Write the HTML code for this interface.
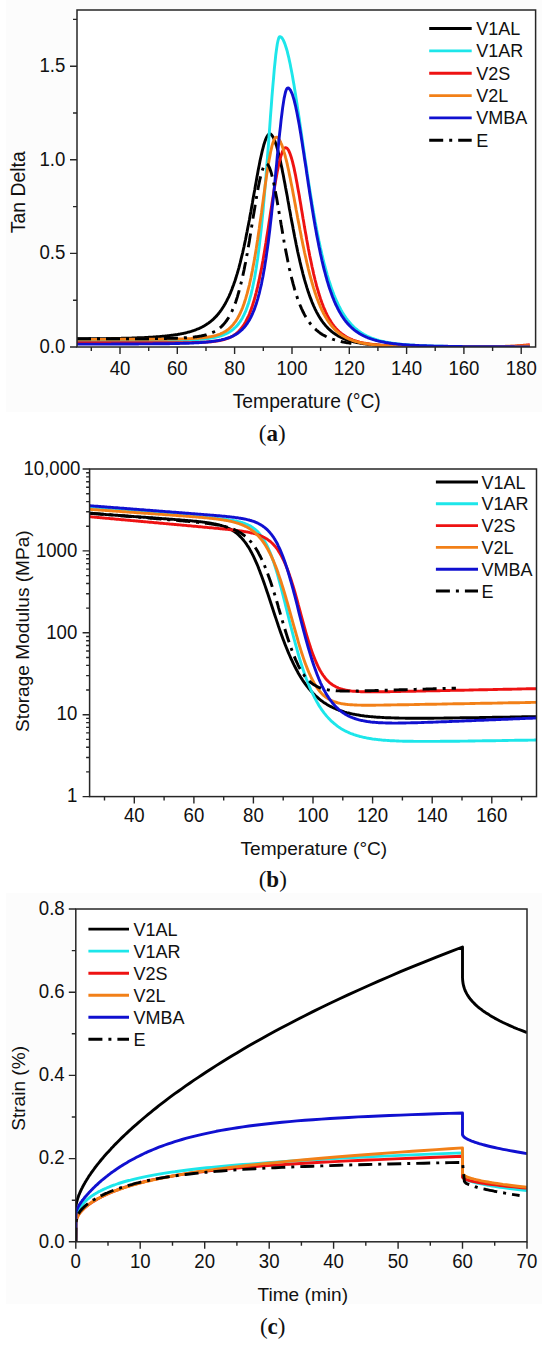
<!DOCTYPE html>
<html><head><meta charset="utf-8"><title>Figure</title>
<style>html,body{margin:0;padding:0;background:#fff;width:550px;height:1346px;overflow:hidden;position:relative}</style>
</head><body>
<svg width="550" height="1346" viewBox="0 0 550 1346" style="position:absolute;left:0;top:0;font-family:'Liberation Sans', sans-serif;fill:#111111">
<rect x="0" y="0" width="550" height="1346" fill="#ffffff"/>
<rect x="6" y="0" width="536" height="412" fill="#fcfcfc"/>
<rect x="6" y="893" width="536" height="411" fill="#fcfcfc"/>
<rect x="77" y="10" width="458.6" height="337" fill="#ffffff"/>
<rect x="89.6" y="469" width="446.8" height="327.6" fill="#ffffff"/>
<rect x="75.8" y="909" width="451.1" height="332.8" fill="#ffffff"/>
<g clip-path="url(#ca)">
<path d="M77.0,339.0 L77.8,338.9 L78.5,338.9 L79.3,338.9 L80.0,338.9 L80.8,338.9 L81.5,338.9 L82.3,338.9 L83.0,338.9 L83.8,338.9 L84.6,338.9 L85.3,338.9 L86.1,338.9 L86.8,338.9 L87.6,338.9 L88.3,338.9 L89.1,338.8 L89.9,338.8 L90.6,338.8 L91.4,338.8 L92.1,338.8 L92.9,338.8 L93.6,338.8 L94.4,338.8 L95.1,338.8 L95.9,338.8 L96.7,338.8 L97.4,338.8 L98.2,338.7 L98.9,338.7 L99.7,338.7 L100.4,338.7 L101.2,338.7 L101.9,338.7 L102.7,338.7 L103.5,338.7 L104.2,338.7 L105.0,338.7 L105.7,338.6 L106.5,338.6 L107.2,338.6 L108.0,338.6 L108.8,338.6 L109.5,338.6 L110.3,338.6 L111.0,338.6 L111.8,338.5 L112.5,338.5 L113.3,338.5 L114.0,338.5 L114.8,338.5 L115.6,338.5 L116.3,338.4 L117.1,338.4 L117.8,338.4 L118.6,338.4 L119.3,338.4 L120.1,338.4 L120.8,338.4 L121.6,338.3 L122.4,338.3 L123.1,338.3 L123.9,338.3 L124.6,338.3 L125.4,338.2 L126.1,338.2 L126.9,338.2 L127.7,338.2 L128.4,338.2 L129.2,338.1 L129.9,338.1 L130.7,338.1 L131.4,338.1 L132.2,338.0 L132.9,338.0 L133.7,338.0 L134.5,338.0 L135.2,337.9 L136.0,337.9 L136.7,337.9 L137.5,337.8 L138.2,337.8 L139.0,337.8 L139.7,337.8 L140.5,337.7 L141.3,337.7 L142.0,337.7 L142.8,337.6 L143.5,337.6 L144.3,337.6 L145.0,337.5 L145.8,337.5 L146.5,337.4 L147.3,337.4 L148.1,337.4 L148.8,337.3 L149.6,337.3 L150.3,337.2 L151.1,337.2 L151.8,337.1 L152.6,337.1 L153.4,337.0 L154.1,337.0 L154.9,336.9 L155.6,336.9 L156.4,336.8 L157.1,336.8 L157.9,336.7 L158.6,336.7 L159.4,336.6 L160.2,336.5 L160.9,336.5 L161.7,336.4 L162.4,336.3 L163.2,336.3 L163.9,336.2 L164.7,336.1 L165.4,336.0 L166.2,336.0 L167.0,335.9 L167.7,335.8 L168.5,335.7 L169.2,335.6 L170.0,335.5 L170.7,335.4 L171.5,335.3 L172.3,335.2 L173.0,335.1 L173.8,335.0 L174.5,334.9 L175.3,334.8 L176.0,334.7 L176.8,334.6 L177.5,334.5 L178.3,334.3 L179.1,334.2 L179.8,334.1 L180.6,333.9 L181.3,333.8 L182.1,333.6 L182.8,333.5 L183.6,333.3 L184.3,333.1 L185.1,333.0 L185.9,332.8 L186.6,332.6 L187.4,332.4 L188.1,332.2 L188.9,332.0 L189.6,331.8 L190.4,331.6 L191.2,331.4 L191.9,331.1 L192.7,330.9 L193.4,330.6 L194.2,330.4 L194.9,330.1 L195.7,329.8 L196.4,329.5 L197.2,329.2 L198.0,328.9 L198.7,328.6 L199.5,328.3 L200.2,327.9 L201.0,327.6 L201.7,327.2 L202.5,326.8 L203.2,326.4 L204.0,326.0 L204.8,325.5 L205.5,325.1 L206.3,324.6 L207.0,324.1 L207.8,323.6 L208.5,323.1 L209.3,322.5 L210.1,321.9 L210.8,321.3 L211.6,320.7 L212.3,320.1 L213.1,319.4 L213.8,318.7 L214.6,317.9 L215.3,317.2 L216.1,316.4 L216.9,315.6 L217.6,314.7 L218.4,313.8 L219.1,312.8 L219.9,311.9 L220.6,310.8 L221.4,309.8 L222.1,308.7 L222.9,307.5 L223.7,306.3 L224.4,305.0 L225.2,303.7 L225.9,302.4 L226.7,300.9 L227.4,299.4 L228.2,297.9 L229.0,296.3 L229.7,294.6 L230.5,292.8 L231.2,291.0 L232.0,289.1 L232.7,287.1 L233.5,285.0 L234.2,282.9 L235.0,280.7 L235.8,278.3 L236.5,275.9 L237.3,273.4 L238.0,270.8 L238.8,268.1 L239.5,265.3 L240.3,262.4 L241.0,259.4 L241.8,256.2 L242.6,253.0 L243.3,249.7 L244.1,246.3 L244.8,242.8 L245.6,239.2 L246.3,235.4 L247.1,231.6 L247.8,227.7 L248.6,223.8 L249.4,219.7 L250.1,215.6 L250.9,211.4 L251.6,207.2 L252.4,202.9 L253.1,198.6 L253.9,194.3 L254.7,190.0 L255.4,185.7 L256.2,181.4 L256.9,177.2 L257.7,173.1 L258.4,169.1 L259.2,165.2 L259.9,161.4 L260.7,157.8 L261.5,154.3 L262.2,151.1 L263.0,148.1 L263.7,145.3 L264.5,142.8 L265.2,140.6 L266.0,138.6 L266.7,137.0 L267.5,135.7 L268.3,134.7 L269.0,134.1 L269.8,133.8 L270.5,134.0 L271.3,134.6 L272.0,135.5 L272.8,136.6 L273.6,138.0 L274.3,139.7 L275.1,141.6 L275.8,143.7 L276.6,146.1 L277.3,148.7 L278.1,151.5 L278.8,154.5 L279.6,157.7 L280.4,161.0 L281.1,164.5 L281.9,168.1 L282.6,171.9 L283.4,175.8 L284.1,179.7 L284.9,183.7 L285.6,187.8 L286.4,191.9 L287.2,196.1 L287.9,200.3 L288.7,204.5 L289.4,208.7 L290.2,212.8 L290.9,217.0 L291.7,221.1 L292.5,225.1 L293.2,229.1 L294.0,233.1 L294.7,237.0 L295.5,240.8 L296.2,244.5 L297.0,248.1 L297.7,251.7 L298.5,255.2 L299.3,258.6 L300.0,261.9 L300.8,265.1 L301.5,268.2 L302.3,271.2 L303.0,274.1 L303.8,277.0 L304.5,279.7 L305.3,282.4 L306.1,284.9 L306.8,287.4 L307.6,289.8 L308.3,292.1 L309.1,294.3 L309.8,296.4 L310.6,298.4 L311.4,300.4 L312.1,302.3 L312.9,304.1 L313.6,305.8 L314.4,307.5 L315.1,309.1 L315.9,310.7 L316.6,312.1 L317.4,313.6 L318.2,314.9 L318.9,316.2 L319.7,317.5 L320.4,318.7 L321.2,319.8 L321.9,320.9 L322.7,322.0 L323.4,323.0 L324.2,323.9 L325.0,324.9 L325.7,325.7 L326.5,326.6 L327.2,327.4 L328.0,328.2 L328.7,328.9 L329.5,329.6 L330.3,330.3 L331.0,331.0 L331.8,331.6 L332.5,332.2 L333.3,332.8 L334.0,333.3 L334.8,333.8 L335.5,334.3 L336.3,334.8 L337.1,335.3 L337.8,335.7 L338.6,336.2 L339.3,336.6 L340.1,336.9 L340.8,337.3 L341.6,337.7 L342.3,338.0 L343.1,338.4 L343.9,338.7 L344.6,339.0 L345.4,339.3 L346.1,339.5 L346.9,339.8 L347.6,340.1 L348.4,340.3 L349.2,340.6 L349.9,340.8 L350.7,341.0 L351.4,341.2 L352.2,341.4 L352.9,341.6 L353.7,341.8 L354.4,342.0 L355.2,342.1 L356.0,342.3 L356.7,342.5 L357.5,342.6 L358.2,342.8 L359.0,342.9 L359.7,343.0 L360.5,343.2 L361.2,343.3 L362.0,343.4 L362.8,343.5 L363.5,343.7 L364.3,343.8 L365.0,343.9 L365.8,344.0 L366.5,344.1 L367.3,344.2 L368.0,344.2 L368.8,344.3 L369.6,344.4 L370.3,344.5 L371.1,344.6 L371.8,344.6 L372.6,344.7 L373.3,344.8 L374.1,344.9 L374.9,344.9 L375.6,345.0 L376.4,345.0 L377.1,345.1 L377.9,345.2 L378.6,345.2 L379.4,345.3 L380.1,345.3 L380.9,345.4 L381.7,345.4 L382.4,345.5 L383.2,345.5 L383.9,345.5 L384.7,345.6 L385.4,345.6 L386.2,345.7 L386.9,345.7 L387.7,345.7 L388.5,345.8 L389.2,345.8 L390.0,345.8 L390.7,345.9 L391.5,345.9 L392.2,345.9 L393.0,346.0 L393.8,346.0 L394.5,346.0 L395.3,346.0 L396.0,346.1 L396.8,346.1 L397.5,346.1 L398.3,346.1 L399.0,346.2 L399.8,346.2 L400.6,346.2 L401.3,346.2 L402.1,346.2 L402.8,346.3 L403.6,346.3 L404.3,346.3 L405.1,346.3 L405.8,346.3 L406.6,346.4 L407.4,346.4 L408.1,346.4 L408.9,346.4 L409.6,346.4 L410.4,346.4 L411.1,346.4 L411.9,346.5 L412.7,346.5 L413.4,346.5 L414.2,346.5 L414.9,346.5 L415.7,346.5 L416.4,346.5 L417.2,346.5 L417.9,346.6 L418.7,346.6 L419.5,346.6 L420.2,346.6 L421.0,346.6 L421.7,346.6 L422.5,346.6 L423.2,346.6 L424.0,346.6 L424.7,346.6 L425.5,346.6 L426.3,346.7 L427.0,346.7 L427.8,346.7 L428.5,346.7 L429.3,346.7 L430.0,346.7 L430.8,346.7 L431.6,346.7 L432.3,346.7 L433.1,346.7 L433.8,346.7 L434.6,346.7 L435.3,346.7 L436.1,346.7 L436.8,346.7 L437.6,346.8 L438.4,346.8 L439.1,346.8 L439.9,346.8 L440.6,346.8 L441.4,346.8 L442.1,346.8 L442.9,346.8 L443.6,346.8 L444.4,346.8 L445.2,346.8 L445.9,346.8 L446.7,346.8 L447.4,346.8 L448.2,346.8 L448.9,346.8 L449.7,346.8 L450.5,346.8 L451.2,346.8 L452.0,346.8 L452.7,346.8 L453.5,346.8 L454.2,346.8 L455.0,346.8 L455.7,346.8 L456.5,346.9 L457.3,346.9 L458.0,346.9 L458.8,346.9 L459.5,346.9 L460.3,346.9 L461.0,346.9 L461.8,346.9 L462.5,346.9 L463.3,346.9 L464.1,346.9 L464.8,346.9 L465.6,346.9 L466.3,346.9 L467.1,346.9 L467.8,346.9 L468.6,346.9 L469.4,346.9 L470.1,346.9 L470.9,346.9 L471.6,346.9 L472.4,346.9 L473.1,346.9 L473.9,346.9 L474.6,346.9 L475.4,346.9 L476.2,346.9 L476.9,346.9 L477.7,346.9 L478.4,346.9 L479.2,346.9 L479.9,346.9 L480.7,346.9 L481.4,346.9 L482.2,346.9 L483.0,346.9 L483.7,346.9 L484.5,346.9 L485.2,346.9 L486.0,346.9 L486.7,346.9 L487.5,346.9 L488.2,346.9 L489.0,346.9 L489.8,346.9 L490.5,346.9 L491.3,346.9 L492.0,346.9 L492.8,346.9 L493.5,346.9 L494.3,346.9 L495.1,346.9 L495.8,346.9 L496.6,346.9 L497.3,346.9 L498.1,346.9 L498.8,346.9 L499.6,346.9 L500.3,346.9 L501.1,346.9 L501.9,346.9 L502.6,346.9 L503.4,346.9 L504.1,347.0 L504.9,347.0 L505.6,347.0 L506.4,347.0 L507.1,347.0 L507.9,347.0 L508.7,347.0 L509.4,347.0 L510.2,347.0 L510.9,347.0 L511.7,347.0 L512.4,347.0 L513.2,347.0 L514.0,347.0 L514.7,347.0 L515.5,347.0 L516.2,347.0 L517.0,347.0 L517.7,347.0 L518.5,347.0 L519.2,347.0 L520.0,347.0 L520.8,347.0 L521.5,347.0 L522.3,347.0 L523.0,347.0 L523.8,347.0 L524.5,347.0 L525.3,347.0 L526.0,347.0 L526.8,347.0 L527.6,347.0 L528.3,347.0 L529.1,347.0 L529.8,347.0" fill="none" stroke="#000000" stroke-width="2.9" stroke-linejoin="round"/>
<path d="M77.0,341.1 L77.8,341.1 L78.5,341.1 L79.3,341.1 L80.0,341.1 L80.8,341.1 L81.5,341.1 L82.3,341.1 L83.0,341.1 L83.8,341.1 L84.6,341.1 L85.3,341.1 L86.1,341.1 L86.8,341.1 L87.6,341.1 L88.3,341.1 L89.1,341.1 L89.9,341.1 L90.6,341.1 L91.4,341.1 L92.1,341.1 L92.9,341.1 L93.6,341.1 L94.4,341.1 L95.1,341.1 L95.9,341.1 L96.7,341.1 L97.4,341.1 L98.2,341.1 L98.9,341.1 L99.7,341.1 L100.4,341.1 L101.2,341.1 L101.9,341.1 L102.7,341.1 L103.5,341.1 L104.2,341.1 L105.0,341.1 L105.7,341.1 L106.5,341.1 L107.2,341.1 L108.0,341.1 L108.8,341.1 L109.5,341.1 L110.3,341.1 L111.0,341.1 L111.8,341.1 L112.5,341.1 L113.3,341.1 L114.0,341.1 L114.8,341.1 L115.6,341.1 L116.3,341.1 L117.1,341.1 L117.8,341.1 L118.6,341.1 L119.3,341.1 L120.1,341.1 L120.8,341.1 L121.6,341.1 L122.4,341.1 L123.1,341.1 L123.9,341.1 L124.6,341.0 L125.4,341.0 L126.1,341.0 L126.9,341.0 L127.7,341.0 L128.4,341.0 L129.2,341.0 L129.9,341.0 L130.7,341.0 L131.4,341.0 L132.2,341.0 L132.9,341.0 L133.7,341.0 L134.5,341.0 L135.2,341.0 L136.0,341.0 L136.7,341.0 L137.5,341.0 L138.2,341.0 L139.0,341.0 L139.7,341.0 L140.5,341.0 L141.3,341.0 L142.0,341.0 L142.8,341.0 L143.5,341.0 L144.3,341.0 L145.0,340.9 L145.8,340.9 L146.5,340.9 L147.3,340.9 L148.1,340.9 L148.8,340.9 L149.6,340.9 L150.3,340.9 L151.1,340.9 L151.8,340.9 L152.6,340.9 L153.4,340.9 L154.1,340.9 L154.9,340.9 L155.6,340.9 L156.4,340.8 L157.1,340.8 L157.9,340.8 L158.6,340.8 L159.4,340.8 L160.2,340.8 L160.9,340.8 L161.7,340.8 L162.4,340.8 L163.2,340.8 L163.9,340.8 L164.7,340.7 L165.4,340.7 L166.2,340.7 L167.0,340.7 L167.7,340.7 L168.5,340.7 L169.2,340.7 L170.0,340.7 L170.7,340.6 L171.5,340.6 L172.3,340.6 L173.0,340.6 L173.8,340.6 L174.5,340.6 L175.3,340.5 L176.0,340.5 L176.8,340.5 L177.5,340.5 L178.3,340.5 L179.1,340.4 L179.8,340.4 L180.6,340.4 L181.3,340.4 L182.1,340.3 L182.8,340.3 L183.6,340.3 L184.3,340.3 L185.1,340.2 L185.9,340.2 L186.6,340.2 L187.4,340.2 L188.1,340.1 L188.9,340.1 L189.6,340.0 L190.4,340.0 L191.2,340.0 L191.9,339.9 L192.7,339.9 L193.4,339.8 L194.2,339.8 L194.9,339.8 L195.7,339.7 L196.4,339.7 L197.2,339.6 L198.0,339.5 L198.7,339.5 L199.5,339.4 L200.2,339.4 L201.0,339.3 L201.7,339.2 L202.5,339.2 L203.2,339.1 L204.0,339.0 L204.8,338.9 L205.5,338.8 L206.3,338.8 L207.0,338.7 L207.8,338.6 L208.5,338.5 L209.3,338.3 L210.1,338.2 L210.8,338.1 L211.6,338.0 L212.3,337.9 L213.1,337.7 L213.8,337.6 L214.6,337.4 L215.3,337.3 L216.1,337.1 L216.9,336.9 L217.6,336.7 L218.4,336.5 L219.1,336.3 L219.9,336.1 L220.6,335.9 L221.4,335.6 L222.1,335.4 L222.9,335.1 L223.7,334.8 L224.4,334.5 L225.2,334.2 L225.9,333.9 L226.7,333.5 L227.4,333.1 L228.2,332.7 L229.0,332.3 L229.7,331.8 L230.5,331.3 L231.2,330.8 L232.0,330.3 L232.7,329.7 L233.5,329.1 L234.2,328.4 L235.0,327.7 L235.8,327.0 L236.5,326.2 L237.3,325.4 L238.0,324.5 L238.8,323.5 L239.5,322.5 L240.3,321.4 L241.0,320.2 L241.8,319.0 L242.6,317.6 L243.3,316.2 L244.1,314.6 L244.8,313.0 L245.6,311.3 L246.3,309.4 L247.1,307.3 L247.8,305.2 L248.6,302.9 L249.4,300.4 L250.1,297.7 L250.9,294.9 L251.6,291.8 L252.4,288.5 L253.1,285.0 L253.9,281.3 L254.7,277.2 L255.4,272.9 L256.2,268.3 L256.9,263.4 L257.7,258.2 L258.4,252.6 L259.2,246.7 L259.9,240.4 L260.7,233.7 L261.5,226.6 L262.2,219.1 L263.0,211.3 L263.7,203.0 L264.5,194.4 L265.2,185.4 L266.0,176.1 L266.7,166.5 L267.5,156.7 L268.3,146.6 L269.0,136.4 L269.8,126.2 L270.5,116.0 L271.3,105.9 L272.0,96.1 L272.8,86.6 L273.6,77.6 L274.3,69.2 L275.1,61.5 L275.8,54.7 L276.6,48.8 L277.3,44.0 L278.1,40.3 L278.8,37.8 L279.6,36.6 L280.4,36.6 L281.1,37.1 L281.9,37.9 L282.6,38.9 L283.4,40.3 L284.1,41.9 L284.9,43.9 L285.6,46.0 L286.4,48.5 L287.2,51.2 L287.9,54.1 L288.7,57.3 L289.4,60.6 L290.2,64.2 L290.9,68.0 L291.7,72.0 L292.5,76.2 L293.2,80.5 L294.0,84.9 L294.7,89.5 L295.5,94.2 L296.2,99.0 L297.0,103.9 L297.7,108.9 L298.5,113.9 L299.3,119.0 L300.0,124.2 L300.8,129.4 L301.5,134.5 L302.3,139.7 L303.0,144.9 L303.8,150.1 L304.5,155.3 L305.3,160.4 L306.1,165.5 L306.8,170.5 L307.6,175.5 L308.3,180.4 L309.1,185.3 L309.8,190.1 L310.6,194.8 L311.4,199.4 L312.1,204.0 L312.9,208.4 L313.6,212.8 L314.4,217.1 L315.1,221.2 L315.9,225.3 L316.6,229.3 L317.4,233.2 L318.2,237.0 L318.9,240.7 L319.7,244.3 L320.4,247.8 L321.2,251.2 L321.9,254.4 L322.7,257.6 L323.4,260.7 L324.2,263.8 L325.0,266.7 L325.7,269.5 L326.5,272.2 L327.2,274.9 L328.0,277.4 L328.7,279.9 L329.5,282.3 L330.3,284.6 L331.0,286.8 L331.8,289.0 L332.5,291.1 L333.3,293.1 L334.0,295.0 L334.8,296.9 L335.5,298.7 L336.3,300.4 L337.1,302.1 L337.8,303.7 L338.6,305.3 L339.3,306.8 L340.1,308.2 L340.8,309.6 L341.6,311.0 L342.3,312.3 L343.1,313.5 L343.9,314.7 L344.6,315.9 L345.4,317.0 L346.1,318.1 L346.9,319.1 L347.6,320.1 L348.4,321.0 L349.2,321.9 L349.9,322.8 L350.7,323.7 L351.4,324.5 L352.2,325.3 L352.9,326.1 L353.7,326.8 L354.4,327.5 L355.2,328.2 L356.0,328.8 L356.7,329.4 L357.5,330.1 L358.2,330.6 L359.0,331.2 L359.7,331.7 L360.5,332.3 L361.2,332.8 L362.0,333.2 L362.8,333.7 L363.5,334.2 L364.3,334.6 L365.0,335.0 L365.8,335.4 L366.5,335.8 L367.3,336.2 L368.0,336.5 L368.8,336.9 L369.6,337.2 L370.3,337.5 L371.1,337.8 L371.8,338.1 L372.6,338.4 L373.3,338.7 L374.1,338.9 L374.9,339.2 L375.6,339.4 L376.4,339.7 L377.1,339.9 L377.9,340.1 L378.6,340.4 L379.4,340.6 L380.1,340.8 L380.9,341.0 L381.7,341.1 L382.4,341.3 L383.2,341.5 L383.9,341.7 L384.7,341.8 L385.4,342.0 L386.2,342.1 L386.9,342.3 L387.7,342.4 L388.5,342.6 L389.2,342.7 L390.0,342.8 L390.7,342.9 L391.5,343.1 L392.2,343.2 L393.0,343.3 L393.8,343.4 L394.5,343.5 L395.3,343.6 L396.0,343.7 L396.8,343.8 L397.5,343.9 L398.3,344.0 L399.0,344.1 L399.8,344.1 L400.6,344.2 L401.3,344.3 L402.1,344.4 L402.8,344.4 L403.6,344.5 L404.3,344.6 L405.1,344.7 L405.8,344.7 L406.6,344.8 L407.4,344.8 L408.1,344.9 L408.9,345.0 L409.6,345.0 L410.4,345.1 L411.1,345.1 L411.9,345.2 L412.7,345.2 L413.4,345.3 L414.2,345.3 L414.9,345.3 L415.7,345.4 L416.4,345.4 L417.2,345.5 L417.9,345.5 L418.7,345.6 L419.5,345.6 L420.2,345.6 L421.0,345.7 L421.7,345.7 L422.5,345.7 L423.2,345.8 L424.0,345.8 L424.7,345.8 L425.5,345.8 L426.3,345.9 L427.0,345.9 L427.8,345.9 L428.5,346.0 L429.3,346.0 L430.0,346.0 L430.8,346.0 L431.6,346.1 L432.3,346.1 L433.1,346.1 L433.8,346.1 L434.6,346.1 L435.3,346.2 L436.1,346.2 L436.8,346.2 L437.6,346.2 L438.4,346.2 L439.1,346.3 L439.9,346.3 L440.6,346.3 L441.4,346.3 L442.1,346.3 L442.9,346.3 L443.6,346.4 L444.4,346.4 L445.2,346.4 L445.9,346.4 L446.7,346.4 L447.4,346.4 L448.2,346.4 L448.9,346.4 L449.7,346.5 L450.5,346.5 L451.2,346.5 L452.0,346.5 L452.7,346.5 L453.5,346.5 L454.2,346.5 L455.0,346.5 L455.7,346.5 L456.5,346.6 L457.3,346.6 L458.0,346.6 L458.8,346.6 L459.5,346.6 L460.3,346.6 L461.0,346.6 L461.8,346.6 L462.5,346.6 L463.3,346.6 L464.1,346.6 L464.8,346.6 L465.6,346.7 L466.3,346.7 L467.1,346.7 L467.8,346.7 L468.6,346.7 L469.4,346.7 L470.1,346.7 L470.9,346.7 L471.6,346.7 L472.4,346.7 L473.1,346.7 L473.9,346.7 L474.6,346.7 L475.4,346.7 L476.2,346.7 L476.9,346.7 L477.7,346.7 L478.4,346.8 L479.2,346.8 L479.9,346.8 L480.7,346.8 L481.4,346.8 L482.2,346.8 L483.0,346.8 L483.7,346.8 L484.5,346.8 L485.2,346.8 L486.0,346.8 L486.7,346.8 L487.5,346.8 L488.2,346.8 L489.0,346.8 L489.8,346.8 L490.5,346.8 L491.3,346.8 L492.0,346.8 L492.8,346.8 L493.5,346.8 L494.3,346.8 L495.1,346.8 L495.8,346.8 L496.6,346.8 L497.3,346.8 L498.1,346.8 L498.8,346.9 L499.6,346.9 L500.3,346.9 L501.1,346.9 L501.9,346.9 L502.6,346.9 L503.4,346.9 L504.1,346.9 L504.9,346.9 L505.6,346.9 L506.4,346.9 L507.1,346.9 L507.9,346.9 L508.7,346.9 L509.4,346.9 L510.2,346.9 L510.9,346.9 L511.7,346.9 L512.4,346.9 L513.2,346.9 L514.0,346.9 L514.7,346.9 L515.5,346.9 L516.2,346.9 L517.0,346.9 L517.7,346.9 L518.5,346.9 L519.2,346.9 L520.0,346.9 L520.8,346.9 L521.5,346.9 L522.3,346.9 L523.0,346.9 L523.8,346.9 L524.5,346.9 L525.3,346.9 L526.0,346.9 L526.8,346.9 L527.6,346.9 L528.3,346.9 L529.1,346.9 L529.8,346.9" fill="none" stroke="#1de6ea" stroke-width="2.9" stroke-linejoin="round"/>
<path d="M77.0,342.8 L77.8,342.8 L78.5,342.8 L79.3,342.8 L80.0,342.8 L80.8,342.8 L81.5,342.8 L82.3,342.8 L83.0,342.8 L83.8,342.8 L84.6,342.8 L85.3,342.8 L86.1,342.8 L86.8,342.8 L87.6,342.8 L88.3,342.8 L89.1,342.8 L89.9,342.8 L90.6,342.8 L91.4,342.8 L92.1,342.8 L92.9,342.8 L93.6,342.8 L94.4,342.8 L95.1,342.8 L95.9,342.8 L96.7,342.8 L97.4,342.8 L98.2,342.8 L98.9,342.8 L99.7,342.8 L100.4,342.8 L101.2,342.8 L101.9,342.8 L102.7,342.8 L103.5,342.8 L104.2,342.8 L105.0,342.8 L105.7,342.8 L106.5,342.8 L107.2,342.8 L108.0,342.8 L108.8,342.8 L109.5,342.8 L110.3,342.8 L111.0,342.8 L111.8,342.8 L112.5,342.8 L113.3,342.8 L114.0,342.8 L114.8,342.8 L115.6,342.8 L116.3,342.8 L117.1,342.8 L117.8,342.8 L118.6,342.8 L119.3,342.8 L120.1,342.8 L120.8,342.8 L121.6,342.8 L122.4,342.8 L123.1,342.8 L123.9,342.8 L124.6,342.8 L125.4,342.8 L126.1,342.8 L126.9,342.8 L127.7,342.8 L128.4,342.8 L129.2,342.8 L129.9,342.8 L130.7,342.8 L131.4,342.8 L132.2,342.8 L132.9,342.8 L133.7,342.8 L134.5,342.8 L135.2,342.8 L136.0,342.8 L136.7,342.8 L137.5,342.8 L138.2,342.8 L139.0,342.8 L139.7,342.8 L140.5,342.8 L141.3,342.8 L142.0,342.8 L142.8,342.8 L143.5,342.8 L144.3,342.8 L145.0,342.8 L145.8,342.8 L146.5,342.8 L147.3,342.8 L148.1,342.8 L148.8,342.8 L149.6,342.8 L150.3,342.8 L151.1,342.8 L151.8,342.8 L152.6,342.8 L153.4,342.8 L154.1,342.8 L154.9,342.8 L155.6,342.8 L156.4,342.8 L157.1,342.8 L157.9,342.8 L158.6,342.8 L159.4,342.8 L160.2,342.8 L160.9,342.8 L161.7,342.8 L162.4,342.8 L163.2,342.8 L163.9,342.8 L164.7,342.8 L165.4,342.8 L166.2,342.8 L167.0,342.8 L167.7,342.8 L168.5,342.8 L169.2,342.8 L170.0,342.8 L170.7,342.8 L171.5,342.8 L172.3,342.8 L173.0,342.8 L173.8,342.8 L174.5,342.7 L175.3,342.7 L176.0,342.7 L176.8,342.7 L177.5,342.7 L178.3,342.7 L179.1,342.7 L179.8,342.7 L180.6,342.7 L181.3,342.7 L182.1,342.7 L182.8,342.7 L183.6,342.7 L184.3,342.7 L185.1,342.7 L185.9,342.7 L186.6,342.6 L187.4,342.6 L188.1,342.6 L188.9,342.6 L189.6,342.6 L190.4,342.6 L191.2,342.6 L191.9,342.6 L192.7,342.5 L193.4,342.5 L194.2,342.5 L194.9,342.5 L195.7,342.5 L196.4,342.5 L197.2,342.4 L198.0,342.4 L198.7,342.4 L199.5,342.4 L200.2,342.3 L201.0,342.3 L201.7,342.3 L202.5,342.2 L203.2,342.2 L204.0,342.2 L204.8,342.1 L205.5,342.1 L206.3,342.1 L207.0,342.0 L207.8,342.0 L208.5,341.9 L209.3,341.8 L210.1,341.8 L210.8,341.7 L211.6,341.7 L212.3,341.6 L213.1,341.5 L213.8,341.4 L214.6,341.3 L215.3,341.2 L216.1,341.1 L216.9,341.0 L217.6,340.9 L218.4,340.8 L219.1,340.7 L219.9,340.5 L220.6,340.4 L221.4,340.2 L222.1,340.0 L222.9,339.9 L223.7,339.7 L224.4,339.5 L225.2,339.2 L225.9,339.0 L226.7,338.7 L227.4,338.5 L228.2,338.2 L229.0,337.9 L229.7,337.5 L230.5,337.2 L231.2,336.8 L232.0,336.4 L232.7,336.0 L233.5,335.5 L234.2,335.0 L235.0,334.5 L235.8,333.9 L236.5,333.3 L237.3,332.7 L238.0,332.0 L238.8,331.2 L239.5,330.4 L240.3,329.6 L241.0,328.7 L241.8,327.7 L242.6,326.7 L243.3,325.6 L244.1,324.5 L244.8,323.2 L245.6,321.9 L246.3,320.5 L247.1,319.0 L247.8,317.4 L248.6,315.8 L249.4,314.0 L250.1,312.1 L250.9,310.1 L251.6,308.0 L252.4,305.7 L253.1,303.4 L253.9,300.9 L254.7,298.3 L255.4,295.5 L256.2,292.6 L256.9,289.6 L257.7,286.4 L258.4,283.1 L259.2,279.7 L259.9,276.0 L260.7,272.3 L261.5,268.4 L262.2,264.4 L263.0,260.2 L263.7,255.9 L264.5,251.4 L265.2,246.9 L266.0,242.3 L266.7,237.5 L267.5,232.7 L268.3,227.8 L269.0,222.9 L269.8,217.9 L270.5,213.0 L271.3,208.0 L272.0,203.1 L272.8,198.2 L273.6,193.4 L274.3,188.7 L275.1,184.1 L275.8,179.7 L276.6,175.5 L277.3,171.5 L278.1,167.7 L278.8,164.2 L279.6,161.0 L280.4,158.0 L281.1,155.4 L281.9,153.2 L282.6,151.3 L283.4,149.8 L284.1,148.7 L284.9,148.0 L285.6,147.6 L286.4,147.8 L287.2,148.4 L287.9,149.3 L288.7,150.6 L289.4,152.2 L290.2,154.1 L290.9,156.3 L291.7,158.8 L292.5,161.6 L293.2,164.6 L294.0,167.9 L294.7,171.4 L295.5,175.1 L296.2,179.0 L297.0,183.1 L297.7,187.2 L298.5,191.5 L299.3,195.8 L300.0,200.2 L300.8,204.7 L301.5,209.2 L302.3,213.7 L303.0,218.2 L303.8,222.6 L304.5,227.1 L305.3,231.4 L306.1,235.8 L306.8,240.0 L307.6,244.2 L308.3,248.2 L309.1,252.2 L309.8,256.1 L310.6,259.8 L311.4,263.5 L312.1,267.0 L312.9,270.4 L313.6,273.8 L314.4,277.0 L315.1,280.0 L315.9,283.0 L316.6,285.9 L317.4,288.6 L318.2,291.2 L318.9,293.8 L319.7,296.2 L320.4,298.5 L321.2,300.7 L321.9,302.8 L322.7,304.8 L323.4,306.8 L324.2,308.6 L325.0,310.4 L325.7,312.1 L326.5,313.7 L327.2,315.2 L328.0,316.7 L328.7,318.1 L329.5,319.4 L330.3,320.6 L331.0,321.8 L331.8,323.0 L332.5,324.1 L333.3,325.1 L334.0,326.1 L334.8,327.0 L335.5,327.9 L336.3,328.8 L337.1,329.6 L337.8,330.4 L338.6,331.1 L339.3,331.8 L340.1,332.4 L340.8,333.1 L341.6,333.7 L342.3,334.3 L343.1,334.8 L343.9,335.3 L344.6,335.8 L345.4,336.3 L346.1,336.8 L346.9,337.2 L347.6,337.6 L348.4,338.0 L349.2,338.4 L349.9,338.7 L350.7,339.0 L351.4,339.4 L352.2,339.7 L352.9,340.0 L353.7,340.3 L354.4,340.5 L355.2,340.8 L356.0,341.0 L356.7,341.3 L357.5,341.5 L358.2,341.7 L359.0,341.9 L359.7,342.1 L360.5,342.3 L361.2,342.5 L362.0,342.6 L362.8,342.8 L363.5,343.0 L364.3,343.1 L365.0,343.2 L365.8,343.4 L366.5,343.5 L367.3,343.6 L368.0,343.8 L368.8,343.9 L369.6,344.0 L370.3,344.1 L371.1,344.2 L371.8,344.3 L372.6,344.4 L373.3,344.5 L374.1,344.6 L374.9,344.7 L375.6,344.7 L376.4,344.8 L377.1,344.9 L377.9,345.0 L378.6,345.0 L379.4,345.1 L380.1,345.2 L380.9,345.2 L381.7,345.3 L382.4,345.3 L383.2,345.4 L383.9,345.4 L384.7,345.5 L385.4,345.5 L386.2,345.6 L386.9,345.6 L387.7,345.7 L388.5,345.7 L389.2,345.7 L390.0,345.8 L390.7,345.8 L391.5,345.9 L392.2,345.9 L393.0,345.9 L393.8,346.0 L394.5,346.0 L395.3,346.0 L396.0,346.1 L396.8,346.1 L397.5,346.1 L398.3,346.1 L399.0,346.2 L399.8,346.2 L400.6,346.2 L401.3,346.2 L402.1,346.3 L402.8,346.3 L403.6,346.3 L404.3,346.3 L405.1,346.3 L405.8,346.3 L406.6,346.4 L407.4,346.4 L408.1,346.4 L408.9,346.4 L409.6,346.4 L410.4,346.4 L411.1,346.5 L411.9,346.5 L412.7,346.5 L413.4,346.5 L414.2,346.5 L414.9,346.5 L415.7,346.5 L416.4,346.6 L417.2,346.6 L417.9,346.6 L418.7,346.6 L419.5,346.6 L420.2,346.6 L421.0,346.6 L421.7,346.6 L422.5,346.6 L423.2,346.6 L424.0,346.7 L424.7,346.7 L425.5,346.7 L426.3,346.7 L427.0,346.7 L427.8,346.7 L428.5,346.7 L429.3,346.7 L430.0,346.7 L430.8,346.7 L431.6,346.7 L432.3,346.7 L433.1,346.7 L433.8,346.7 L434.6,346.8 L435.3,346.8 L436.1,346.8 L436.8,346.8 L437.6,346.8 L438.4,346.8 L439.1,346.8 L439.9,346.8 L440.6,346.8 L441.4,346.8 L442.1,346.8 L442.9,346.8 L443.6,346.8 L444.4,346.8 L445.2,346.8 L445.9,346.8 L446.7,346.8 L447.4,346.8 L448.2,346.8 L448.9,346.8 L449.7,346.8 L450.5,346.8 L451.2,346.9 L452.0,346.9 L452.7,346.9 L453.5,346.9 L454.2,346.9 L455.0,346.9 L455.7,346.9 L456.5,346.9 L457.3,346.9 L458.0,346.9 L458.8,346.9 L459.5,346.9 L460.3,346.9 L461.0,346.9 L461.8,346.9 L462.5,346.9 L463.3,346.9 L464.1,346.9 L464.8,346.9 L465.6,346.9 L466.3,346.9 L467.1,346.9 L467.8,346.9 L468.6,346.9 L469.4,346.9 L470.1,346.9 L470.9,346.9 L471.6,346.9 L472.4,346.9 L473.1,346.9 L473.9,346.9 L474.6,346.9 L475.4,346.9 L476.2,346.9 L476.9,346.9 L477.7,346.9 L478.4,346.9 L479.2,346.9 L479.9,346.9 L480.7,346.9 L481.4,346.9 L482.2,346.9 L483.0,346.9 L483.7,346.9 L484.5,346.9 L485.2,346.9 L486.0,346.9 L486.7,346.9 L487.5,346.9 L488.2,346.9 L489.0,346.9 L489.8,346.9 L490.5,346.9 L491.3,346.9 L492.0,346.9 L492.8,346.9 L493.5,346.9 L494.3,347.0 L495.1,347.0 L495.8,347.0 L496.6,347.0 L497.3,347.0 L498.1,347.0 L498.8,347.0 L499.6,347.0 L500.3,347.0 L501.1,347.0 L501.9,346.9 L502.6,346.9 L503.4,346.9 L504.1,346.8 L504.9,346.8 L505.6,346.7 L506.4,346.7 L507.1,346.6 L507.9,346.6 L508.7,346.5 L509.4,346.5 L510.2,346.4 L510.9,346.3 L511.7,346.3 L512.4,346.2 L513.2,346.2 L514.0,346.1 L514.7,346.1 L515.5,346.0 L516.2,345.9 L517.0,345.9 L517.7,345.8 L518.5,345.7 L519.2,345.7 L520.0,345.6 L520.8,345.5 L521.5,345.5 L522.3,345.4 L523.0,345.4 L523.8,345.3 L524.5,345.2 L525.3,345.1 L526.0,345.1 L526.8,345.0 L527.6,344.9 L528.3,344.9 L529.1,344.8 L529.8,344.7" fill="none" stroke="#ee1212" stroke-width="2.9" stroke-linejoin="round"/>
<path d="M77.0,339.4 L77.8,339.4 L78.5,339.4 L79.3,339.4 L80.0,339.4 L80.8,339.4 L81.5,339.4 L82.3,339.4 L83.0,339.4 L83.8,339.4 L84.6,339.4 L85.3,339.4 L86.1,339.4 L86.8,339.4 L87.6,339.4 L88.3,339.4 L89.1,339.4 L89.9,339.4 L90.6,339.4 L91.4,339.4 L92.1,339.4 L92.9,339.4 L93.6,339.4 L94.4,339.4 L95.1,339.4 L95.9,339.4 L96.7,339.4 L97.4,339.4 L98.2,339.4 L98.9,339.4 L99.7,339.4 L100.4,339.4 L101.2,339.4 L101.9,339.4 L102.7,339.4 L103.5,339.4 L104.2,339.4 L105.0,339.4 L105.7,339.4 L106.5,339.4 L107.2,339.4 L108.0,339.4 L108.8,339.4 L109.5,339.4 L110.3,339.4 L111.0,339.3 L111.8,339.3 L112.5,339.3 L113.3,339.3 L114.0,339.3 L114.8,339.3 L115.6,339.3 L116.3,339.3 L117.1,339.3 L117.8,339.3 L118.6,339.3 L119.3,339.3 L120.1,339.3 L120.8,339.3 L121.6,339.3 L122.4,339.3 L123.1,339.3 L123.9,339.3 L124.6,339.3 L125.4,339.3 L126.1,339.3 L126.9,339.3 L127.7,339.3 L128.4,339.3 L129.2,339.3 L129.9,339.3 L130.7,339.3 L131.4,339.3 L132.2,339.3 L132.9,339.3 L133.7,339.3 L134.5,339.3 L135.2,339.3 L136.0,339.3 L136.7,339.3 L137.5,339.3 L138.2,339.3 L139.0,339.3 L139.7,339.3 L140.5,339.3 L141.3,339.3 L142.0,339.3 L142.8,339.3 L143.5,339.3 L144.3,339.3 L145.0,339.3 L145.8,339.3 L146.5,339.3 L147.3,339.3 L148.1,339.3 L148.8,339.3 L149.6,339.3 L150.3,339.3 L151.1,339.3 L151.8,339.3 L152.6,339.3 L153.4,339.3 L154.1,339.3 L154.9,339.2 L155.6,339.2 L156.4,339.2 L157.1,339.2 L157.9,339.2 L158.6,339.2 L159.4,339.2 L160.2,339.2 L160.9,339.2 L161.7,339.2 L162.4,339.2 L163.2,339.2 L163.9,339.2 L164.7,339.2 L165.4,339.2 L166.2,339.2 L167.0,339.2 L167.7,339.1 L168.5,339.1 L169.2,339.1 L170.0,339.1 L170.7,339.1 L171.5,339.1 L172.3,339.1 L173.0,339.1 L173.8,339.1 L174.5,339.1 L175.3,339.0 L176.0,339.0 L176.8,339.0 L177.5,339.0 L178.3,339.0 L179.1,339.0 L179.8,339.0 L180.6,338.9 L181.3,338.9 L182.1,338.9 L182.8,338.9 L183.6,338.9 L184.3,338.8 L185.1,338.8 L185.9,338.8 L186.6,338.8 L187.4,338.7 L188.1,338.7 L188.9,338.7 L189.6,338.6 L190.4,338.6 L191.2,338.6 L191.9,338.5 L192.7,338.5 L193.4,338.5 L194.2,338.4 L194.9,338.4 L195.7,338.3 L196.4,338.3 L197.2,338.2 L198.0,338.2 L198.7,338.1 L199.5,338.1 L200.2,338.0 L201.0,337.9 L201.7,337.9 L202.5,337.8 L203.2,337.7 L204.0,337.6 L204.8,337.5 L205.5,337.4 L206.3,337.3 L207.0,337.2 L207.8,337.1 L208.5,337.0 L209.3,336.9 L210.1,336.7 L210.8,336.6 L211.6,336.5 L212.3,336.3 L213.1,336.1 L213.8,336.0 L214.6,335.8 L215.3,335.6 L216.1,335.4 L216.9,335.1 L217.6,334.9 L218.4,334.6 L219.1,334.4 L219.9,334.1 L220.6,333.8 L221.4,333.4 L222.1,333.1 L222.9,332.7 L223.7,332.3 L224.4,331.9 L225.2,331.5 L225.9,331.0 L226.7,330.5 L227.4,330.0 L228.2,329.4 L229.0,328.8 L229.7,328.1 L230.5,327.4 L231.2,326.7 L232.0,325.9 L232.7,325.1 L233.5,324.2 L234.2,323.2 L235.0,322.2 L235.8,321.1 L236.5,320.0 L237.3,318.8 L238.0,317.4 L238.8,316.1 L239.5,314.6 L240.3,313.0 L241.0,311.3 L241.8,309.6 L242.6,307.7 L243.3,305.7 L244.1,303.5 L244.8,301.3 L245.6,298.9 L246.3,296.4 L247.1,293.7 L247.8,290.9 L248.6,287.9 L249.4,284.8 L250.1,281.5 L250.9,278.0 L251.6,274.4 L252.4,270.6 L253.1,266.6 L253.9,262.4 L254.7,258.1 L255.4,253.6 L256.2,248.9 L256.9,244.1 L257.7,239.2 L258.4,234.1 L259.2,228.9 L259.9,223.5 L260.7,218.1 L261.5,212.7 L262.2,207.1 L263.0,201.6 L263.7,196.1 L264.5,190.6 L265.2,185.2 L266.0,179.9 L266.7,174.8 L267.5,169.8 L268.3,165.0 L269.0,160.6 L269.8,156.4 L270.5,152.5 L271.3,149.0 L272.0,145.9 L272.8,143.3 L273.6,141.0 L274.3,139.3 L275.1,138.1 L275.8,137.3 L276.6,137.1 L277.3,137.5 L278.1,138.2 L278.8,139.1 L279.6,140.2 L280.4,141.6 L281.1,143.3 L281.9,145.1 L282.6,147.2 L283.4,149.5 L284.1,152.1 L284.9,154.8 L285.6,157.7 L286.4,160.7 L287.2,163.9 L287.9,167.3 L288.7,170.8 L289.4,174.4 L290.2,178.1 L290.9,181.9 L291.7,185.8 L292.5,189.8 L293.2,193.7 L294.0,197.8 L294.7,201.8 L295.5,205.9 L296.2,210.0 L297.0,214.0 L297.7,218.1 L298.5,222.1 L299.3,226.0 L300.0,230.0 L300.8,233.9 L301.5,237.7 L302.3,241.5 L303.0,245.1 L303.8,248.8 L304.5,252.3 L305.3,255.8 L306.1,259.1 L306.8,262.4 L307.6,265.7 L308.3,268.8 L309.1,271.8 L309.8,274.7 L310.6,277.6 L311.4,280.3 L312.1,283.0 L312.9,285.6 L313.6,288.1 L314.4,290.5 L315.1,292.8 L315.9,295.0 L316.6,297.2 L317.4,299.3 L318.2,301.3 L318.9,303.2 L319.7,305.0 L320.4,306.8 L321.2,308.5 L321.9,310.1 L322.7,311.7 L323.4,313.2 L324.2,314.6 L325.0,316.0 L325.7,317.3 L326.5,318.6 L327.2,319.8 L328.0,320.9 L328.7,322.1 L329.5,323.1 L330.3,324.1 L331.0,325.1 L331.8,326.0 L332.5,326.9 L333.3,327.8 L334.0,328.6 L334.8,329.4 L335.5,330.1 L336.3,330.8 L337.1,331.5 L337.8,332.1 L338.6,332.8 L339.3,333.4 L340.1,333.9 L340.8,334.5 L341.6,335.0 L342.3,335.5 L343.1,336.0 L343.9,336.4 L344.6,336.8 L345.4,337.3 L346.1,337.6 L346.9,338.0 L347.6,338.4 L348.4,338.7 L349.2,339.1 L349.9,339.4 L350.7,339.7 L351.4,340.0 L352.2,340.3 L352.9,340.5 L353.7,340.8 L354.4,341.0 L355.2,341.3 L356.0,341.5 L356.7,341.7 L357.5,341.9 L358.2,342.1 L359.0,342.3 L359.7,342.5 L360.5,342.6 L361.2,342.8 L362.0,343.0 L362.8,343.1 L363.5,343.2 L364.3,343.4 L365.0,343.5 L365.8,343.6 L366.5,343.8 L367.3,343.9 L368.0,344.0 L368.8,344.1 L369.6,344.2 L370.3,344.3 L371.1,344.4 L371.8,344.5 L372.6,344.6 L373.3,344.7 L374.1,344.8 L374.9,344.8 L375.6,344.9 L376.4,345.0 L377.1,345.1 L377.9,345.1 L378.6,345.2 L379.4,345.2 L380.1,345.3 L380.9,345.4 L381.7,345.4 L382.4,345.5 L383.2,345.5 L383.9,345.6 L384.7,345.6 L385.4,345.7 L386.2,345.7 L386.9,345.8 L387.7,345.8 L388.5,345.8 L389.2,345.9 L390.0,345.9 L390.7,345.9 L391.5,346.0 L392.2,346.0 L393.0,346.0 L393.8,346.1 L394.5,346.1 L395.3,346.1 L396.0,346.2 L396.8,346.2 L397.5,346.2 L398.3,346.2 L399.0,346.3 L399.8,346.3 L400.6,346.3 L401.3,346.3 L402.1,346.3 L402.8,346.4 L403.6,346.4 L404.3,346.4 L405.1,346.4 L405.8,346.4 L406.6,346.5 L407.4,346.5 L408.1,346.5 L408.9,346.5 L409.6,346.5 L410.4,346.5 L411.1,346.5 L411.9,346.6 L412.7,346.6 L413.4,346.6 L414.2,346.6 L414.9,346.6 L415.7,346.6 L416.4,346.6 L417.2,346.6 L417.9,346.6 L418.7,346.7 L419.5,346.7 L420.2,346.7 L421.0,346.7 L421.7,346.7 L422.5,346.7 L423.2,346.7 L424.0,346.7 L424.7,346.7 L425.5,346.7 L426.3,346.7 L427.0,346.7 L427.8,346.8 L428.5,346.8 L429.3,346.8 L430.0,346.8 L430.8,346.8 L431.6,346.8 L432.3,346.8 L433.1,346.8 L433.8,346.8 L434.6,346.8 L435.3,346.8 L436.1,346.8 L436.8,346.8 L437.6,346.8 L438.4,346.8 L439.1,346.8 L439.9,346.8 L440.6,346.8 L441.4,346.8 L442.1,346.8 L442.9,346.9 L443.6,346.9 L444.4,346.9 L445.2,346.9 L445.9,346.9 L446.7,346.9 L447.4,346.9 L448.2,346.9 L448.9,346.9 L449.7,346.9 L450.5,346.9 L451.2,346.9 L452.0,346.9 L452.7,346.9 L453.5,346.9 L454.2,346.9 L455.0,346.9 L455.7,346.9 L456.5,346.9 L457.3,346.9 L458.0,346.9 L458.8,346.9 L459.5,346.9 L460.3,346.9 L461.0,346.9 L461.8,346.9 L462.5,346.9 L463.3,346.9 L464.1,346.9 L464.8,346.9 L465.6,346.9 L466.3,346.9 L467.1,346.9 L467.8,346.9 L468.6,346.9 L469.4,346.9 L470.1,346.9 L470.9,346.9 L471.6,346.9 L472.4,346.9 L473.1,346.9 L473.9,346.9 L474.6,346.9 L475.4,346.9 L476.2,346.9 L476.9,346.9 L477.7,346.9 L478.4,346.9 L479.2,346.9 L479.9,346.9 L480.7,346.8 L481.4,346.8 L482.2,346.8 L483.0,346.8 L483.7,346.8 L484.5,346.8 L485.2,346.8 L486.0,346.8 L486.7,346.7 L487.5,346.7 L488.2,346.7 L489.0,346.7 L489.8,346.7 L490.5,346.7 L491.3,346.7 L492.0,346.6 L492.8,346.6 L493.5,346.6 L494.3,346.6 L495.1,346.6 L495.8,346.6 L496.6,346.5 L497.3,346.5 L498.1,346.5 L498.8,346.5 L499.6,346.5 L500.3,346.5 L501.1,346.4 L501.9,346.4 L502.6,346.4 L503.4,346.4 L504.1,346.4 L504.9,346.4 L505.6,346.3 L506.4,346.3 L507.1,346.3 L507.9,346.3 L508.7,346.3 L509.4,346.2 L510.2,346.2 L510.9,346.2 L511.7,346.2 L512.4,346.2 L513.2,346.1 L514.0,346.1 L514.7,346.1 L515.5,346.1 L516.2,346.1 L517.0,346.0 L517.7,346.0 L518.5,346.0 L519.2,346.0 L520.0,346.0 L520.8,345.9 L521.5,345.9 L522.3,345.9 L523.0,345.9 L523.8,345.9 L524.5,345.8 L525.3,345.8 L526.0,345.8 L526.8,345.8 L527.6,345.7 L528.3,345.7 L529.1,345.7 L529.8,345.7" fill="none" stroke="#f28018" stroke-width="2.9" stroke-linejoin="round"/>
<path d="M77.0,344.1 L77.8,344.1 L78.5,344.1 L79.3,344.1 L80.0,344.1 L80.8,344.1 L81.5,344.1 L82.3,344.1 L83.0,344.1 L83.8,344.1 L84.6,344.1 L85.3,344.1 L86.1,344.1 L86.8,344.1 L87.6,344.1 L88.3,344.1 L89.1,344.1 L89.9,344.1 L90.6,344.1 L91.4,344.1 L92.1,344.1 L92.9,344.1 L93.6,344.1 L94.4,344.1 L95.1,344.1 L95.9,344.1 L96.7,344.1 L97.4,344.1 L98.2,344.1 L98.9,344.1 L99.7,344.1 L100.4,344.1 L101.2,344.1 L101.9,344.1 L102.7,344.1 L103.5,344.1 L104.2,344.1 L105.0,344.1 L105.7,344.1 L106.5,344.1 L107.2,344.1 L108.0,344.1 L108.8,344.1 L109.5,344.1 L110.3,344.1 L111.0,344.1 L111.8,344.0 L112.5,344.0 L113.3,344.0 L114.0,344.0 L114.8,344.0 L115.6,344.0 L116.3,344.0 L117.1,344.0 L117.8,344.0 L118.6,344.0 L119.3,344.0 L120.1,344.0 L120.8,344.0 L121.6,344.0 L122.4,344.0 L123.1,344.0 L123.9,344.0 L124.6,344.0 L125.4,344.0 L126.1,344.0 L126.9,344.0 L127.7,344.0 L128.4,344.0 L129.2,344.0 L129.9,344.0 L130.7,344.0 L131.4,344.0 L132.2,344.0 L132.9,344.0 L133.7,344.0 L134.5,344.0 L135.2,344.0 L136.0,344.0 L136.7,344.0 L137.5,344.0 L138.2,344.0 L139.0,343.9 L139.7,343.9 L140.5,343.9 L141.3,343.9 L142.0,343.9 L142.8,343.9 L143.5,343.9 L144.3,343.9 L145.0,343.9 L145.8,343.9 L146.5,343.9 L147.3,343.9 L148.1,343.9 L148.8,343.9 L149.6,343.9 L150.3,343.9 L151.1,343.9 L151.8,343.9 L152.6,343.9 L153.4,343.8 L154.1,343.8 L154.9,343.8 L155.6,343.8 L156.4,343.8 L157.1,343.8 L157.9,343.8 L158.6,343.8 L159.4,343.8 L160.2,343.8 L160.9,343.8 L161.7,343.8 L162.4,343.8 L163.2,343.7 L163.9,343.7 L164.7,343.7 L165.4,343.7 L166.2,343.7 L167.0,343.7 L167.7,343.7 L168.5,343.7 L169.2,343.7 L170.0,343.6 L170.7,343.6 L171.5,343.6 L172.3,343.6 L173.0,343.6 L173.8,343.6 L174.5,343.6 L175.3,343.5 L176.0,343.5 L176.8,343.5 L177.5,343.5 L178.3,343.5 L179.1,343.5 L179.8,343.4 L180.6,343.4 L181.3,343.4 L182.1,343.4 L182.8,343.4 L183.6,343.3 L184.3,343.3 L185.1,343.3 L185.9,343.3 L186.6,343.2 L187.4,343.2 L188.1,343.2 L188.9,343.2 L189.6,343.1 L190.4,343.1 L191.2,343.1 L191.9,343.0 L192.7,343.0 L193.4,343.0 L194.2,342.9 L194.9,342.9 L195.7,342.8 L196.4,342.8 L197.2,342.8 L198.0,342.7 L198.7,342.7 L199.5,342.6 L200.2,342.6 L201.0,342.5 L201.7,342.5 L202.5,342.4 L203.2,342.4 L204.0,342.3 L204.8,342.2 L205.5,342.2 L206.3,342.1 L207.0,342.0 L207.8,342.0 L208.5,341.9 L209.3,341.8 L210.1,341.7 L210.8,341.6 L211.6,341.5 L212.3,341.4 L213.1,341.3 L213.8,341.2 L214.6,341.1 L215.3,341.0 L216.1,340.9 L216.9,340.8 L217.6,340.6 L218.4,340.5 L219.1,340.4 L219.9,340.2 L220.6,340.1 L221.4,339.9 L222.1,339.7 L222.9,339.5 L223.7,339.3 L224.4,339.1 L225.2,338.9 L225.9,338.7 L226.7,338.5 L227.4,338.2 L228.2,338.0 L229.0,337.7 L229.7,337.4 L230.5,337.1 L231.2,336.8 L232.0,336.4 L232.7,336.1 L233.5,335.7 L234.2,335.3 L235.0,334.9 L235.8,334.5 L236.5,334.0 L237.3,333.5 L238.0,333.0 L238.8,332.4 L239.5,331.8 L240.3,331.2 L241.0,330.5 L241.8,329.8 L242.6,329.1 L243.3,328.3 L244.1,327.5 L244.8,326.6 L245.6,325.7 L246.3,324.7 L247.1,323.6 L247.8,322.5 L248.6,321.3 L249.4,320.0 L250.1,318.6 L250.9,317.2 L251.6,315.6 L252.4,314.0 L253.1,312.3 L253.9,310.4 L254.7,308.4 L255.4,306.3 L256.2,304.1 L256.9,301.7 L257.7,299.1 L258.4,296.4 L259.2,293.6 L259.9,290.5 L260.7,287.2 L261.5,283.8 L262.2,280.1 L263.0,276.2 L263.7,272.1 L264.5,267.7 L265.2,263.1 L266.0,258.3 L266.7,253.1 L267.5,247.7 L268.3,242.0 L269.0,236.1 L269.8,229.9 L270.5,223.4 L271.3,216.7 L272.0,209.7 L272.8,202.5 L273.6,195.1 L274.3,187.6 L275.1,179.9 L275.8,172.1 L276.6,164.3 L277.3,156.5 L278.1,148.8 L278.8,141.2 L279.6,133.9 L280.4,126.8 L281.1,120.1 L281.9,113.8 L282.6,108.1 L283.4,102.9 L284.1,98.4 L284.9,94.7 L285.6,91.7 L286.4,89.6 L287.2,88.3 L287.9,87.9 L288.7,88.2 L289.4,88.8 L290.2,89.8 L290.9,91.1 L291.7,92.8 L292.5,94.8 L293.2,97.1 L294.0,99.7 L294.7,102.6 L295.5,105.8 L296.2,109.2 L297.0,112.9 L297.7,116.8 L298.5,120.9 L299.3,125.2 L300.0,129.6 L300.8,134.2 L301.5,138.9 L302.3,143.7 L303.0,148.6 L303.8,153.5 L304.5,158.6 L305.3,163.6 L306.1,168.6 L306.8,173.7 L307.6,178.7 L308.3,183.7 L309.1,188.7 L309.8,193.6 L310.6,198.5 L311.4,203.3 L312.1,208.0 L312.9,212.7 L313.6,217.2 L314.4,221.7 L315.1,226.0 L315.9,230.3 L316.6,234.4 L317.4,238.5 L318.2,242.4 L318.9,246.2 L319.7,249.9 L320.4,253.5 L321.2,257.0 L321.9,260.3 L322.7,263.6 L323.4,266.7 L324.2,269.8 L325.0,272.7 L325.7,275.5 L326.5,278.2 L327.2,280.9 L328.0,283.4 L328.7,285.8 L329.5,288.2 L330.3,290.4 L331.0,292.6 L331.8,294.7 L332.5,296.7 L333.3,298.6 L334.0,300.5 L334.8,302.3 L335.5,304.0 L336.3,305.6 L337.1,307.2 L337.8,308.7 L338.6,310.1 L339.3,311.5 L340.1,312.9 L340.8,314.1 L341.6,315.4 L342.3,316.5 L343.1,317.7 L343.9,318.8 L344.6,319.8 L345.4,320.8 L346.1,321.8 L346.9,322.7 L347.6,323.6 L348.4,324.4 L349.2,325.2 L349.9,326.0 L350.7,326.8 L351.4,327.5 L352.2,328.2 L352.9,328.8 L353.7,329.5 L354.4,330.1 L355.2,330.7 L356.0,331.2 L356.7,331.8 L357.5,332.3 L358.2,332.8 L359.0,333.3 L359.7,333.8 L360.5,334.2 L361.2,334.6 L362.0,335.0 L362.8,335.4 L363.5,335.8 L364.3,336.2 L365.0,336.5 L365.8,336.9 L366.5,337.2 L367.3,337.5 L368.0,337.8 L368.8,338.1 L369.6,338.4 L370.3,338.7 L371.1,338.9 L371.8,339.2 L372.6,339.4 L373.3,339.7 L374.1,339.9 L374.9,340.1 L375.6,340.3 L376.4,340.5 L377.1,340.7 L377.9,340.9 L378.6,341.1 L379.4,341.3 L380.1,341.4 L380.9,341.6 L381.7,341.7 L382.4,341.9 L383.2,342.0 L383.9,342.2 L384.7,342.3 L385.4,342.5 L386.2,342.6 L386.9,342.7 L387.7,342.8 L388.5,342.9 L389.2,343.1 L390.0,343.2 L390.7,343.3 L391.5,343.4 L392.2,343.5 L393.0,343.6 L393.8,343.7 L394.5,343.7 L395.3,343.8 L396.0,343.9 L396.8,344.0 L397.5,344.1 L398.3,344.2 L399.0,344.2 L399.8,344.3 L400.6,344.4 L401.3,344.4 L402.1,344.5 L402.8,344.6 L403.6,344.6 L404.3,344.7 L405.1,344.7 L405.8,344.8 L406.6,344.9 L407.4,344.9 L408.1,345.0 L408.9,345.0 L409.6,345.1 L410.4,345.1 L411.1,345.1 L411.9,345.2 L412.7,345.2 L413.4,345.3 L414.2,345.3 L414.9,345.4 L415.7,345.4 L416.4,345.4 L417.2,345.5 L417.9,345.5 L418.7,345.5 L419.5,345.6 L420.2,345.6 L421.0,345.6 L421.7,345.7 L422.5,345.7 L423.2,345.7 L424.0,345.8 L424.7,345.8 L425.5,345.8 L426.3,345.8 L427.0,345.9 L427.8,345.9 L428.5,345.9 L429.3,345.9 L430.0,346.0 L430.8,346.0 L431.6,346.0 L432.3,346.0 L433.1,346.0 L433.8,346.1 L434.6,346.1 L435.3,346.1 L436.1,346.1 L436.8,346.1 L437.6,346.2 L438.4,346.2 L439.1,346.2 L439.9,346.2 L440.6,346.2 L441.4,346.2 L442.1,346.2 L442.9,346.3 L443.6,346.3 L444.4,346.3 L445.2,346.3 L445.9,346.3 L446.7,346.3 L447.4,346.3 L448.2,346.4 L448.9,346.4 L449.7,346.4 L450.5,346.4 L451.2,346.4 L452.0,346.4 L452.7,346.4 L453.5,346.4 L454.2,346.5 L455.0,346.5 L455.7,346.5 L456.5,346.5 L457.3,346.5 L458.0,346.5 L458.8,346.5 L459.5,346.5 L460.3,346.5 L461.0,346.5 L461.8,346.5 L462.5,346.6 L463.3,346.6 L464.1,346.6 L464.8,346.6 L465.6,346.6 L466.3,346.6 L467.1,346.6 L467.8,346.6 L468.6,346.6 L469.4,346.6 L470.1,346.6 L470.9,346.6 L471.6,346.6 L472.4,346.6 L473.1,346.6 L473.9,346.7 L474.6,346.7 L475.4,346.7 L476.2,346.7 L476.9,346.7 L477.7,346.7 L478.4,346.7 L479.2,346.7 L479.9,346.7 L480.7,346.7 L481.4,346.7 L482.2,346.7 L483.0,346.7 L483.7,346.7 L484.5,346.7 L485.2,346.7 L486.0,346.7 L486.7,346.7 L487.5,346.7 L488.2,346.7 L489.0,346.8 L489.8,346.8 L490.5,346.8 L491.3,346.8 L492.0,346.8 L492.8,346.8 L493.5,346.8 L494.3,346.8 L495.1,346.8 L495.8,346.8 L496.6,346.8 L497.3,346.8 L498.1,346.8 L498.8,346.8 L499.6,346.8 L500.3,346.8 L501.1,346.8 L501.9,346.8 L502.6,346.8 L503.4,346.8 L504.1,346.8 L504.9,346.8 L505.6,346.8 L506.4,346.8 L507.1,346.8 L507.9,346.8 L508.7,346.8 L509.4,346.8 L510.2,346.8 L510.9,346.8 L511.7,346.8 L512.4,346.8 L513.2,346.8 L514.0,346.8 L514.7,346.9 L515.5,346.9 L516.2,346.9 L517.0,346.9 L517.7,346.9 L518.5,346.9 L519.2,346.9 L520.0,346.9 L520.8,346.9 L521.5,346.9 L522.3,346.9 L523.0,346.9 L523.8,346.9 L524.5,346.9 L525.3,346.9 L526.0,346.9 L526.8,346.9 L527.6,346.9 L528.3,346.9 L529.1,346.9 L529.8,346.9" fill="none" stroke="#1010d0" stroke-width="2.9" stroke-linejoin="round"/>
<path d="M77.0,338.8 L77.8,338.8 L78.5,338.8 L79.3,338.8 L80.0,338.8 L80.8,338.8 L81.5,338.8 L82.3,338.8 L83.0,338.8 L83.8,338.8 L84.6,338.8 L85.3,338.8 L86.1,338.8 L86.8,338.8 L87.6,338.8 L88.3,338.8 L89.1,338.8 L89.9,338.8 L90.6,338.8 L91.4,338.8 L92.1,338.8 L92.9,338.8 L93.6,338.8 L94.4,338.8 L95.1,338.8 L95.9,338.8 L96.7,338.8 L97.4,338.8 L98.2,338.8 L98.9,338.8 L99.7,338.8 L100.4,338.8 L101.2,338.8 L101.9,338.8 L102.7,338.8 L103.5,338.8 L104.2,338.8 L105.0,338.8 L105.7,338.8 L106.5,338.8 L107.2,338.8 L108.0,338.8 L108.8,338.8 L109.5,338.8 L110.3,338.8 L111.0,338.8 L111.8,338.8 L112.5,338.8 L113.3,338.8 L114.0,338.8 L114.8,338.8 L115.6,338.8 L116.3,338.8 L117.1,338.8 L117.8,338.8 L118.6,338.8 L119.3,338.8 L120.1,338.8 L120.8,338.8 L121.6,338.8 L122.4,338.8 L123.1,338.8 L123.9,338.8 L124.6,338.8 L125.4,338.8 L126.1,338.8 L126.9,338.8 L127.7,338.8 L128.4,338.8 L129.2,338.8 L129.9,338.8 L130.7,338.8 L131.4,338.8 L132.2,338.8 L132.9,338.8 L133.7,338.8 L134.5,338.8 L135.2,338.8 L136.0,338.8 L136.7,338.8 L137.5,338.7 L138.2,338.7 L139.0,338.7 L139.7,338.7 L140.5,338.7 L141.3,338.7 L142.0,338.7 L142.8,338.7 L143.5,338.7 L144.3,338.7 L145.0,338.7 L145.8,338.7 L146.5,338.7 L147.3,338.7 L148.1,338.7 L148.8,338.7 L149.6,338.7 L150.3,338.7 L151.1,338.7 L151.8,338.7 L152.6,338.6 L153.4,338.6 L154.1,338.6 L154.9,338.6 L155.6,338.6 L156.4,338.6 L157.1,338.6 L157.9,338.6 L158.6,338.6 L159.4,338.6 L160.2,338.6 L160.9,338.5 L161.7,338.5 L162.4,338.5 L163.2,338.5 L163.9,338.5 L164.7,338.5 L165.4,338.5 L166.2,338.5 L167.0,338.4 L167.7,338.4 L168.5,338.4 L169.2,338.4 L170.0,338.4 L170.7,338.4 L171.5,338.3 L172.3,338.3 L173.0,338.3 L173.8,338.3 L174.5,338.2 L175.3,338.2 L176.0,338.2 L176.8,338.2 L177.5,338.1 L178.3,338.1 L179.1,338.1 L179.8,338.0 L180.6,338.0 L181.3,338.0 L182.1,337.9 L182.8,337.9 L183.6,337.9 L184.3,337.8 L185.1,337.8 L185.9,337.7 L186.6,337.7 L187.4,337.6 L188.1,337.6 L188.9,337.5 L189.6,337.4 L190.4,337.4 L191.2,337.3 L191.9,337.2 L192.7,337.2 L193.4,337.1 L194.2,337.0 L194.9,336.9 L195.7,336.8 L196.4,336.7 L197.2,336.6 L198.0,336.5 L198.7,336.4 L199.5,336.2 L200.2,336.1 L201.0,336.0 L201.7,335.8 L202.5,335.7 L203.2,335.5 L204.0,335.3 L204.8,335.2 L205.5,335.0 L206.3,334.8 L207.0,334.5 L207.8,334.3 L208.5,334.1 L209.3,333.8 L210.1,333.5 L210.8,333.2 L211.6,332.9 L212.3,332.6 L213.1,332.2 L213.8,331.9 L214.6,331.5 L215.3,331.1 L216.1,330.6 L216.9,330.1 L217.6,329.6 L218.4,329.1 L219.1,328.5 L219.9,327.9 L220.6,327.3 L221.4,326.6 L222.1,325.9 L222.9,325.1 L223.7,324.3 L224.4,323.4 L225.2,322.5 L225.9,321.5 L226.7,320.5 L227.4,319.4 L228.2,318.2 L229.0,317.0 L229.7,315.6 L230.5,314.2 L231.2,312.7 L232.0,311.1 L232.7,309.5 L233.5,307.7 L234.2,305.8 L235.0,303.8 L235.8,301.7 L236.5,299.5 L237.3,297.1 L238.0,294.6 L238.8,292.0 L239.5,289.3 L240.3,286.4 L241.0,283.4 L241.8,280.2 L242.6,276.9 L243.3,273.4 L244.1,269.8 L244.8,266.1 L245.6,262.2 L246.3,258.2 L247.1,254.0 L247.8,249.7 L248.6,245.4 L249.4,240.9 L250.1,236.3 L250.9,231.7 L251.6,227.0 L252.4,222.3 L253.1,217.6 L253.9,212.9 L254.7,208.2 L255.4,203.6 L256.2,199.1 L256.9,194.8 L257.7,190.6 L258.4,186.6 L259.2,182.8 L259.9,179.3 L260.7,176.1 L261.5,173.2 L262.2,170.6 L263.0,168.4 L263.7,166.6 L264.5,165.2 L265.2,164.3 L266.0,163.7 L266.7,163.7 L267.5,164.3 L268.3,165.3 L269.0,166.7 L269.8,168.4 L270.5,170.5 L271.3,173.0 L272.0,175.8 L272.8,178.9 L273.6,182.3 L274.3,185.9 L275.1,189.7 L275.8,193.7 L276.6,197.8 L277.3,202.1 L278.1,206.5 L278.8,210.9 L279.6,215.4 L280.4,219.8 L281.1,224.3 L281.9,228.7 L282.6,233.1 L283.4,237.5 L284.1,241.7 L284.9,245.9 L285.6,249.9 L286.4,253.9 L287.2,257.8 L287.9,261.5 L288.7,265.1 L289.4,268.6 L290.2,272.0 L290.9,275.2 L291.7,278.3 L292.5,281.3 L293.2,284.2 L294.0,286.9 L294.7,289.6 L295.5,292.1 L296.2,294.5 L297.0,296.8 L297.7,299.0 L298.5,301.1 L299.3,303.1 L300.0,305.0 L300.8,306.8 L301.5,308.6 L302.3,310.2 L303.0,311.8 L303.8,313.3 L304.5,314.7 L305.3,316.1 L306.1,317.4 L306.8,318.6 L307.6,319.8 L308.3,320.9 L309.1,322.0 L309.8,323.0 L310.6,324.0 L311.4,324.9 L312.1,325.8 L312.9,326.6 L313.6,327.4 L314.4,328.2 L315.1,328.9 L315.9,329.6 L316.6,330.3 L317.4,330.9 L318.2,331.5 L318.9,332.1 L319.7,332.7 L320.4,333.2 L321.2,333.7 L321.9,334.2 L322.7,334.7 L323.4,335.1 L324.2,335.5 L325.0,335.9 L325.7,336.3 L326.5,336.7 L327.2,337.1 L328.0,337.4 L328.7,337.7 L329.5,338.0 L330.3,338.3 L331.0,338.6 L331.8,338.9 L332.5,339.2 L333.3,339.4 L334.0,339.7 L334.8,339.9 L335.5,340.1 L336.3,340.4 L337.1,340.6 L337.8,340.8 L338.6,341.0 L339.3,341.2 L340.1,341.3 L340.8,341.5 L341.6,341.7 L342.3,341.8 L343.1,342.0 L343.9,342.1 L344.6,342.3 L345.4,342.4 L346.1,342.6 L346.9,342.7 L347.6,342.8 L348.4,342.9 L349.2,343.0 L349.9,343.2 L350.7,343.3 L351.4,343.4" fill="none" stroke="#000000" stroke-width="2.9" stroke-linejoin="round" stroke-dasharray="14 6 3 6"/>
</g>
<g clip-path="url(#cb)">
<path d="M89.6,513.3 L90.5,513.4 L91.4,513.5 L92.3,513.5 L93.2,513.6 L94.1,513.7 L95.0,513.7 L95.9,513.8 L96.8,513.9 L97.7,513.9 L98.6,514.0 L99.5,514.0 L100.3,514.1 L101.2,514.2 L102.1,514.2 L103.0,514.3 L103.9,514.4 L104.8,514.4 L105.7,514.5 L106.6,514.6 L107.5,514.6 L108.4,514.7 L109.3,514.8 L110.2,514.8 L111.1,514.9 L112.0,514.9 L112.9,515.0 L113.8,515.1 L114.7,515.1 L115.6,515.2 L116.5,515.3 L117.4,515.3 L118.3,515.4 L119.2,515.5 L120.0,515.5 L120.9,515.6 L121.8,515.7 L122.7,515.7 L123.6,515.8 L124.5,515.8 L125.4,515.9 L126.3,516.0 L127.2,516.0 L128.1,516.1 L129.0,516.2 L129.9,516.2 L130.8,516.3 L131.7,516.4 L132.6,516.4 L133.5,516.5 L134.4,516.6 L135.3,516.6 L136.2,516.7 L137.1,516.7 L138.0,516.8 L138.9,516.9 L139.7,516.9 L140.6,517.0 L141.5,517.1 L142.4,517.1 L143.3,517.2 L144.2,517.3 L145.1,517.3 L146.0,517.4 L146.9,517.5 L147.8,517.5 L148.7,517.6 L149.6,517.6 L150.5,517.7 L151.4,517.8 L152.3,517.8 L153.2,517.9 L154.1,518.0 L155.0,518.0 L155.9,518.1 L156.8,518.2 L157.7,518.2 L158.6,518.3 L159.4,518.4 L160.3,518.4 L161.2,518.5 L162.1,518.6 L163.0,518.6 L163.9,518.7 L164.8,518.8 L165.7,518.8 L166.6,518.9 L167.5,519.0 L168.4,519.0 L169.3,519.1 L170.2,519.2 L171.1,519.2 L172.0,519.3 L172.9,519.4 L173.8,519.4 L174.7,519.5 L175.6,519.6 L176.5,519.6 L177.4,519.7 L178.3,519.8 L179.1,519.8 L180.0,519.9 L180.9,520.0 L181.8,520.1 L182.7,520.1 L183.6,520.2 L184.5,520.3 L185.4,520.4 L186.3,520.4 L187.2,520.5 L188.1,520.6 L189.0,520.7 L189.9,520.7 L190.8,520.8 L191.7,520.9 L192.6,521.0 L193.5,521.1 L194.4,521.2 L195.3,521.2 L196.2,521.3 L197.1,521.4 L198.0,521.5 L198.8,521.6 L199.7,521.7 L200.6,521.8 L201.5,521.9 L202.4,522.0 L203.3,522.1 L204.2,522.2 L205.1,522.4 L206.0,522.5 L206.9,522.6 L207.8,522.7 L208.7,522.9 L209.6,523.0 L210.5,523.2 L211.4,523.3 L212.3,523.5 L213.2,523.6 L214.1,523.8 L215.0,524.0 L215.9,524.2 L216.8,524.4 L217.7,524.6 L218.6,524.8 L219.4,525.0 L220.3,525.3 L221.2,525.5 L222.1,525.8 L223.0,526.1 L223.9,526.4 L224.8,526.7 L225.7,527.1 L226.6,527.4 L227.5,527.8 L228.4,528.2 L229.3,528.7 L230.2,529.1 L231.1,529.6 L232.0,530.1 L232.9,530.7 L233.8,531.2 L234.7,531.9 L235.6,532.5 L236.5,533.2 L237.4,533.9 L238.3,534.7 L239.1,535.5 L240.0,536.4 L240.9,537.3 L241.8,538.2 L242.7,539.3 L243.6,540.3 L244.5,541.5 L245.4,542.7 L246.3,543.9 L247.2,545.3 L248.1,546.6 L249.0,548.1 L249.9,549.6 L250.8,551.2 L251.7,552.9 L252.6,554.6 L253.5,556.4 L254.4,558.3 L255.3,560.3 L256.2,562.3 L257.1,564.4 L258.0,566.5 L258.8,568.8 L259.7,571.0 L260.6,573.4 L261.5,575.8 L262.4,578.2 L263.3,580.7 L264.2,583.3 L265.1,585.9 L266.0,588.5 L266.9,591.2 L267.8,593.8 L268.7,596.5 L269.6,599.3 L270.5,602.0 L271.4,604.7 L272.3,607.5 L273.2,610.2 L274.1,613.0 L275.0,615.7 L275.9,618.4 L276.8,621.1 L277.7,623.7 L278.5,626.3 L279.4,628.9 L280.3,631.5 L281.2,634.0 L282.1,636.5 L283.0,638.9 L283.9,641.3 L284.8,643.7 L285.7,646.0 L286.6,648.2 L287.5,650.4 L288.4,652.6 L289.3,654.7 L290.2,656.8 L291.1,658.8 L292.0,660.7 L292.9,662.6 L293.8,664.5 L294.7,666.3 L295.6,668.0 L296.5,669.7 L297.4,671.4 L298.2,673.0 L299.1,674.5 L300.0,676.0 L300.9,677.5 L301.8,678.9 L302.7,680.3 L303.6,681.6 L304.5,682.9 L305.4,684.2 L306.3,685.4 L307.2,686.5 L308.1,687.7 L309.0,688.8 L309.9,689.8 L310.8,690.9 L311.7,691.8 L312.6,692.8 L313.5,693.7 L314.4,694.6 L315.3,695.5 L316.2,696.3 L317.1,697.1 L318.0,697.9 L318.8,698.7 L319.7,699.4 L320.6,700.1 L321.5,700.8 L322.4,701.4 L323.3,702.1 L324.2,702.7 L325.1,703.3 L326.0,703.8 L326.9,704.4 L327.8,704.9 L328.7,705.4 L329.6,705.9 L330.5,706.4 L331.4,706.8 L332.3,707.3 L333.2,707.7 L334.1,708.1 L335.0,708.5 L335.9,708.9 L336.8,709.3 L337.7,709.6 L338.5,710.0 L339.4,710.3 L340.3,710.6 L341.2,710.9 L342.1,711.2 L343.0,711.5 L343.9,711.8 L344.8,712.1 L345.7,712.3 L346.6,712.6 L347.5,712.8 L348.4,713.0 L349.3,713.2 L350.2,713.5 L351.1,713.7 L352.0,713.9 L352.9,714.1 L353.8,714.2 L354.7,714.4 L355.6,714.6 L356.5,714.7 L357.4,714.9 L358.2,715.0 L359.1,715.2 L360.0,715.3 L360.9,715.5 L361.8,715.6 L362.7,715.7 L363.6,715.8 L364.5,716.0 L365.4,716.1 L366.3,716.2 L367.2,716.3 L368.1,716.4 L369.0,716.5 L369.9,716.6 L370.8,716.6 L371.7,716.7 L372.6,716.8 L373.5,716.9 L374.4,717.0 L375.3,717.0 L376.2,717.1 L377.1,717.2 L377.9,717.2 L378.8,717.3 L379.7,717.3 L380.6,717.4 L381.5,717.4 L382.4,717.5 L383.3,717.5 L384.2,717.6 L385.1,717.6 L386.0,717.7 L386.9,717.7 L387.8,717.7 L388.7,717.8 L389.6,717.8 L390.5,717.8 L391.4,717.9 L392.3,717.9 L393.2,717.9 L394.1,717.9 L395.0,718.0 L395.9,718.0 L396.8,718.0 L397.6,718.0 L398.5,718.0 L399.4,718.1 L400.3,718.1 L401.2,718.1 L402.1,718.1 L403.0,718.1 L403.9,718.1 L404.8,718.1 L405.7,718.2 L406.6,718.2 L407.5,718.2 L408.4,718.2 L409.3,718.2 L410.2,718.2 L411.1,718.2 L412.0,718.2 L412.9,718.2 L413.8,718.2 L414.7,718.2 L415.6,718.2 L416.5,718.2 L417.3,718.2 L418.2,718.2 L419.1,718.2 L420.0,718.2 L420.9,718.2 L421.8,718.2 L422.7,718.2 L423.6,718.2 L424.5,718.2 L425.4,718.2 L426.3,718.2 L427.2,718.2 L428.1,718.2 L429.0,718.2 L429.9,718.2 L430.8,718.2 L431.7,718.2 L432.6,718.2 L433.5,718.2 L434.4,718.1 L435.3,718.1 L436.2,718.1 L437.1,718.1 L437.9,718.1 L438.8,718.1 L439.7,718.1 L440.6,718.1 L441.5,718.1 L442.4,718.1 L443.3,718.1 L444.2,718.0 L445.1,718.0 L446.0,718.0 L446.9,718.0 L447.8,718.0 L448.7,718.0 L449.6,718.0 L450.5,718.0 L451.4,718.0 L452.3,718.0 L453.2,717.9 L454.1,717.9 L455.0,717.9 L455.9,717.9 L456.8,717.9 L457.6,717.9 L458.5,717.9 L459.4,717.9 L460.3,717.8 L461.2,717.8 L462.1,717.8 L463.0,717.8 L463.9,717.8 L464.8,717.8 L465.7,717.8 L466.6,717.8 L467.5,717.7 L468.4,717.7 L469.3,717.7 L470.2,717.7 L471.1,717.7 L472.0,717.7 L472.9,717.7 L473.8,717.6 L474.7,717.6 L475.6,717.6 L476.5,717.6 L477.3,717.6 L478.2,717.6 L479.1,717.6 L480.0,717.5 L480.9,717.5 L481.8,717.5 L482.7,717.5 L483.6,717.5 L484.5,717.5 L485.4,717.5 L486.3,717.4 L487.2,717.4 L488.1,717.4 L489.0,717.4 L489.9,717.4 L490.8,717.4 L491.7,717.4 L492.6,717.3 L493.5,717.3 L494.4,717.3 L495.3,717.3 L496.2,717.3 L497.0,717.3 L497.9,717.3 L498.8,717.2 L499.7,717.2 L500.6,717.2 L501.5,717.2 L502.4,717.2 L503.3,717.2 L504.2,717.1 L505.1,717.1 L506.0,717.1 L506.9,717.1 L507.8,717.1 L508.7,717.1 L509.6,717.1 L510.5,717.0 L511.4,717.0 L512.3,717.0 L513.2,717.0 L514.1,717.0 L515.0,717.0 L515.9,716.9 L516.7,716.9 L517.6,716.9 L518.5,716.9 L519.4,716.9 L520.3,716.9 L521.2,716.9 L522.1,716.8 L523.0,716.8 L523.9,716.8 L524.8,716.8 L525.7,716.8 L526.6,716.8 L527.5,716.7 L528.4,716.7 L529.3,716.7 L530.2,716.7 L531.1,716.7 L532.0,716.7 L532.9,716.7 L533.8,716.6 L534.7,716.6 L535.6,716.6 L536.5,716.6" fill="none" stroke="#000000" stroke-width="2.9" stroke-linejoin="round"/>
<path d="M89.6,506.9 L90.5,506.9 L91.4,507.0 L92.3,507.1 L93.2,507.2 L94.1,507.3 L95.0,507.3 L95.9,507.4 L96.8,507.5 L97.7,507.6 L98.6,507.7 L99.5,507.7 L100.3,507.8 L101.2,507.9 L102.1,508.0 L103.0,508.1 L103.9,508.1 L104.8,508.2 L105.7,508.3 L106.6,508.4 L107.5,508.5 L108.4,508.5 L109.3,508.6 L110.2,508.7 L111.1,508.8 L112.0,508.9 L112.9,508.9 L113.8,509.0 L114.7,509.1 L115.6,509.2 L116.5,509.3 L117.4,509.3 L118.3,509.4 L119.2,509.5 L120.0,509.6 L120.9,509.7 L121.8,509.7 L122.7,509.8 L123.6,509.9 L124.5,510.0 L125.4,510.1 L126.3,510.1 L127.2,510.2 L128.1,510.3 L129.0,510.4 L129.9,510.5 L130.8,510.5 L131.7,510.6 L132.6,510.7 L133.5,510.8 L134.4,510.9 L135.3,510.9 L136.2,511.0 L137.1,511.1 L138.0,511.2 L138.9,511.3 L139.7,511.3 L140.6,511.4 L141.5,511.5 L142.4,511.6 L143.3,511.7 L144.2,511.7 L145.1,511.8 L146.0,511.9 L146.9,512.0 L147.8,512.0 L148.7,512.1 L149.6,512.2 L150.5,512.3 L151.4,512.4 L152.3,512.4 L153.2,512.5 L154.1,512.6 L155.0,512.7 L155.9,512.8 L156.8,512.8 L157.7,512.9 L158.6,513.0 L159.4,513.1 L160.3,513.2 L161.2,513.2 L162.1,513.3 L163.0,513.4 L163.9,513.5 L164.8,513.6 L165.7,513.6 L166.6,513.7 L167.5,513.8 L168.4,513.9 L169.3,514.0 L170.2,514.0 L171.1,514.1 L172.0,514.2 L172.9,514.3 L173.8,514.4 L174.7,514.4 L175.6,514.5 L176.5,514.6 L177.4,514.7 L178.3,514.8 L179.1,514.8 L180.0,514.9 L180.9,515.0 L181.8,515.1 L182.7,515.2 L183.6,515.3 L184.5,515.3 L185.4,515.4 L186.3,515.5 L187.2,515.6 L188.1,515.7 L189.0,515.7 L189.9,515.8 L190.8,515.9 L191.7,516.0 L192.6,516.1 L193.5,516.1 L194.4,516.2 L195.3,516.3 L196.2,516.4 L197.1,516.5 L198.0,516.5 L198.8,516.6 L199.7,516.7 L200.6,516.8 L201.5,516.9 L202.4,517.0 L203.3,517.0 L204.2,517.1 L205.1,517.2 L206.0,517.3 L206.9,517.4 L207.8,517.5 L208.7,517.6 L209.6,517.6 L210.5,517.7 L211.4,517.8 L212.3,517.9 L213.2,518.0 L214.1,518.1 L215.0,518.2 L215.9,518.3 L216.8,518.4 L217.7,518.5 L218.6,518.6 L219.4,518.7 L220.3,518.8 L221.2,518.9 L222.1,519.0 L223.0,519.1 L223.9,519.2 L224.8,519.3 L225.7,519.4 L226.6,519.5 L227.5,519.7 L228.4,519.8 L229.3,519.9 L230.2,520.1 L231.1,520.2 L232.0,520.3 L232.9,520.5 L233.8,520.7 L234.7,520.8 L235.6,521.0 L236.5,521.2 L237.4,521.4 L238.3,521.6 L239.1,521.8 L240.0,522.0 L240.9,522.3 L241.8,522.5 L242.7,522.8 L243.6,523.1 L244.5,523.4 L245.4,523.8 L246.3,524.1 L247.2,524.5 L248.1,524.9 L249.0,525.4 L249.9,525.8 L250.8,526.3 L251.7,526.9 L252.6,527.5 L253.5,528.1 L254.4,528.8 L255.3,529.5 L256.2,530.3 L257.1,531.1 L258.0,532.0 L258.8,533.0 L259.7,534.0 L260.6,535.2 L261.5,536.4 L262.4,537.6 L263.3,539.0 L264.2,540.5 L265.1,542.0 L266.0,543.7 L266.9,545.4 L267.8,547.3 L268.7,549.2 L269.6,551.3 L270.5,553.5 L271.4,555.8 L272.3,558.2 L273.2,560.8 L274.1,563.4 L275.0,566.2 L275.9,569.0 L276.8,572.0 L277.7,575.1 L278.5,578.2 L279.4,581.5 L280.3,584.8 L281.2,588.2 L282.1,591.6 L283.0,595.1 L283.9,598.7 L284.8,602.2 L285.7,605.8 L286.6,609.4 L287.5,613.1 L288.4,616.7 L289.3,620.3 L290.2,623.9 L291.1,627.4 L292.0,630.9 L292.9,634.4 L293.8,637.8 L294.7,641.2 L295.6,644.5 L296.5,647.7 L297.4,650.9 L298.2,654.0 L299.1,657.1 L300.0,660.0 L300.9,662.9 L301.8,665.8 L302.7,668.5 L303.6,671.1 L304.5,673.7 L305.4,676.2 L306.3,678.7 L307.2,681.0 L308.1,683.3 L309.0,685.5 L309.9,687.6 L310.8,689.7 L311.7,691.7 L312.6,693.6 L313.5,695.4 L314.4,697.2 L315.3,698.9 L316.2,700.6 L317.1,702.2 L318.0,703.7 L318.8,705.2 L319.7,706.7 L320.6,708.0 L321.5,709.4 L322.4,710.7 L323.3,711.9 L324.2,713.1 L325.1,714.2 L326.0,715.3 L326.9,716.4 L327.8,717.4 L328.7,718.4 L329.6,719.3 L330.5,720.2 L331.4,721.1 L332.3,721.9 L333.2,722.7 L334.1,723.5 L335.0,724.2 L335.9,724.9 L336.8,725.6 L337.7,726.3 L338.5,726.9 L339.4,727.5 L340.3,728.1 L341.2,728.7 L342.1,729.2 L343.0,729.7 L343.9,730.2 L344.8,730.7 L345.7,731.2 L346.6,731.6 L347.5,732.0 L348.4,732.4 L349.3,732.8 L350.2,733.2 L351.1,733.6 L352.0,733.9 L352.9,734.2 L353.8,734.6 L354.7,734.9 L355.6,735.2 L356.5,735.5 L357.4,735.7 L358.2,736.0 L359.1,736.2 L360.0,736.5 L360.9,736.7 L361.8,736.9 L362.7,737.1 L363.6,737.3 L364.5,737.5 L365.4,737.7 L366.3,737.9 L367.2,738.1 L368.1,738.2 L369.0,738.4 L369.9,738.5 L370.8,738.7 L371.7,738.8 L372.6,739.0 L373.5,739.1 L374.4,739.2 L375.3,739.3 L376.2,739.4 L377.1,739.5 L377.9,739.6 L378.8,739.7 L379.7,739.8 L380.6,739.9 L381.5,740.0 L382.4,740.1 L383.3,740.2 L384.2,740.2 L385.1,740.3 L386.0,740.4 L386.9,740.4 L387.8,740.5 L388.7,740.5 L389.6,740.6 L390.5,740.7 L391.4,740.7 L392.3,740.8 L393.2,740.8 L394.1,740.8 L395.0,740.9 L395.9,740.9 L396.8,741.0 L397.6,741.0 L398.5,741.0 L399.4,741.1 L400.3,741.1 L401.2,741.1 L402.1,741.1 L403.0,741.2 L403.9,741.2 L404.8,741.2 L405.7,741.2 L406.6,741.2 L407.5,741.3 L408.4,741.3 L409.3,741.3 L410.2,741.3 L411.1,741.3 L412.0,741.3 L412.9,741.3 L413.8,741.4 L414.7,741.4 L415.6,741.4 L416.5,741.4 L417.3,741.4 L418.2,741.4 L419.1,741.4 L420.0,741.4 L420.9,741.4 L421.8,741.4 L422.7,741.4 L423.6,741.4 L424.5,741.4 L425.4,741.4 L426.3,741.4 L427.2,741.4 L428.1,741.4 L429.0,741.4 L429.9,741.4 L430.8,741.4 L431.7,741.4 L432.6,741.4 L433.5,741.4 L434.4,741.4 L435.3,741.4 L436.2,741.4 L437.1,741.4 L437.9,741.4 L438.8,741.4 L439.7,741.4 L440.6,741.3 L441.5,741.3 L442.4,741.3 L443.3,741.3 L444.2,741.3 L445.1,741.3 L446.0,741.3 L446.9,741.3 L447.8,741.3 L448.7,741.3 L449.6,741.3 L450.5,741.3 L451.4,741.2 L452.3,741.2 L453.2,741.2 L454.1,741.2 L455.0,741.2 L455.9,741.2 L456.8,741.2 L457.6,741.2 L458.5,741.2 L459.4,741.2 L460.3,741.1 L461.2,741.1 L462.1,741.1 L463.0,741.1 L463.9,741.1 L464.8,741.1 L465.7,741.1 L466.6,741.1 L467.5,741.1 L468.4,741.0 L469.3,741.0 L470.2,741.0 L471.1,741.0 L472.0,741.0 L472.9,741.0 L473.8,741.0 L474.7,741.0 L475.6,740.9 L476.5,740.9 L477.3,740.9 L478.2,740.9 L479.1,740.9 L480.0,740.9 L480.9,740.9 L481.8,740.9 L482.7,740.8 L483.6,740.8 L484.5,740.8 L485.4,740.8 L486.3,740.8 L487.2,740.8 L488.1,740.8 L489.0,740.7 L489.9,740.7 L490.8,740.7 L491.7,740.7 L492.6,740.7 L493.5,740.7 L494.4,740.7 L495.3,740.7 L496.2,740.6 L497.0,740.6 L497.9,740.6 L498.8,740.6 L499.7,740.6 L500.6,740.6 L501.5,740.6 L502.4,740.5 L503.3,740.5 L504.2,740.5 L505.1,740.5 L506.0,740.5 L506.9,740.5 L507.8,740.5 L508.7,740.4 L509.6,740.4 L510.5,740.4 L511.4,740.4 L512.3,740.4 L513.2,740.4 L514.1,740.4 L515.0,740.3 L515.9,740.3 L516.7,740.3 L517.6,740.3 L518.5,740.3 L519.4,740.3 L520.3,740.3 L521.2,740.3 L522.1,740.2 L523.0,740.2 L523.9,740.2 L524.8,740.2 L525.7,740.2 L526.6,740.2 L527.5,740.2 L528.4,740.1 L529.3,740.1 L530.2,740.1 L531.1,740.1 L532.0,740.1 L532.9,740.1 L533.8,740.1 L534.7,740.0 L535.6,740.0 L536.5,740.0" fill="none" stroke="#1de6ea" stroke-width="2.9" stroke-linejoin="round"/>
<path d="M89.6,516.7 L90.5,516.8 L91.4,516.9 L92.3,517.0 L93.2,517.1 L94.1,517.1 L95.0,517.2 L95.9,517.3 L96.8,517.4 L97.7,517.5 L98.6,517.5 L99.5,517.6 L100.3,517.7 L101.2,517.8 L102.1,517.9 L103.0,518.0 L103.9,518.0 L104.8,518.1 L105.7,518.2 L106.6,518.3 L107.5,518.4 L108.4,518.4 L109.3,518.5 L110.2,518.6 L111.1,518.7 L112.0,518.8 L112.9,518.8 L113.8,518.9 L114.7,519.0 L115.6,519.1 L116.5,519.2 L117.4,519.3 L118.3,519.3 L119.2,519.4 L120.0,519.5 L120.9,519.6 L121.8,519.7 L122.7,519.7 L123.6,519.8 L124.5,519.9 L125.4,520.0 L126.3,520.1 L127.2,520.1 L128.1,520.2 L129.0,520.3 L129.9,520.4 L130.8,520.5 L131.7,520.6 L132.6,520.6 L133.5,520.7 L134.4,520.8 L135.3,520.9 L136.2,521.0 L137.1,521.0 L138.0,521.1 L138.9,521.2 L139.7,521.3 L140.6,521.4 L141.5,521.5 L142.4,521.5 L143.3,521.6 L144.2,521.7 L145.1,521.8 L146.0,521.9 L146.9,521.9 L147.8,522.0 L148.7,522.1 L149.6,522.2 L150.5,522.3 L151.4,522.3 L152.3,522.4 L153.2,522.5 L154.1,522.6 L155.0,522.7 L155.9,522.8 L156.8,522.8 L157.7,522.9 L158.6,523.0 L159.4,523.1 L160.3,523.2 L161.2,523.2 L162.1,523.3 L163.0,523.4 L163.9,523.5 L164.8,523.6 L165.7,523.6 L166.6,523.7 L167.5,523.8 L168.4,523.9 L169.3,524.0 L170.2,524.1 L171.1,524.1 L172.0,524.2 L172.9,524.3 L173.8,524.4 L174.7,524.5 L175.6,524.5 L176.5,524.6 L177.4,524.7 L178.3,524.8 L179.1,524.9 L180.0,524.9 L180.9,525.0 L181.8,525.1 L182.7,525.2 L183.6,525.3 L184.5,525.4 L185.4,525.4 L186.3,525.5 L187.2,525.6 L188.1,525.7 L189.0,525.8 L189.9,525.8 L190.8,525.9 L191.7,526.0 L192.6,526.1 L193.5,526.2 L194.4,526.3 L195.3,526.3 L196.2,526.4 L197.1,526.5 L198.0,526.6 L198.8,526.7 L199.7,526.7 L200.6,526.8 L201.5,526.9 L202.4,527.0 L203.3,527.1 L204.2,527.2 L205.1,527.2 L206.0,527.3 L206.9,527.4 L207.8,527.5 L208.7,527.6 L209.6,527.7 L210.5,527.7 L211.4,527.8 L212.3,527.9 L213.2,528.0 L214.1,528.1 L215.0,528.2 L215.9,528.3 L216.8,528.3 L217.7,528.4 L218.6,528.5 L219.4,528.6 L220.3,528.7 L221.2,528.8 L222.1,528.9 L223.0,529.0 L223.9,529.0 L224.8,529.1 L225.7,529.2 L226.6,529.3 L227.5,529.4 L228.4,529.5 L229.3,529.6 L230.2,529.7 L231.1,529.8 L232.0,529.9 L232.9,530.0 L233.8,530.1 L234.7,530.2 L235.6,530.3 L236.5,530.4 L237.4,530.6 L238.3,530.7 L239.1,530.8 L240.0,530.9 L240.9,531.0 L241.8,531.2 L242.7,531.3 L243.6,531.4 L244.5,531.6 L245.4,531.7 L246.3,531.9 L247.2,532.0 L248.1,532.2 L249.0,532.4 L249.9,532.6 L250.8,532.8 L251.7,533.0 L252.6,533.2 L253.5,533.4 L254.4,533.7 L255.3,533.9 L256.2,534.2 L257.1,534.5 L258.0,534.7 L258.8,535.1 L259.7,535.4 L260.6,535.8 L261.5,536.1 L262.4,536.5 L263.3,537.0 L264.2,537.4 L265.1,537.9 L266.0,538.5 L266.9,539.0 L267.8,539.6 L268.7,540.3 L269.6,541.0 L270.5,541.7 L271.4,542.5 L272.3,543.3 L273.2,544.2 L274.1,545.2 L275.0,546.2 L275.9,547.3 L276.8,548.5 L277.7,549.7 L278.5,551.1 L279.4,552.5 L280.3,554.0 L281.2,555.6 L282.1,557.3 L283.0,559.1 L283.9,560.9 L284.8,562.9 L285.7,565.0 L286.6,567.2 L287.5,569.5 L288.4,571.9 L289.3,574.5 L290.2,577.1 L291.1,579.8 L292.0,582.6 L292.9,585.5 L293.8,588.5 L294.7,591.5 L295.6,594.7 L296.5,597.8 L297.4,601.1 L298.2,604.4 L299.1,607.7 L300.0,611.0 L300.9,614.3 L301.8,617.6 L302.7,620.9 L303.6,624.2 L304.5,627.5 L305.4,630.6 L306.3,633.8 L307.2,636.8 L308.1,639.8 L309.0,642.7 L309.9,645.5 L310.8,648.3 L311.7,650.9 L312.6,653.4 L313.5,655.8 L314.4,658.1 L315.3,660.3 L316.2,662.4 L317.1,664.4 L318.0,666.3 L318.8,668.0 L319.7,669.7 L320.6,671.3 L321.5,672.8 L322.4,674.2 L323.3,675.5 L324.2,676.7 L325.1,677.9 L326.0,679.0 L326.9,680.0 L327.8,680.9 L328.7,681.8 L329.6,682.6 L330.5,683.3 L331.4,684.0 L332.3,684.7 L333.2,685.3 L334.1,685.8 L335.0,686.3 L335.9,686.8 L336.8,687.2 L337.7,687.6 L338.5,688.0 L339.4,688.4 L340.3,688.7 L341.2,689.0 L342.1,689.2 L343.0,689.5 L343.9,689.7 L344.8,689.9 L345.7,690.1 L346.6,690.3 L347.5,690.4 L348.4,690.6 L349.3,690.7 L350.2,690.8 L351.1,691.0 L352.0,691.1 L352.9,691.2 L353.8,691.2 L354.7,691.3 L355.6,691.4 L356.5,691.4 L357.4,691.5 L358.2,691.5 L359.1,691.6 L360.0,691.6 L360.9,691.7 L361.8,691.7 L362.7,691.7 L363.6,691.7 L364.5,691.8 L365.4,691.8 L366.3,691.8 L367.2,691.8 L368.1,691.8 L369.0,691.8 L369.9,691.8 L370.8,691.8 L371.7,691.8 L372.6,691.8 L373.5,691.8 L374.4,691.8 L375.3,691.8 L376.2,691.8 L377.1,691.8 L377.9,691.8 L378.8,691.8 L379.7,691.8 L380.6,691.8 L381.5,691.8 L382.4,691.8 L383.3,691.7 L384.2,691.7 L385.1,691.7 L386.0,691.7 L386.9,691.7 L387.8,691.7 L388.7,691.7 L389.6,691.7 L390.5,691.6 L391.4,691.6 L392.3,691.6 L393.2,691.6 L394.1,691.6 L395.0,691.6 L395.9,691.5 L396.8,691.5 L397.6,691.5 L398.5,691.5 L399.4,691.5 L400.3,691.5 L401.2,691.4 L402.1,691.4 L403.0,691.4 L403.9,691.4 L404.8,691.4 L405.7,691.4 L406.6,691.3 L407.5,691.3 L408.4,691.3 L409.3,691.3 L410.2,691.3 L411.1,691.2 L412.0,691.2 L412.9,691.2 L413.8,691.2 L414.7,691.2 L415.6,691.2 L416.5,691.1 L417.3,691.1 L418.2,691.1 L419.1,691.1 L420.0,691.1 L420.9,691.0 L421.8,691.0 L422.7,691.0 L423.6,691.0 L424.5,691.0 L425.4,691.0 L426.3,690.9 L427.2,690.9 L428.1,690.9 L429.0,690.9 L429.9,690.9 L430.8,690.8 L431.7,690.8 L432.6,690.8 L433.5,690.8 L434.4,690.8 L435.3,690.7 L436.2,690.7 L437.1,690.7 L437.9,690.7 L438.8,690.7 L439.7,690.7 L440.6,690.6 L441.5,690.6 L442.4,690.6 L443.3,690.6 L444.2,690.6 L445.1,690.5 L446.0,690.5 L446.9,690.5 L447.8,690.5 L448.7,690.5 L449.6,690.5 L450.5,690.4 L451.4,690.4 L452.3,690.4 L453.2,690.4 L454.1,690.4 L455.0,690.3 L455.9,690.3 L456.8,690.3 L457.6,690.3 L458.5,690.3 L459.4,690.2 L460.3,690.2 L461.2,690.2 L462.1,690.2 L463.0,690.2 L463.9,690.2 L464.8,690.1 L465.7,690.1 L466.6,690.1 L467.5,690.1 L468.4,690.1 L469.3,690.0 L470.2,690.0 L471.1,690.0 L472.0,690.0 L472.9,690.0 L473.8,689.9 L474.7,689.9 L475.6,689.9 L476.5,689.9 L477.3,689.9 L478.2,689.9 L479.1,689.8 L480.0,689.8 L480.9,689.8 L481.8,689.8 L482.7,689.8 L483.6,689.7 L484.5,689.7 L485.4,689.7 L486.3,689.7 L487.2,689.7 L488.1,689.6 L489.0,689.6 L489.9,689.6 L490.8,689.6 L491.7,689.6 L492.6,689.6 L493.5,689.5 L494.4,689.5 L495.3,689.5 L496.2,689.5 L497.0,689.5 L497.9,689.4 L498.8,689.4 L499.7,689.4 L500.6,689.4 L501.5,689.4 L502.4,689.4 L503.3,689.3 L504.2,689.3 L505.1,689.3 L506.0,689.3 L506.9,689.3 L507.8,689.2 L508.7,689.2 L509.6,689.2 L510.5,689.2 L511.4,689.2 L512.3,689.1 L513.2,689.1 L514.1,689.1 L515.0,689.1 L515.9,689.1 L516.7,689.1 L517.6,689.0 L518.5,689.0 L519.4,689.0 L520.3,689.0 L521.2,689.0 L522.1,688.9 L523.0,688.9 L523.9,688.9 L524.8,688.9 L525.7,688.9 L526.6,688.8 L527.5,688.8 L528.4,688.8 L529.3,688.8 L530.2,688.8 L531.1,688.8 L532.0,688.7 L532.9,688.7 L533.8,688.7 L534.7,688.7 L535.6,688.7 L536.5,688.6" fill="none" stroke="#ee1212" stroke-width="2.9" stroke-linejoin="round"/>
<path d="M89.6,509.3 L90.5,509.4 L91.4,509.5 L92.3,509.5 L93.2,509.6 L94.1,509.6 L95.0,509.7 L95.9,509.8 L96.8,509.8 L97.7,509.9 L98.6,510.0 L99.5,510.0 L100.3,510.1 L101.2,510.1 L102.1,510.2 L103.0,510.3 L103.9,510.3 L104.8,510.4 L105.7,510.5 L106.6,510.5 L107.5,510.6 L108.4,510.6 L109.3,510.7 L110.2,510.8 L111.1,510.8 L112.0,510.9 L112.9,511.0 L113.8,511.0 L114.7,511.1 L115.6,511.1 L116.5,511.2 L117.4,511.3 L118.3,511.3 L119.2,511.4 L120.0,511.5 L120.9,511.5 L121.8,511.6 L122.7,511.7 L123.6,511.7 L124.5,511.8 L125.4,511.8 L126.3,511.9 L127.2,512.0 L128.1,512.0 L129.0,512.1 L129.9,512.2 L130.8,512.2 L131.7,512.3 L132.6,512.3 L133.5,512.4 L134.4,512.5 L135.3,512.5 L136.2,512.6 L137.1,512.7 L138.0,512.7 L138.9,512.8 L139.7,512.8 L140.6,512.9 L141.5,513.0 L142.4,513.0 L143.3,513.1 L144.2,513.2 L145.1,513.2 L146.0,513.3 L146.9,513.4 L147.8,513.4 L148.7,513.5 L149.6,513.5 L150.5,513.6 L151.4,513.7 L152.3,513.7 L153.2,513.8 L154.1,513.9 L155.0,513.9 L155.9,514.0 L156.8,514.1 L157.7,514.1 L158.6,514.2 L159.4,514.2 L160.3,514.3 L161.2,514.4 L162.1,514.4 L163.0,514.5 L163.9,514.6 L164.8,514.6 L165.7,514.7 L166.6,514.8 L167.5,514.8 L168.4,514.9 L169.3,514.9 L170.2,515.0 L171.1,515.1 L172.0,515.1 L172.9,515.2 L173.8,515.3 L174.7,515.3 L175.6,515.4 L176.5,515.5 L177.4,515.5 L178.3,515.6 L179.1,515.7 L180.0,515.7 L180.9,515.8 L181.8,515.9 L182.7,515.9 L183.6,516.0 L184.5,516.1 L185.4,516.1 L186.3,516.2 L187.2,516.3 L188.1,516.3 L189.0,516.4 L189.9,516.5 L190.8,516.6 L191.7,516.6 L192.6,516.7 L193.5,516.8 L194.4,516.8 L195.3,516.9 L196.2,517.0 L197.1,517.1 L198.0,517.1 L198.8,517.2 L199.7,517.3 L200.6,517.4 L201.5,517.4 L202.4,517.5 L203.3,517.6 L204.2,517.7 L205.1,517.8 L206.0,517.9 L206.9,517.9 L207.8,518.0 L208.7,518.1 L209.6,518.2 L210.5,518.3 L211.4,518.4 L212.3,518.5 L213.2,518.6 L214.1,518.7 L215.0,518.8 L215.9,518.9 L216.8,519.0 L217.7,519.1 L218.6,519.3 L219.4,519.4 L220.3,519.5 L221.2,519.6 L222.1,519.8 L223.0,519.9 L223.9,520.1 L224.8,520.2 L225.7,520.4 L226.6,520.5 L227.5,520.7 L228.4,520.9 L229.3,521.1 L230.2,521.2 L231.1,521.4 L232.0,521.7 L232.9,521.9 L233.8,522.1 L234.7,522.3 L235.6,522.6 L236.5,522.8 L237.4,523.1 L238.3,523.4 L239.1,523.7 L240.0,524.0 L240.9,524.4 L241.8,524.7 L242.7,525.1 L243.6,525.5 L244.5,525.9 L245.4,526.3 L246.3,526.8 L247.2,527.3 L248.1,527.8 L249.0,528.3 L249.9,528.9 L250.8,529.5 L251.7,530.1 L252.6,530.8 L253.5,531.5 L254.4,532.2 L255.3,533.0 L256.2,533.8 L257.1,534.7 L258.0,535.6 L258.8,536.5 L259.7,537.5 L260.6,538.6 L261.5,539.7 L262.4,540.9 L263.3,542.1 L264.2,543.4 L265.1,544.8 L266.0,546.2 L266.9,547.7 L267.8,549.3 L268.7,551.0 L269.6,552.7 L270.5,554.5 L271.4,556.4 L272.3,558.3 L273.2,560.3 L274.1,562.5 L275.0,564.7 L275.9,566.9 L276.8,569.3 L277.7,571.7 L278.5,574.3 L279.4,576.9 L280.3,579.5 L281.2,582.3 L282.1,585.1 L283.0,588.0 L283.9,590.9 L284.8,593.9 L285.7,597.0 L286.6,600.1 L287.5,603.2 L288.4,606.4 L289.3,609.6 L290.2,612.9 L291.1,616.1 L292.0,619.3 L292.9,622.6 L293.8,625.8 L294.7,629.0 L295.6,632.2 L296.5,635.4 L297.4,638.5 L298.2,641.5 L299.1,644.6 L300.0,647.5 L300.9,650.4 L301.8,653.2 L302.7,655.9 L303.6,658.6 L304.5,661.2 L305.4,663.7 L306.3,666.1 L307.2,668.4 L308.1,670.6 L309.0,672.7 L309.9,674.7 L310.8,676.7 L311.7,678.5 L312.6,680.3 L313.5,681.9 L314.4,683.5 L315.3,685.0 L316.2,686.4 L317.1,687.8 L318.0,689.0 L318.8,690.2 L319.7,691.3 L320.6,692.3 L321.5,693.3 L322.4,694.2 L323.3,695.1 L324.2,695.9 L325.1,696.6 L326.0,697.3 L326.9,697.9 L327.8,698.5 L328.7,699.1 L329.6,699.6 L330.5,700.1 L331.4,700.5 L332.3,700.9 L333.2,701.3 L334.1,701.6 L335.0,702.0 L335.9,702.2 L336.8,702.5 L337.7,702.8 L338.5,703.0 L339.4,703.2 L340.3,703.4 L341.2,703.6 L342.1,703.8 L343.0,703.9 L343.9,704.0 L344.8,704.2 L345.7,704.3 L346.6,704.4 L347.5,704.5 L348.4,704.6 L349.3,704.6 L350.2,704.7 L351.1,704.8 L352.0,704.8 L352.9,704.9 L353.8,704.9 L354.7,705.0 L355.6,705.0 L356.5,705.0 L357.4,705.1 L358.2,705.1 L359.1,705.1 L360.0,705.1 L360.9,705.1 L361.8,705.2 L362.7,705.2 L363.6,705.2 L364.5,705.2 L365.4,705.2 L366.3,705.2 L367.2,705.2 L368.1,705.2 L369.0,705.2 L369.9,705.2 L370.8,705.2 L371.7,705.2 L372.6,705.2 L373.5,705.2 L374.4,705.2 L375.3,705.2 L376.2,705.1 L377.1,705.1 L377.9,705.1 L378.8,705.1 L379.7,705.1 L380.6,705.1 L381.5,705.1 L382.4,705.1 L383.3,705.1 L384.2,705.0 L385.1,705.0 L386.0,705.0 L386.9,705.0 L387.8,705.0 L388.7,705.0 L389.6,705.0 L390.5,705.0 L391.4,704.9 L392.3,704.9 L393.2,704.9 L394.1,704.9 L395.0,704.9 L395.9,704.9 L396.8,704.9 L397.6,704.8 L398.5,704.8 L399.4,704.8 L400.3,704.8 L401.2,704.8 L402.1,704.8 L403.0,704.7 L403.9,704.7 L404.8,704.7 L405.7,704.7 L406.6,704.7 L407.5,704.7 L408.4,704.7 L409.3,704.6 L410.2,704.6 L411.1,704.6 L412.0,704.6 L412.9,704.6 L413.8,704.6 L414.7,704.5 L415.6,704.5 L416.5,704.5 L417.3,704.5 L418.2,704.5 L419.1,704.5 L420.0,704.4 L420.9,704.4 L421.8,704.4 L422.7,704.4 L423.6,704.4 L424.5,704.4 L425.4,704.3 L426.3,704.3 L427.2,704.3 L428.1,704.3 L429.0,704.3 L429.9,704.3 L430.8,704.3 L431.7,704.2 L432.6,704.2 L433.5,704.2 L434.4,704.2 L435.3,704.2 L436.2,704.2 L437.1,704.1 L437.9,704.1 L438.8,704.1 L439.7,704.1 L440.6,704.1 L441.5,704.1 L442.4,704.0 L443.3,704.0 L444.2,704.0 L445.1,704.0 L446.0,704.0 L446.9,704.0 L447.8,703.9 L448.7,703.9 L449.6,703.9 L450.5,703.9 L451.4,703.9 L452.3,703.9 L453.2,703.8 L454.1,703.8 L455.0,703.8 L455.9,703.8 L456.8,703.8 L457.6,703.8 L458.5,703.8 L459.4,703.7 L460.3,703.7 L461.2,703.7 L462.1,703.7 L463.0,703.7 L463.9,703.7 L464.8,703.6 L465.7,703.6 L466.6,703.6 L467.5,703.6 L468.4,703.6 L469.3,703.6 L470.2,703.5 L471.1,703.5 L472.0,703.5 L472.9,703.5 L473.8,703.5 L474.7,703.5 L475.6,703.4 L476.5,703.4 L477.3,703.4 L478.2,703.4 L479.1,703.4 L480.0,703.4 L480.9,703.3 L481.8,703.3 L482.7,703.3 L483.6,703.3 L484.5,703.3 L485.4,703.3 L486.3,703.3 L487.2,703.2 L488.1,703.2 L489.0,703.2 L489.9,703.2 L490.8,703.2 L491.7,703.2 L492.6,703.1 L493.5,703.1 L494.4,703.1 L495.3,703.1 L496.2,703.1 L497.0,703.1 L497.9,703.0 L498.8,703.0 L499.7,703.0 L500.6,703.0 L501.5,703.0 L502.4,703.0 L503.3,702.9 L504.2,702.9 L505.1,702.9 L506.0,702.9 L506.9,702.9 L507.8,702.9 L508.7,702.8 L509.6,702.8 L510.5,702.8 L511.4,702.8 L512.3,702.8 L513.2,702.8 L514.1,702.8 L515.0,702.7 L515.9,702.7 L516.7,702.7 L517.6,702.7 L518.5,702.7 L519.4,702.7 L520.3,702.6 L521.2,702.6 L522.1,702.6 L523.0,702.6 L523.9,702.6 L524.8,702.6 L525.7,702.5 L526.6,702.5 L527.5,702.5 L528.4,702.5 L529.3,702.5 L530.2,702.5 L531.1,702.4 L532.0,702.4 L532.9,702.4 L533.8,702.4 L534.7,702.4 L535.6,702.4 L536.5,702.3" fill="none" stroke="#f28018" stroke-width="2.9" stroke-linejoin="round"/>
<path d="M89.6,505.7 L90.5,505.8 L91.4,505.9 L92.3,505.9 L93.2,506.0 L94.1,506.1 L95.0,506.1 L95.9,506.2 L96.8,506.3 L97.7,506.3 L98.6,506.4 L99.5,506.5 L100.3,506.5 L101.2,506.6 L102.1,506.7 L103.0,506.7 L103.9,506.8 L104.8,506.9 L105.7,507.0 L106.6,507.0 L107.5,507.1 L108.4,507.2 L109.3,507.2 L110.2,507.3 L111.1,507.4 L112.0,507.4 L112.9,507.5 L113.8,507.6 L114.7,507.6 L115.6,507.7 L116.5,507.8 L117.4,507.8 L118.3,507.9 L119.2,508.0 L120.0,508.1 L120.9,508.1 L121.8,508.2 L122.7,508.3 L123.6,508.3 L124.5,508.4 L125.4,508.5 L126.3,508.5 L127.2,508.6 L128.1,508.7 L129.0,508.7 L129.9,508.8 L130.8,508.9 L131.7,509.0 L132.6,509.0 L133.5,509.1 L134.4,509.2 L135.3,509.2 L136.2,509.3 L137.1,509.4 L138.0,509.4 L138.9,509.5 L139.7,509.6 L140.6,509.6 L141.5,509.7 L142.4,509.8 L143.3,509.8 L144.2,509.9 L145.1,510.0 L146.0,510.1 L146.9,510.1 L147.8,510.2 L148.7,510.3 L149.6,510.3 L150.5,510.4 L151.4,510.5 L152.3,510.5 L153.2,510.6 L154.1,510.7 L155.0,510.7 L155.9,510.8 L156.8,510.9 L157.7,510.9 L158.6,511.0 L159.4,511.1 L160.3,511.2 L161.2,511.2 L162.1,511.3 L163.0,511.4 L163.9,511.4 L164.8,511.5 L165.7,511.6 L166.6,511.6 L167.5,511.7 L168.4,511.8 L169.3,511.8 L170.2,511.9 L171.1,512.0 L172.0,512.1 L172.9,512.1 L173.8,512.2 L174.7,512.3 L175.6,512.3 L176.5,512.4 L177.4,512.5 L178.3,512.5 L179.1,512.6 L180.0,512.7 L180.9,512.7 L181.8,512.8 L182.7,512.9 L183.6,513.0 L184.5,513.0 L185.4,513.1 L186.3,513.2 L187.2,513.2 L188.1,513.3 L189.0,513.4 L189.9,513.4 L190.8,513.5 L191.7,513.6 L192.6,513.6 L193.5,513.7 L194.4,513.8 L195.3,513.9 L196.2,513.9 L197.1,514.0 L198.0,514.1 L198.8,514.1 L199.7,514.2 L200.6,514.3 L201.5,514.4 L202.4,514.4 L203.3,514.5 L204.2,514.6 L205.1,514.6 L206.0,514.7 L206.9,514.8 L207.8,514.9 L208.7,514.9 L209.6,515.0 L210.5,515.1 L211.4,515.1 L212.3,515.2 L213.2,515.3 L214.1,515.4 L215.0,515.5 L215.9,515.5 L216.8,515.6 L217.7,515.7 L218.6,515.8 L219.4,515.8 L220.3,515.9 L221.2,516.0 L222.1,516.1 L223.0,516.2 L223.9,516.3 L224.8,516.3 L225.7,516.4 L226.6,516.5 L227.5,516.6 L228.4,516.7 L229.3,516.8 L230.2,516.9 L231.1,517.0 L232.0,517.1 L232.9,517.2 L233.8,517.3 L234.7,517.4 L235.6,517.6 L236.5,517.7 L237.4,517.8 L238.3,517.9 L239.1,518.1 L240.0,518.2 L240.9,518.3 L241.8,518.5 L242.7,518.7 L243.6,518.8 L244.5,519.0 L245.4,519.2 L246.3,519.4 L247.2,519.6 L248.1,519.8 L249.0,520.0 L249.9,520.3 L250.8,520.5 L251.7,520.8 L252.6,521.1 L253.5,521.4 L254.4,521.7 L255.3,522.1 L256.2,522.5 L257.1,522.8 L258.0,523.3 L258.8,523.7 L259.7,524.2 L260.6,524.7 L261.5,525.3 L262.4,525.8 L263.3,526.5 L264.2,527.1 L265.1,527.8 L266.0,528.6 L266.9,529.4 L267.8,530.3 L268.7,531.2 L269.6,532.2 L270.5,533.3 L271.4,534.4 L272.3,535.6 L273.2,536.8 L274.1,538.2 L275.0,539.6 L275.9,541.2 L276.8,542.8 L277.7,544.5 L278.5,546.3 L279.4,548.2 L280.3,550.2 L281.2,552.3 L282.1,554.5 L283.0,556.8 L283.9,559.2 L284.8,561.8 L285.7,564.4 L286.6,567.1 L287.5,569.9 L288.4,572.9 L289.3,575.9 L290.2,579.0 L291.1,582.1 L292.0,585.4 L292.9,588.7 L293.8,592.1 L294.7,595.5 L295.6,599.0 L296.5,602.5 L297.4,606.0 L298.2,609.5 L299.1,613.1 L300.0,616.6 L300.9,620.2 L301.8,623.7 L302.7,627.2 L303.6,630.6 L304.5,634.0 L305.4,637.4 L306.3,640.7 L307.2,643.9 L308.1,647.1 L309.0,650.2 L309.9,653.2 L310.8,656.1 L311.7,659.0 L312.6,661.8 L313.5,664.5 L314.4,667.1 L315.3,669.6 L316.2,672.0 L317.1,674.4 L318.0,676.7 L318.8,678.8 L319.7,680.9 L320.6,683.0 L321.5,684.9 L322.4,686.8 L323.3,688.5 L324.2,690.3 L325.1,691.9 L326.0,693.5 L326.9,695.0 L327.8,696.4 L328.7,697.8 L329.6,699.1 L330.5,700.3 L331.4,701.5 L332.3,702.7 L333.2,703.7 L334.1,704.8 L335.0,705.8 L335.9,706.7 L336.8,707.6 L337.7,708.4 L338.5,709.3 L339.4,710.0 L340.3,710.8 L341.2,711.4 L342.1,712.1 L343.0,712.7 L343.9,713.3 L344.8,713.9 L345.7,714.4 L346.6,715.0 L347.5,715.4 L348.4,715.9 L349.3,716.3 L350.2,716.8 L351.1,717.1 L352.0,717.5 L352.9,717.9 L353.8,718.2 L354.7,718.5 L355.6,718.8 L356.5,719.1 L357.4,719.4 L358.2,719.6 L359.1,719.9 L360.0,720.1 L360.9,720.3 L361.8,720.5 L362.7,720.7 L363.6,720.9 L364.5,721.0 L365.4,721.2 L366.3,721.3 L367.2,721.5 L368.1,721.6 L369.0,721.7 L369.9,721.8 L370.8,722.0 L371.7,722.1 L372.6,722.2 L373.5,722.2 L374.4,722.3 L375.3,722.4 L376.2,722.5 L377.1,722.5 L377.9,722.6 L378.8,722.7 L379.7,722.7 L380.6,722.7 L381.5,722.8 L382.4,722.8 L383.3,722.9 L384.2,722.9 L385.1,722.9 L386.0,723.0 L386.9,723.0 L387.8,723.0 L388.7,723.0 L389.6,723.0 L390.5,723.0 L391.4,723.0 L392.3,723.1 L393.2,723.1 L394.1,723.1 L395.0,723.1 L395.9,723.1 L396.8,723.1 L397.6,723.1 L398.5,723.0 L399.4,723.0 L400.3,723.0 L401.2,723.0 L402.1,723.0 L403.0,723.0 L403.9,723.0 L404.8,723.0 L405.7,723.0 L406.6,722.9 L407.5,722.9 L408.4,722.9 L409.3,722.9 L410.2,722.9 L411.1,722.8 L412.0,722.8 L412.9,722.8 L413.8,722.8 L414.7,722.7 L415.6,722.7 L416.5,722.7 L417.3,722.7 L418.2,722.6 L419.1,722.6 L420.0,722.6 L420.9,722.6 L421.8,722.5 L422.7,722.5 L423.6,722.5 L424.5,722.4 L425.4,722.4 L426.3,722.4 L427.2,722.4 L428.1,722.3 L429.0,722.3 L429.9,722.3 L430.8,722.2 L431.7,722.2 L432.6,722.2 L433.5,722.1 L434.4,722.1 L435.3,722.1 L436.2,722.0 L437.1,722.0 L437.9,722.0 L438.8,721.9 L439.7,721.9 L440.6,721.9 L441.5,721.8 L442.4,721.8 L443.3,721.8 L444.2,721.7 L445.1,721.7 L446.0,721.7 L446.9,721.6 L447.8,721.6 L448.7,721.6 L449.6,721.5 L450.5,721.5 L451.4,721.5 L452.3,721.4 L453.2,721.4 L454.1,721.3 L455.0,721.3 L455.9,721.3 L456.8,721.2 L457.6,721.2 L458.5,721.2 L459.4,721.1 L460.3,721.1 L461.2,721.1 L462.1,721.0 L463.0,721.0 L463.9,721.0 L464.8,720.9 L465.7,720.9 L466.6,720.8 L467.5,720.8 L468.4,720.8 L469.3,720.7 L470.2,720.7 L471.1,720.7 L472.0,720.6 L472.9,720.6 L473.8,720.6 L474.7,720.5 L475.6,720.5 L476.5,720.4 L477.3,720.4 L478.2,720.4 L479.1,720.3 L480.0,720.3 L480.9,720.3 L481.8,720.2 L482.7,720.2 L483.6,720.2 L484.5,720.1 L485.4,720.1 L486.3,720.0 L487.2,720.0 L488.1,720.0 L489.0,719.9 L489.9,719.9 L490.8,719.9 L491.7,719.8 L492.6,719.8 L493.5,719.8 L494.4,719.7 L495.3,719.7 L496.2,719.6 L497.0,719.6 L497.9,719.6 L498.8,719.5 L499.7,719.5 L500.6,719.5 L501.5,719.4 L502.4,719.4 L503.3,719.3 L504.2,719.3 L505.1,719.3 L506.0,719.2 L506.9,719.2 L507.8,719.2 L508.7,719.1 L509.6,719.1 L510.5,719.1 L511.4,719.0 L512.3,719.0 L513.2,718.9 L514.1,718.9 L515.0,718.9 L515.9,718.8 L516.7,718.8 L517.6,718.8 L518.5,718.7 L519.4,718.7 L520.3,718.6 L521.2,718.6 L522.1,718.6 L523.0,718.5 L523.9,718.5 L524.8,718.5 L525.7,718.4 L526.6,718.4 L527.5,718.4 L528.4,718.3 L529.3,718.3 L530.2,718.2 L531.1,718.2 L532.0,718.2 L532.9,718.1 L533.8,718.1 L534.7,718.1 L535.6,718.0 L536.5,718.0" fill="none" stroke="#1010d0" stroke-width="2.9" stroke-linejoin="round"/>
<path d="M89.6,513.1 L90.5,513.2 L91.4,513.3 L92.3,513.3 L93.2,513.4 L94.1,513.5 L95.0,513.6 L95.9,513.6 L96.8,513.7 L97.7,513.8 L98.6,513.9 L99.5,513.9 L100.3,514.0 L101.2,514.1 L102.1,514.1 L103.0,514.2 L103.9,514.3 L104.8,514.4 L105.7,514.4 L106.6,514.5 L107.5,514.6 L108.4,514.7 L109.3,514.7 L110.2,514.8 L111.1,514.9 L112.0,515.0 L112.9,515.0 L113.8,515.1 L114.7,515.2 L115.6,515.3 L116.5,515.3 L117.4,515.4 L118.3,515.5 L119.2,515.6 L120.0,515.6 L120.9,515.7 L121.8,515.8 L122.7,515.9 L123.6,515.9 L124.5,516.0 L125.4,516.1 L126.3,516.2 L127.2,516.2 L128.1,516.3 L129.0,516.4 L129.9,516.5 L130.8,516.5 L131.7,516.6 L132.6,516.7 L133.5,516.8 L134.4,516.8 L135.3,516.9 L136.2,517.0 L137.1,517.0 L138.0,517.1 L138.9,517.2 L139.7,517.3 L140.6,517.3 L141.5,517.4 L142.4,517.5 L143.3,517.6 L144.2,517.6 L145.1,517.7 L146.0,517.8 L146.9,517.9 L147.8,517.9 L148.7,518.0 L149.6,518.1 L150.5,518.2 L151.4,518.2 L152.3,518.3 L153.2,518.4 L154.1,518.5 L155.0,518.5 L155.9,518.6 L156.8,518.7 L157.7,518.8 L158.6,518.8 L159.4,518.9 L160.3,519.0 L161.2,519.1 L162.1,519.1 L163.0,519.2 L163.9,519.3 L164.8,519.4 L165.7,519.4 L166.6,519.5 L167.5,519.6 L168.4,519.7 L169.3,519.8 L170.2,519.8 L171.1,519.9 L172.0,520.0 L172.9,520.1 L173.8,520.1 L174.7,520.2 L175.6,520.3 L176.5,520.4 L177.4,520.4 L178.3,520.5 L179.1,520.6 L180.0,520.7 L180.9,520.8 L181.8,520.8 L182.7,520.9 L183.6,521.0 L184.5,521.1 L185.4,521.2 L186.3,521.2 L187.2,521.3 L188.1,521.4 L189.0,521.5 L189.9,521.6 L190.8,521.7 L191.7,521.8 L192.6,521.8 L193.5,521.9 L194.4,522.0 L195.3,522.1 L196.2,522.2 L197.1,522.3 L198.0,522.4 L198.8,522.5 L199.7,522.6 L200.6,522.7 L201.5,522.8 L202.4,522.9 L203.3,523.0 L204.2,523.1 L205.1,523.2 L206.0,523.3 L206.9,523.4 L207.8,523.5 L208.7,523.6 L209.6,523.8 L210.5,523.9 L211.4,524.0 L212.3,524.1 L213.2,524.3 L214.1,524.4 L215.0,524.6 L215.9,524.7 L216.8,524.9 L217.7,525.0 L218.6,525.2 L219.4,525.4 L220.3,525.5 L221.2,525.7 L222.1,525.9 L223.0,526.1 L223.9,526.3 L224.8,526.5 L225.7,526.8 L226.6,527.0 L227.5,527.3 L228.4,527.5 L229.3,527.8 L230.2,528.1 L231.1,528.4 L232.0,528.7 L232.9,529.1 L233.8,529.4 L234.7,529.8 L235.6,530.2 L236.5,530.6 L237.4,531.1 L238.3,531.6 L239.1,532.0 L240.0,532.6 L240.9,533.1 L241.8,533.7 L242.7,534.3 L243.6,535.0 L244.5,535.7 L245.4,536.4 L246.3,537.2 L247.2,538.0 L248.1,538.8 L249.0,539.7 L249.9,540.7 L250.8,541.7 L251.7,542.8 L252.6,543.9 L253.5,545.1 L254.4,546.3 L255.3,547.7 L256.2,549.0 L257.1,550.5 L258.0,552.0 L258.8,553.6 L259.7,555.3 L260.6,557.0 L261.5,558.9 L262.4,560.8 L263.3,562.7 L264.2,564.8 L265.1,567.0 L266.0,569.2 L266.9,571.5 L267.8,573.9 L268.7,576.4 L269.6,578.9 L270.5,581.5 L271.4,584.2 L272.3,587.0 L273.2,589.8 L274.1,592.6 L275.0,595.6 L275.9,598.5 L276.8,601.5 L277.7,604.5 L278.5,607.6 L279.4,610.6 L280.3,613.7 L281.2,616.8 L282.1,619.8 L283.0,622.8 L283.9,625.8 L284.8,628.8 L285.7,631.7 L286.6,634.6 L287.5,637.5 L288.4,640.2 L289.3,642.9 L290.2,645.5 L291.1,648.1 L292.0,650.6 L292.9,652.9 L293.8,655.2 L294.7,657.4 L295.6,659.6 L296.5,661.6 L297.4,663.5 L298.2,665.3 L299.1,667.1 L300.0,668.8 L300.9,670.3 L301.8,671.8 L302.7,673.2 L303.6,674.5 L304.5,675.8 L305.4,676.9 L306.3,678.0 L307.2,679.1 L308.1,680.0 L309.0,680.9 L309.9,681.7 L310.8,682.5 L311.7,683.2 L312.6,683.9 L313.5,684.5 L314.4,685.1 L315.3,685.6 L316.2,686.1 L317.1,686.6 L318.0,687.0 L318.8,687.4 L319.7,687.7 L320.6,688.1 L321.5,688.4 L322.4,688.6 L323.3,688.9 L324.2,689.1 L325.1,689.3 L326.0,689.5 L326.9,689.7 L327.8,689.9 L328.7,690.0 L329.6,690.1 L330.5,690.3 L331.4,690.4 L332.3,690.5 L333.2,690.5 L334.1,690.6 L335.0,690.7 L335.9,690.8 L336.8,690.8 L337.7,690.9 L338.5,690.9 L339.4,690.9 L340.3,691.0 L341.2,691.0 L342.1,691.0 L343.0,691.0 L343.9,691.0 L344.8,691.1 L345.7,691.1 L346.6,691.1 L347.5,691.1 L348.4,691.1 L349.3,691.1 L350.2,691.1 L351.1,691.1 L352.0,691.1 L352.9,691.0 L353.8,691.0 L354.7,691.0 L355.6,691.0 L356.5,691.0 L357.4,691.0 L358.2,691.0 L359.1,690.9 L360.0,690.9 L360.9,690.9 L361.8,690.9 L362.7,690.9 L363.6,690.8 L364.5,690.8 L365.4,690.8 L366.3,690.8 L367.2,690.8 L368.1,690.7 L369.0,690.7 L369.9,690.7 L370.8,690.7 L371.7,690.6 L372.6,690.6 L373.5,690.6 L374.4,690.6 L375.3,690.5 L376.2,690.5 L377.1,690.5 L377.9,690.5 L378.8,690.4 L379.7,690.4 L380.6,690.4 L381.5,690.4 L382.4,690.3 L383.3,690.3 L384.2,690.3 L385.1,690.3 L386.0,690.2 L386.9,690.2 L387.8,690.2 L388.7,690.2 L389.6,690.1 L390.5,690.1 L391.4,690.1 L392.3,690.1 L393.2,690.0 L394.1,690.0 L395.0,690.0 L395.9,690.0 L396.8,689.9 L397.6,689.9 L398.5,689.9 L399.4,689.8 L400.3,689.8 L401.2,689.8 L402.1,689.8 L403.0,689.7 L403.9,689.7 L404.8,689.7 L405.7,689.7 L406.6,689.6 L407.5,689.6 L408.4,689.6 L409.3,689.6 L410.2,689.5 L411.1,689.5 L412.0,689.5 L412.9,689.4 L413.8,689.4 L414.7,689.4 L415.6,689.4 L416.5,689.3 L417.3,689.3 L418.2,689.3 L419.1,689.3 L420.0,689.2 L420.9,689.2 L421.8,689.2 L422.7,689.2 L423.6,689.1 L424.5,689.1 L425.4,689.1 L426.3,689.0 L427.2,689.0 L428.1,689.0 L429.0,689.0 L429.9,688.9 L430.8,688.9 L431.7,688.9 L432.6,688.9 L433.5,688.8 L434.4,688.8 L435.3,688.8 L436.2,688.7 L437.1,688.7 L437.9,688.7 L438.8,688.7 L439.7,688.6 L440.6,688.6 L441.5,688.6 L442.4,688.6 L443.3,688.5 L444.2,688.5 L445.1,688.5 L446.0,688.5 L446.9,688.4 L447.8,688.4 L448.7,688.4 L449.6,688.3 L450.5,688.3 L451.4,688.3 L452.3,688.3 L453.2,688.2 L454.1,688.2 L455.0,688.2 L455.9,688.2" fill="none" stroke="#000000" stroke-width="2.9" stroke-linejoin="round" stroke-dasharray="14 6 3 6"/>
</g>
<g clip-path="url(#cc)">
<path d="M75.8,1241.8 L75.9,1207.1 L75.9,1207.1 L75.9,1207.1 L75.9,1207.1 L75.9,1207.0 L75.9,1207.0 L75.9,1207.0 L75.9,1206.9 L75.9,1206.9 L75.9,1206.9 L75.9,1206.8 L75.9,1206.8 L75.9,1206.8 L75.9,1206.7 L75.9,1206.7 L75.9,1206.6 L75.9,1206.6 L75.9,1206.6 L75.9,1206.5 L75.9,1206.5 L75.9,1206.4 L75.9,1206.4 L75.9,1206.4 L75.9,1206.3 L75.9,1206.3 L76.0,1206.2 L76.0,1206.2 L76.0,1206.1 L76.0,1206.1 L76.0,1206.0 L76.0,1206.0 L76.0,1205.9 L76.0,1205.9 L76.0,1205.8 L76.0,1205.8 L76.0,1205.7 L76.0,1205.7 L76.0,1205.6 L76.0,1205.5 L76.1,1205.5 L76.1,1205.4 L76.1,1205.3 L76.1,1205.3 L76.1,1205.2 L76.1,1205.1 L76.1,1205.1 L76.1,1205.0 L76.1,1204.9 L76.1,1204.9 L76.2,1204.8 L76.2,1204.7 L76.2,1204.6 L76.2,1204.6 L76.2,1204.5 L76.2,1204.4 L76.2,1204.3 L76.3,1204.2 L76.3,1204.1 L76.3,1204.0 L76.3,1203.9 L76.3,1203.8 L76.3,1203.7 L76.4,1203.7 L76.4,1203.5 L76.4,1203.4 L76.4,1203.3 L76.4,1203.2 L76.5,1203.1 L76.5,1203.0 L76.5,1202.9 L76.5,1202.8 L76.6,1202.7 L76.6,1202.5 L76.6,1202.4 L76.7,1202.3 L76.7,1202.2 L76.7,1202.0 L76.7,1201.9 L76.8,1201.8 L76.8,1201.6 L76.9,1201.5 L76.9,1201.3 L76.9,1201.2 L77.0,1201.0 L77.0,1200.9 L77.1,1200.7 L77.1,1200.5 L77.1,1200.4 L77.2,1200.2 L77.2,1200.0 L77.3,1199.8 L77.3,1199.7 L77.4,1199.5 L77.5,1199.3 L77.5,1199.1 L77.6,1198.9 L77.6,1198.7 L77.7,1198.5 L77.8,1198.3 L77.8,1198.1 L77.9,1197.8 L78.0,1197.6 L78.1,1197.4 L78.2,1197.2 L78.2,1196.9 L78.3,1196.7 L78.4,1196.4 L78.5,1196.2 L78.6,1195.9 L78.7,1195.6 L78.8,1195.4 L78.9,1195.1 L79.0,1194.8 L79.1,1194.5 L79.3,1194.2 L79.4,1193.9 L79.5,1193.6 L79.6,1193.3 L79.8,1193.0 L79.9,1192.6 L80.1,1192.3 L80.2,1191.9 L80.4,1191.6 L80.5,1191.2 L80.7,1190.9 L80.9,1190.5 L81.1,1190.1 L81.2,1189.7 L81.4,1189.3 L81.6,1188.9 L81.8,1188.5 L82.1,1188.0 L82.3,1187.6 L82.5,1187.1 L82.8,1186.7 L83.0,1186.2 L83.3,1185.7 L83.5,1185.2 L83.8,1184.7 L84.1,1184.2 L84.4,1183.7 L84.7,1183.2 L85.0,1182.6 L85.3,1182.1 L85.7,1181.5 L86.0,1180.9 L86.4,1180.3 L86.8,1179.7 L87.1,1179.1 L87.6,1178.4 L88.0,1177.8 L88.4,1177.1 L88.8,1176.4 L89.3,1175.7 L89.8,1175.0 L90.3,1174.3 L90.8,1173.5 L91.3,1172.7 L91.9,1172.0 L92.5,1171.1 L93.1,1170.3 L93.7,1169.5 L94.3,1168.6 L95.0,1167.8 L95.6,1166.9 L96.4,1165.9 L97.1,1165.0 L97.8,1164.0 L98.6,1163.1 L99.4,1162.1 L100.3,1161.0 L101.1,1160.0 L102.0,1158.9 L103.0,1157.8 L103.9,1156.7 L104.9,1155.5 L106.0,1154.3 L107.1,1153.1 L108.2,1151.9 L109.3,1150.7 L110.5,1149.4 L111.7,1148.0 L113.0,1146.7 L114.3,1145.3 L115.7,1143.9 L117.1,1142.5 L118.6,1141.0 L120.1,1139.5 L121.7,1137.9 L123.3,1136.4 L125.0,1134.8 L126.8,1133.1 L128.6,1131.4 L130.5,1129.7 L132.4,1127.9 L134.4,1126.1 L136.5,1124.3 L138.7,1122.4 L140.9,1120.5 L143.2,1118.5 L145.6,1116.5 L148.1,1114.4 L150.7,1112.3 L153.3,1110.2 L156.1,1108.0 L158.9,1105.7 L161.9,1103.4 L164.9,1101.1 L168.1,1098.7 L171.4,1096.2 L174.8,1093.7 L178.3,1091.2 L182.0,1088.6 L185.7,1085.9 L189.6,1083.2 L193.7,1080.4 L197.9,1077.6 L202.2,1074.7 L206.7,1071.7 L211.4,1068.7 L216.2,1065.6 L221.2,1062.5 L226.4,1059.3 L231.7,1056.0 L237.3,1052.7 L243.0,1049.3 L248.9,1045.8 L255.1,1042.3 L261.5,1038.7 L268.1,1035.1 L274.9,1031.3 L282.0,1027.5 L289.3,1023.7 L296.9,1019.7 L304.8,1015.7 L312.9,1011.6 L321.3,1007.5 L330.1,1003.3 L339.1,999.0 L348.5,994.6 L358.2,990.2 L368.2,985.7 L378.6,981.1 L389.4,976.5 L400.5,971.7 L412.1,966.9 L424.0,962.1 L436.4,957.1 L449.2,952.1 L462.5,947.0 L462.5,975.6 L462.5,976.8 L462.5,976.8 L462.5,976.8 L462.5,976.9 L462.5,976.9 L462.5,977.0 L462.5,977.0 L462.5,977.1 L462.5,977.1 L462.5,977.2 L462.5,977.2 L462.5,977.3 L462.5,977.3 L462.5,977.4 L462.5,977.4 L462.5,977.5 L462.5,977.6 L462.5,977.6 L462.5,977.7 L462.5,977.8 L462.5,977.8 L462.5,977.9 L462.5,978.0 L462.5,978.1 L462.5,978.2 L462.5,978.2 L462.5,978.3 L462.6,978.4 L462.6,978.5 L462.6,978.6 L462.6,978.7 L462.6,978.8 L462.6,978.9 L462.6,979.0 L462.6,979.2 L462.6,979.3 L462.6,979.4 L462.6,979.5 L462.6,979.7 L462.6,979.8 L462.6,979.9 L462.7,980.1 L462.7,980.2 L462.7,980.4 L462.7,980.5 L462.7,980.7 L462.7,980.9 L462.7,981.0 L462.8,981.2 L462.8,981.4 L462.8,981.6 L462.8,981.8 L462.9,982.0 L462.9,982.2 L462.9,982.4 L463.0,982.7 L463.0,982.9 L463.0,983.2 L463.1,983.4 L463.1,983.7 L463.2,983.9 L463.2,984.2 L463.3,984.5 L463.3,984.8 L463.4,985.1 L463.5,985.4 L463.6,985.7 L463.7,986.1 L463.7,986.4 L463.8,986.8 L464.0,987.1 L464.1,987.5 L464.2,987.9 L464.3,988.3 L464.5,988.8 L464.6,989.2 L464.8,989.6 L465.0,990.1 L465.2,990.6 L465.4,991.1 L465.6,991.6 L465.9,992.1 L466.2,992.7 L466.5,993.2 L466.8,993.8 L467.1,994.4 L467.5,995.1 L467.9,995.7 L468.4,996.4 L468.8,997.1 L469.3,997.8 L469.9,998.5 L470.5,999.3 L471.1,1000.0 L471.8,1000.8 L472.6,1001.7 L473.4,1002.5 L474.2,1003.4 L475.2,1004.4 L476.2,1005.3 L477.3,1006.3 L478.5,1007.3 L479.8,1008.4 L481.2,1009.4 L482.7,1010.6 L484.3,1011.7 L486.1,1012.9 L488.0,1014.1 L490.0,1015.4 L492.2,1016.7 L494.6,1018.1 L497.2,1019.5 L500.0,1021.0 L503.0,1022.5 L506.3,1024.0 L509.8,1025.6 L513.6,1027.3 L517.7,1029.0 L522.1,1030.7 L527.0,1032.6" fill="none" stroke="#000000" stroke-width="2.9" stroke-linejoin="round"/>
<path d="M75.8,1241.8 L75.9,1227.2 L75.9,1227.1 L75.9,1227.0 L75.9,1226.9 L75.9,1226.8 L75.9,1226.7 L75.9,1226.6 L75.9,1226.5 L75.9,1226.3 L75.9,1226.2 L75.9,1226.1 L75.9,1226.0 L75.9,1225.9 L75.9,1225.8 L75.9,1225.7 L75.9,1225.6 L75.9,1225.5 L75.9,1225.4 L75.9,1225.3 L75.9,1225.2 L75.9,1225.0 L75.9,1224.9 L75.9,1224.8 L75.9,1224.7 L75.9,1224.6 L76.0,1224.5 L76.0,1224.4 L76.0,1224.2 L76.0,1224.1 L76.0,1224.0 L76.0,1223.9 L76.0,1223.8 L76.0,1223.6 L76.0,1223.5 L76.0,1223.4 L76.0,1223.3 L76.0,1223.1 L76.0,1223.0 L76.0,1222.9 L76.1,1222.7 L76.1,1222.6 L76.1,1222.5 L76.1,1222.4 L76.1,1222.2 L76.1,1222.1 L76.1,1222.0 L76.1,1221.8 L76.1,1221.7 L76.1,1221.5 L76.2,1221.4 L76.2,1221.3 L76.2,1221.1 L76.2,1221.0 L76.2,1220.8 L76.2,1220.7 L76.2,1220.5 L76.3,1220.4 L76.3,1220.3 L76.3,1220.1 L76.3,1220.0 L76.3,1219.8 L76.3,1219.7 L76.4,1219.5 L76.4,1219.3 L76.4,1219.2 L76.4,1219.0 L76.4,1218.9 L76.5,1218.7 L76.5,1218.6 L76.5,1218.4 L76.5,1218.2 L76.6,1218.1 L76.6,1217.9 L76.6,1217.7 L76.7,1217.6 L76.7,1217.4 L76.7,1217.2 L76.7,1217.1 L76.8,1216.9 L76.8,1216.7 L76.9,1216.5 L76.9,1216.4 L76.9,1216.2 L77.0,1216.0 L77.0,1215.8 L77.1,1215.6 L77.1,1215.4 L77.1,1215.3 L77.2,1215.1 L77.2,1214.9 L77.3,1214.7 L77.3,1214.5 L77.4,1214.3 L77.5,1214.1 L77.5,1213.9 L77.6,1213.7 L77.6,1213.5 L77.7,1213.3 L77.8,1213.1 L77.8,1212.9 L77.9,1212.7 L78.0,1212.4 L78.1,1212.2 L78.2,1212.0 L78.2,1211.8 L78.3,1211.6 L78.4,1211.4 L78.5,1211.1 L78.6,1210.9 L78.7,1210.7 L78.8,1210.4 L78.9,1210.2 L79.0,1210.0 L79.1,1209.7 L79.3,1209.5 L79.4,1209.3 L79.5,1209.0 L79.6,1208.8 L79.8,1208.5 L79.9,1208.3 L80.1,1208.0 L80.2,1207.8 L80.4,1207.5 L80.5,1207.2 L80.7,1207.0 L80.9,1206.7 L81.1,1206.4 L81.2,1206.1 L81.4,1205.9 L81.6,1205.6 L81.8,1205.3 L82.1,1205.0 L82.3,1204.7 L82.5,1204.4 L82.8,1204.1 L83.0,1203.8 L83.3,1203.5 L83.5,1203.2 L83.8,1202.9 L84.1,1202.6 L84.4,1202.3 L84.7,1202.0 L85.0,1201.6 L85.3,1201.3 L85.7,1201.0 L86.0,1200.6 L86.4,1200.3 L86.8,1200.0 L87.1,1199.6 L87.6,1199.3 L88.0,1198.9 L88.4,1198.6 L88.8,1198.2 L89.3,1197.8 L89.8,1197.5 L90.3,1197.1 L90.8,1196.7 L91.3,1196.3 L91.9,1195.9 L92.5,1195.5 L93.1,1195.1 L93.7,1194.7 L94.3,1194.3 L95.0,1193.9 L95.6,1193.5 L96.4,1193.1 L97.1,1192.7 L97.8,1192.3 L98.6,1191.8 L99.4,1191.4 L100.3,1191.0 L101.1,1190.5 L102.0,1190.1 L103.0,1189.6 L103.9,1189.2 L104.9,1188.7 L106.0,1188.3 L107.1,1187.8 L108.2,1187.3 L109.3,1186.9 L110.5,1186.4 L111.7,1185.9 L113.0,1185.4 L114.3,1185.0 L115.7,1184.5 L117.1,1184.0 L118.6,1183.5 L120.1,1183.0 L121.7,1182.5 L123.3,1182.0 L125.0,1181.5 L126.8,1181.0 L128.6,1180.5 L130.5,1180.1 L132.4,1179.6 L134.4,1179.1 L136.5,1178.6 L138.7,1178.1 L140.9,1177.6 L143.2,1177.1 L145.6,1176.6 L148.1,1176.1 L150.7,1175.6 L153.3,1175.1 L156.1,1174.6 L158.9,1174.1 L161.9,1173.6 L164.9,1173.1 L168.1,1172.6 L171.4,1172.1 L174.8,1171.7 L178.3,1171.2 L182.0,1170.7 L185.7,1170.2 L189.6,1169.7 L193.7,1169.3 L197.9,1168.8 L202.2,1168.3 L206.7,1167.8 L211.4,1167.4 L216.2,1166.9 L221.2,1166.4 L226.4,1165.9 L231.7,1165.5 L237.3,1165.0 L243.0,1164.5 L248.9,1164.1 L255.1,1163.6 L261.5,1163.1 L268.1,1162.7 L274.9,1162.2 L282.0,1161.7 L289.3,1161.3 L296.9,1160.8 L304.8,1160.3 L312.9,1159.8 L321.3,1159.4 L330.1,1158.9 L339.1,1158.4 L348.5,1157.9 L358.2,1157.4 L368.2,1156.9 L378.6,1156.4 L389.4,1155.9 L400.5,1155.4 L412.1,1154.9 L424.0,1154.4 L436.4,1153.9 L449.2,1153.4 L462.5,1152.9 L462.5,1176.1 L462.5,1176.2 L462.5,1176.2 L462.5,1176.2 L462.5,1176.2 L462.5,1176.2 L462.5,1176.2 L462.5,1176.3 L462.5,1176.3 L462.5,1176.3 L462.5,1176.3 L462.5,1176.3 L462.5,1176.3 L462.5,1176.3 L462.5,1176.3 L462.5,1176.3 L462.5,1176.3 L462.5,1176.3 L462.5,1176.4 L462.5,1176.4 L462.5,1176.4 L462.5,1176.4 L462.5,1176.4 L462.5,1176.4 L462.5,1176.4 L462.5,1176.4 L462.5,1176.5 L462.5,1176.5 L462.6,1176.5 L462.6,1176.5 L462.6,1176.5 L462.6,1176.5 L462.6,1176.6 L462.6,1176.6 L462.6,1176.6 L462.6,1176.6 L462.6,1176.6 L462.6,1176.7 L462.6,1176.7 L462.6,1176.7 L462.6,1176.7 L462.6,1176.8 L462.7,1176.8 L462.7,1176.8 L462.7,1176.8 L462.7,1176.9 L462.7,1176.9 L462.7,1176.9 L462.7,1177.0 L462.8,1177.0 L462.8,1177.0 L462.8,1177.1 L462.8,1177.1 L462.9,1177.2 L462.9,1177.2 L462.9,1177.2 L463.0,1177.3 L463.0,1177.3 L463.0,1177.4 L463.1,1177.4 L463.1,1177.5 L463.2,1177.6 L463.2,1177.6 L463.3,1177.7 L463.3,1177.7 L463.4,1177.8 L463.5,1177.9 L463.6,1177.9 L463.7,1178.0 L463.7,1178.1 L463.8,1178.2 L464.0,1178.3 L464.1,1178.3 L464.2,1178.4 L464.3,1178.5 L464.5,1178.6 L464.6,1178.7 L464.8,1178.8 L465.0,1178.9 L465.2,1179.1 L465.4,1179.2 L465.6,1179.3 L465.9,1179.4 L466.2,1179.5 L466.5,1179.7 L466.8,1179.8 L467.1,1180.0 L467.5,1180.1 L467.9,1180.3 L468.4,1180.5 L468.8,1180.6 L469.3,1180.8 L469.9,1181.0 L470.5,1181.2 L471.1,1181.4 L471.8,1181.6 L472.6,1181.8 L473.4,1182.1 L474.2,1182.3 L475.2,1182.5 L476.2,1182.8 L477.3,1183.1 L478.5,1183.3 L479.8,1183.6 L481.2,1183.9 L482.7,1184.2 L484.3,1184.5 L486.1,1184.9 L488.0,1185.2 L490.0,1185.6 L492.2,1186.0 L494.6,1186.3 L497.2,1186.8 L500.0,1187.2 L503.0,1187.6 L506.3,1188.1 L509.8,1188.5 L513.6,1189.0 L517.7,1189.5 L522.1,1190.1 L527.0,1190.6" fill="none" stroke="#1de6ea" stroke-width="2.9" stroke-linejoin="round"/>
<path d="M75.8,1241.8 L75.9,1222.9 L75.9,1222.9 L75.9,1222.9 L75.9,1222.8 L75.9,1222.8 L75.9,1222.7 L75.9,1222.7 L75.9,1222.7 L75.9,1222.6 L75.9,1222.6 L75.9,1222.5 L75.9,1222.5 L75.9,1222.5 L75.9,1222.4 L75.9,1222.4 L75.9,1222.3 L75.9,1222.3 L75.9,1222.2 L75.9,1222.2 L75.9,1222.1 L75.9,1222.1 L75.9,1222.0 L75.9,1222.0 L75.9,1222.0 L75.9,1221.9 L76.0,1221.9 L76.0,1221.8 L76.0,1221.8 L76.0,1221.7 L76.0,1221.7 L76.0,1221.6 L76.0,1221.5 L76.0,1221.5 L76.0,1221.4 L76.0,1221.4 L76.0,1221.3 L76.0,1221.3 L76.0,1221.2 L76.0,1221.2 L76.1,1221.1 L76.1,1221.0 L76.1,1221.0 L76.1,1220.9 L76.1,1220.9 L76.1,1220.8 L76.1,1220.7 L76.1,1220.7 L76.1,1220.6 L76.1,1220.5 L76.2,1220.5 L76.2,1220.4 L76.2,1220.3 L76.2,1220.3 L76.2,1220.2 L76.2,1220.1 L76.2,1220.1 L76.3,1220.0 L76.3,1219.9 L76.3,1219.9 L76.3,1219.8 L76.3,1219.7 L76.3,1219.6 L76.4,1219.6 L76.4,1219.5 L76.4,1219.4 L76.4,1219.3 L76.4,1219.2 L76.5,1219.2 L76.5,1219.1 L76.5,1219.0 L76.5,1218.9 L76.6,1218.8 L76.6,1218.7 L76.6,1218.6 L76.7,1218.5 L76.7,1218.5 L76.7,1218.4 L76.7,1218.3 L76.8,1218.2 L76.8,1218.1 L76.9,1218.0 L76.9,1217.9 L76.9,1217.8 L77.0,1217.7 L77.0,1217.6 L77.1,1217.5 L77.1,1217.4 L77.1,1217.2 L77.2,1217.1 L77.2,1217.0 L77.3,1216.9 L77.3,1216.8 L77.4,1216.7 L77.5,1216.6 L77.5,1216.4 L77.6,1216.3 L77.6,1216.2 L77.7,1216.1 L77.8,1215.9 L77.8,1215.8 L77.9,1215.7 L78.0,1215.5 L78.1,1215.4 L78.2,1215.3 L78.2,1215.1 L78.3,1215.0 L78.4,1214.8 L78.5,1214.7 L78.6,1214.5 L78.7,1214.4 L78.8,1214.2 L78.9,1214.1 L79.0,1213.9 L79.1,1213.8 L79.3,1213.6 L79.4,1213.4 L79.5,1213.3 L79.6,1213.1 L79.8,1212.9 L79.9,1212.7 L80.1,1212.5 L80.2,1212.3 L80.4,1212.2 L80.5,1212.0 L80.7,1211.8 L80.9,1211.6 L81.1,1211.4 L81.2,1211.2 L81.4,1210.9 L81.6,1210.7 L81.8,1210.5 L82.1,1210.3 L82.3,1210.1 L82.5,1209.8 L82.8,1209.6 L83.0,1209.3 L83.3,1209.1 L83.5,1208.9 L83.8,1208.6 L84.1,1208.3 L84.4,1208.1 L84.7,1207.8 L85.0,1207.5 L85.3,1207.3 L85.7,1207.0 L86.0,1206.7 L86.4,1206.4 L86.8,1206.1 L87.1,1205.8 L87.6,1205.5 L88.0,1205.2 L88.4,1204.8 L88.8,1204.5 L89.3,1204.2 L89.8,1203.8 L90.3,1203.5 L90.8,1203.1 L91.3,1202.8 L91.9,1202.4 L92.5,1202.0 L93.1,1201.7 L93.7,1201.3 L94.3,1200.9 L95.0,1200.5 L95.6,1200.1 L96.4,1199.7 L97.1,1199.3 L97.8,1198.8 L98.6,1198.4 L99.4,1198.0 L100.3,1197.5 L101.1,1197.1 L102.0,1196.6 L103.0,1196.1 L103.9,1195.7 L104.9,1195.2 L106.0,1194.7 L107.1,1194.2 L108.2,1193.7 L109.3,1193.2 L110.5,1192.7 L111.7,1192.2 L113.0,1191.6 L114.3,1191.1 L115.7,1190.6 L117.1,1190.0 L118.6,1189.5 L120.1,1188.9 L121.7,1188.4 L123.3,1187.8 L125.0,1187.2 L126.8,1186.7 L128.6,1186.1 L130.5,1185.5 L132.4,1184.9 L134.4,1184.4 L136.5,1183.8 L138.7,1183.2 L140.9,1182.6 L143.2,1182.0 L145.6,1181.4 L148.1,1180.8 L150.7,1180.2 L153.3,1179.7 L156.1,1179.1 L158.9,1178.5 L161.9,1177.9 L164.9,1177.3 L168.1,1176.7 L171.4,1176.2 L174.8,1175.6 L178.3,1175.0 L182.0,1174.4 L185.7,1173.9 L189.6,1173.3 L193.7,1172.8 L197.9,1172.2 L202.2,1171.7 L206.7,1171.1 L211.4,1170.6 L216.2,1170.1 L221.2,1169.6 L226.4,1169.0 L231.7,1168.5 L237.3,1168.0 L243.0,1167.5 L248.9,1167.0 L255.1,1166.5 L261.5,1166.1 L268.1,1165.6 L274.9,1165.1 L282.0,1164.6 L289.3,1164.2 L296.9,1163.7 L304.8,1163.2 L312.9,1162.8 L321.3,1162.3 L330.1,1161.9 L339.1,1161.4 L348.5,1160.9 L358.2,1160.5 L368.2,1160.0 L378.6,1159.6 L389.4,1159.1 L400.5,1158.6 L412.1,1158.2 L424.0,1157.7 L436.4,1157.2 L449.2,1156.8 L462.5,1156.3 L462.5,1176.9 L462.5,1177.0 L462.5,1177.0 L462.5,1177.0 L462.5,1177.0 L462.5,1177.0 L462.5,1177.0 L462.5,1177.0 L462.5,1177.1 L462.5,1177.1 L462.5,1177.1 L462.5,1177.1 L462.5,1177.1 L462.5,1177.1 L462.5,1177.1 L462.5,1177.1 L462.5,1177.1 L462.5,1177.1 L462.5,1177.1 L462.5,1177.1 L462.5,1177.1 L462.5,1177.1 L462.5,1177.2 L462.5,1177.2 L462.5,1177.2 L462.5,1177.2 L462.5,1177.2 L462.5,1177.2 L462.6,1177.2 L462.6,1177.2 L462.6,1177.2 L462.6,1177.3 L462.6,1177.3 L462.6,1177.3 L462.6,1177.3 L462.6,1177.3 L462.6,1177.3 L462.6,1177.4 L462.6,1177.4 L462.6,1177.4 L462.6,1177.4 L462.6,1177.4 L462.7,1177.5 L462.7,1177.5 L462.7,1177.5 L462.7,1177.5 L462.7,1177.5 L462.7,1177.6 L462.7,1177.6 L462.8,1177.6 L462.8,1177.7 L462.8,1177.7 L462.8,1177.7 L462.9,1177.7 L462.9,1177.8 L462.9,1177.8 L463.0,1177.8 L463.0,1177.9 L463.0,1177.9 L463.1,1178.0 L463.1,1178.0 L463.2,1178.0 L463.2,1178.1 L463.3,1178.1 L463.3,1178.2 L463.4,1178.2 L463.5,1178.3 L463.6,1178.3 L463.7,1178.4 L463.7,1178.5 L463.8,1178.5 L464.0,1178.6 L464.1,1178.7 L464.2,1178.7 L464.3,1178.8 L464.5,1178.9 L464.6,1179.0 L464.8,1179.0 L465.0,1179.1 L465.2,1179.2 L465.4,1179.3 L465.6,1179.4 L465.9,1179.5 L466.2,1179.6 L466.5,1179.7 L466.8,1179.8 L467.1,1179.9 L467.5,1180.0 L467.9,1180.2 L468.4,1180.3 L468.8,1180.4 L469.3,1180.6 L469.9,1180.7 L470.5,1180.9 L471.1,1181.0 L471.8,1181.2 L472.6,1181.3 L473.4,1181.5 L474.2,1181.7 L475.2,1181.9 L476.2,1182.1 L477.3,1182.3 L478.5,1182.5 L479.8,1182.7 L481.2,1183.0 L482.7,1183.2 L484.3,1183.4 L486.1,1183.7 L488.0,1184.0 L490.0,1184.2 L492.2,1184.5 L494.6,1184.8 L497.2,1185.1 L500.0,1185.5 L503.0,1185.8 L506.3,1186.2 L509.8,1186.5 L513.6,1186.9 L517.7,1187.3 L522.1,1187.7 L527.0,1188.1" fill="none" stroke="#ee1212" stroke-width="2.9" stroke-linejoin="round"/>
<path d="M75.8,1241.8 L75.9,1224.3 L75.9,1224.2 L75.9,1224.2 L75.9,1224.2 L75.9,1224.1 L75.9,1224.1 L75.9,1224.0 L75.9,1224.0 L75.9,1224.0 L75.9,1223.9 L75.9,1223.9 L75.9,1223.8 L75.9,1223.8 L75.9,1223.7 L75.9,1223.7 L75.9,1223.6 L75.9,1223.6 L75.9,1223.5 L75.9,1223.5 L75.9,1223.5 L75.9,1223.4 L75.9,1223.4 L75.9,1223.3 L75.9,1223.3 L75.9,1223.2 L76.0,1223.1 L76.0,1223.1 L76.0,1223.0 L76.0,1223.0 L76.0,1222.9 L76.0,1222.9 L76.0,1222.8 L76.0,1222.8 L76.0,1222.7 L76.0,1222.6 L76.0,1222.6 L76.0,1222.5 L76.0,1222.5 L76.0,1222.4 L76.1,1222.3 L76.1,1222.3 L76.1,1222.2 L76.1,1222.1 L76.1,1222.1 L76.1,1222.0 L76.1,1221.9 L76.1,1221.9 L76.1,1221.8 L76.1,1221.7 L76.2,1221.7 L76.2,1221.6 L76.2,1221.5 L76.2,1221.4 L76.2,1221.4 L76.2,1221.3 L76.2,1221.2 L76.3,1221.1 L76.3,1221.0 L76.3,1221.0 L76.3,1220.9 L76.3,1220.8 L76.3,1220.7 L76.4,1220.6 L76.4,1220.5 L76.4,1220.5 L76.4,1220.4 L76.4,1220.3 L76.5,1220.2 L76.5,1220.1 L76.5,1220.0 L76.5,1219.9 L76.6,1219.8 L76.6,1219.7 L76.6,1219.6 L76.7,1219.5 L76.7,1219.4 L76.7,1219.3 L76.7,1219.2 L76.8,1219.1 L76.8,1219.0 L76.9,1218.9 L76.9,1218.7 L76.9,1218.6 L77.0,1218.5 L77.0,1218.4 L77.1,1218.3 L77.1,1218.2 L77.1,1218.0 L77.2,1217.9 L77.2,1217.8 L77.3,1217.7 L77.3,1217.5 L77.4,1217.4 L77.5,1217.3 L77.5,1217.1 L77.6,1217.0 L77.6,1216.9 L77.7,1216.7 L77.8,1216.6 L77.8,1216.4 L77.9,1216.3 L78.0,1216.1 L78.1,1216.0 L78.2,1215.8 L78.2,1215.7 L78.3,1215.5 L78.4,1215.3 L78.5,1215.2 L78.6,1215.0 L78.7,1214.8 L78.8,1214.7 L78.9,1214.5 L79.0,1214.3 L79.1,1214.1 L79.3,1213.9 L79.4,1213.8 L79.5,1213.6 L79.6,1213.4 L79.8,1213.2 L79.9,1213.0 L80.1,1212.8 L80.2,1212.6 L80.4,1212.4 L80.5,1212.2 L80.7,1211.9 L80.9,1211.7 L81.1,1211.5 L81.2,1211.3 L81.4,1211.1 L81.6,1210.8 L81.8,1210.6 L82.1,1210.4 L82.3,1210.1 L82.5,1209.9 L82.8,1209.6 L83.0,1209.4 L83.3,1209.1 L83.5,1208.8 L83.8,1208.6 L84.1,1208.3 L84.4,1208.0 L84.7,1207.7 L85.0,1207.4 L85.3,1207.2 L85.7,1206.9 L86.0,1206.6 L86.4,1206.3 L86.8,1206.0 L87.1,1205.6 L87.6,1205.3 L88.0,1205.0 L88.4,1204.7 L88.8,1204.3 L89.3,1204.0 L89.8,1203.6 L90.3,1203.3 L90.8,1202.9 L91.3,1202.6 L91.9,1202.2 L92.5,1201.8 L93.1,1201.5 L93.7,1201.1 L94.3,1200.7 L95.0,1200.3 L95.6,1199.9 L96.4,1199.5 L97.1,1199.1 L97.8,1198.6 L98.6,1198.2 L99.4,1197.8 L100.3,1197.4 L101.1,1196.9 L102.0,1196.5 L103.0,1196.0 L103.9,1195.6 L104.9,1195.1 L106.0,1194.6 L107.1,1194.1 L108.2,1193.6 L109.3,1193.2 L110.5,1192.7 L111.7,1192.2 L113.0,1191.7 L114.3,1191.1 L115.7,1190.6 L117.1,1190.1 L118.6,1189.6 L120.1,1189.0 L121.7,1188.5 L123.3,1188.0 L125.0,1187.4 L126.8,1186.9 L128.6,1186.3 L130.5,1185.7 L132.4,1185.2 L134.4,1184.6 L136.5,1184.0 L138.7,1183.4 L140.9,1182.9 L143.2,1182.3 L145.6,1181.7 L148.1,1181.1 L150.7,1180.5 L153.3,1179.9 L156.1,1179.3 L158.9,1178.7 L161.9,1178.1 L164.9,1177.5 L168.1,1176.8 L171.4,1176.2 L174.8,1175.6 L178.3,1175.0 L182.0,1174.4 L185.7,1173.7 L189.6,1173.1 L193.7,1172.5 L197.9,1171.8 L202.2,1171.2 L206.7,1170.6 L211.4,1169.9 L216.2,1169.3 L221.2,1168.6 L226.4,1168.0 L231.7,1167.3 L237.3,1166.6 L243.0,1166.0 L248.9,1165.3 L255.1,1164.6 L261.5,1163.9 L268.1,1163.2 L274.9,1162.6 L282.0,1161.9 L289.3,1161.1 L296.9,1160.4 L304.8,1159.7 L312.9,1159.0 L321.3,1158.3 L330.1,1157.5 L339.1,1156.8 L348.5,1156.0 L358.2,1155.2 L368.2,1154.5 L378.6,1153.7 L389.4,1152.9 L400.5,1152.1 L412.1,1151.3 L424.0,1150.5 L436.4,1149.6 L449.2,1148.8 L462.5,1147.9 L462.5,1173.2 L462.5,1173.3 L462.5,1173.3 L462.5,1173.3 L462.5,1173.3 L462.5,1173.3 L462.5,1173.3 L462.5,1173.3 L462.5,1173.3 L462.5,1173.4 L462.5,1173.4 L462.5,1173.4 L462.5,1173.4 L462.5,1173.4 L462.5,1173.4 L462.5,1173.4 L462.5,1173.4 L462.5,1173.4 L462.5,1173.4 L462.5,1173.4 L462.5,1173.5 L462.5,1173.5 L462.5,1173.5 L462.5,1173.5 L462.5,1173.5 L462.5,1173.5 L462.5,1173.5 L462.5,1173.5 L462.6,1173.6 L462.6,1173.6 L462.6,1173.6 L462.6,1173.6 L462.6,1173.6 L462.6,1173.6 L462.6,1173.7 L462.6,1173.7 L462.6,1173.7 L462.6,1173.7 L462.6,1173.8 L462.6,1173.8 L462.6,1173.8 L462.6,1173.8 L462.7,1173.9 L462.7,1173.9 L462.7,1173.9 L462.7,1173.9 L462.7,1174.0 L462.7,1174.0 L462.7,1174.0 L462.8,1174.1 L462.8,1174.1 L462.8,1174.1 L462.8,1174.2 L462.9,1174.2 L462.9,1174.3 L462.9,1174.3 L463.0,1174.3 L463.0,1174.4 L463.0,1174.4 L463.1,1174.5 L463.1,1174.5 L463.2,1174.6 L463.2,1174.7 L463.3,1174.7 L463.3,1174.8 L463.4,1174.8 L463.5,1174.9 L463.6,1175.0 L463.7,1175.1 L463.7,1175.1 L463.8,1175.2 L464.0,1175.3 L464.1,1175.4 L464.2,1175.5 L464.3,1175.5 L464.5,1175.6 L464.6,1175.7 L464.8,1175.8 L465.0,1175.9 L465.2,1176.1 L465.4,1176.2 L465.6,1176.3 L465.9,1176.4 L466.2,1176.5 L466.5,1176.7 L466.8,1176.8 L467.1,1177.0 L467.5,1177.1 L467.9,1177.3 L468.4,1177.4 L468.8,1177.6 L469.3,1177.8 L469.9,1177.9 L470.5,1178.1 L471.1,1178.3 L471.8,1178.5 L472.6,1178.7 L473.4,1179.0 L474.2,1179.2 L475.2,1179.4 L476.2,1179.7 L477.3,1179.9 L478.5,1180.2 L479.8,1180.5 L481.2,1180.8 L482.7,1181.1 L484.3,1181.4 L486.1,1181.7 L488.0,1182.0 L490.0,1182.4 L492.2,1182.8 L494.6,1183.1 L497.2,1183.5 L500.0,1183.9 L503.0,1184.4 L506.3,1184.8 L509.8,1185.3 L513.6,1185.8 L517.7,1186.3 L522.1,1186.8 L527.0,1187.3" fill="none" stroke="#f28018" stroke-width="2.9" stroke-linejoin="round"/>
<path d="M75.8,1241.8 L75.9,1214.0 L75.9,1214.0 L75.9,1214.0 L75.9,1213.9 L75.9,1213.9 L75.9,1213.9 L75.9,1213.8 L75.9,1213.8 L75.9,1213.8 L75.9,1213.7 L75.9,1213.7 L75.9,1213.7 L75.9,1213.6 L75.9,1213.6 L75.9,1213.6 L75.9,1213.5 L75.9,1213.5 L75.9,1213.5 L75.9,1213.4 L75.9,1213.4 L75.9,1213.4 L75.9,1213.3 L75.9,1213.3 L75.9,1213.2 L75.9,1213.2 L76.0,1213.2 L76.0,1213.1 L76.0,1213.1 L76.0,1213.0 L76.0,1213.0 L76.0,1213.0 L76.0,1212.9 L76.0,1212.9 L76.0,1212.8 L76.0,1212.8 L76.0,1212.7 L76.0,1212.7 L76.0,1212.7 L76.0,1212.6 L76.1,1212.6 L76.1,1212.5 L76.1,1212.5 L76.1,1212.4 L76.1,1212.4 L76.1,1212.3 L76.1,1212.3 L76.1,1212.2 L76.1,1212.1 L76.1,1212.1 L76.2,1212.0 L76.2,1212.0 L76.2,1211.9 L76.2,1211.9 L76.2,1211.8 L76.2,1211.7 L76.2,1211.7 L76.3,1211.6 L76.3,1211.6 L76.3,1211.5 L76.3,1211.4 L76.3,1211.4 L76.3,1211.3 L76.4,1211.2 L76.4,1211.2 L76.4,1211.1 L76.4,1211.0 L76.4,1210.9 L76.5,1210.9 L76.5,1210.8 L76.5,1210.7 L76.5,1210.6 L76.6,1210.6 L76.6,1210.5 L76.6,1210.4 L76.7,1210.3 L76.7,1210.2 L76.7,1210.1 L76.7,1210.0 L76.8,1210.0 L76.8,1209.9 L76.9,1209.8 L76.9,1209.7 L76.9,1209.6 L77.0,1209.5 L77.0,1209.4 L77.1,1209.3 L77.1,1209.2 L77.1,1209.0 L77.2,1208.9 L77.2,1208.8 L77.3,1208.7 L77.3,1208.6 L77.4,1208.5 L77.5,1208.4 L77.5,1208.2 L77.6,1208.1 L77.6,1208.0 L77.7,1207.8 L77.8,1207.7 L77.8,1207.6 L77.9,1207.4 L78.0,1207.3 L78.1,1207.1 L78.2,1207.0 L78.2,1206.8 L78.3,1206.7 L78.4,1206.5 L78.5,1206.3 L78.6,1206.2 L78.7,1206.0 L78.8,1205.8 L78.9,1205.6 L79.0,1205.4 L79.1,1205.3 L79.3,1205.1 L79.4,1204.9 L79.5,1204.7 L79.6,1204.4 L79.8,1204.2 L79.9,1204.0 L80.1,1203.8 L80.2,1203.6 L80.4,1203.3 L80.5,1203.1 L80.7,1202.8 L80.9,1202.6 L81.1,1202.3 L81.2,1202.1 L81.4,1201.8 L81.6,1201.5 L81.8,1201.2 L82.1,1200.9 L82.3,1200.6 L82.5,1200.3 L82.8,1200.0 L83.0,1199.7 L83.3,1199.4 L83.5,1199.0 L83.8,1198.7 L84.1,1198.3 L84.4,1197.9 L84.7,1197.6 L85.0,1197.2 L85.3,1196.8 L85.7,1196.4 L86.0,1196.0 L86.4,1195.6 L86.8,1195.1 L87.1,1194.7 L87.6,1194.2 L88.0,1193.8 L88.4,1193.3 L88.8,1192.8 L89.3,1192.3 L89.8,1191.8 L90.3,1191.2 L90.8,1190.7 L91.3,1190.1 L91.9,1189.6 L92.5,1189.0 L93.1,1188.4 L93.7,1187.8 L94.3,1187.2 L95.0,1186.5 L95.6,1185.9 L96.4,1185.2 L97.1,1184.6 L97.8,1183.9 L98.6,1183.2 L99.4,1182.4 L100.3,1181.7 L101.1,1180.9 L102.0,1180.2 L103.0,1179.4 L103.9,1178.6 L104.9,1177.8 L106.0,1176.9 L107.1,1176.1 L108.2,1175.2 L109.3,1174.3 L110.5,1173.4 L111.7,1172.5 L113.0,1171.6 L114.3,1170.7 L115.7,1169.7 L117.1,1168.8 L118.6,1167.8 L120.1,1166.8 L121.7,1165.8 L123.3,1164.7 L125.0,1163.7 L126.8,1162.7 L128.6,1161.6 L130.5,1160.5 L132.4,1159.5 L134.4,1158.4 L136.5,1157.3 L138.7,1156.2 L140.9,1155.1 L143.2,1154.0 L145.6,1152.8 L148.1,1151.7 L150.7,1150.6 L153.3,1149.5 L156.1,1148.3 L158.9,1147.2 L161.9,1146.1 L164.9,1145.0 L168.1,1143.9 L171.4,1142.8 L174.8,1141.7 L178.3,1140.6 L182.0,1139.5 L185.7,1138.4 L189.6,1137.4 L193.7,1136.3 L197.9,1135.3 L202.2,1134.3 L206.7,1133.3 L211.4,1132.3 L216.2,1131.3 L221.2,1130.4 L226.4,1129.5 L231.7,1128.6 L237.3,1127.7 L243.0,1126.9 L248.9,1126.0 L255.1,1125.2 L261.5,1124.5 L268.1,1123.7 L274.9,1123.0 L282.0,1122.3 L289.3,1121.6 L296.9,1120.9 L304.8,1120.3 L312.9,1119.7 L321.3,1119.1 L330.1,1118.5 L339.1,1118.0 L348.5,1117.5 L358.2,1116.9 L368.2,1116.5 L378.6,1116.0 L389.4,1115.5 L400.5,1115.1 L412.1,1114.6 L424.0,1114.2 L436.4,1113.8 L449.2,1113.4 L462.5,1113.0 L462.5,1134.5 L462.5,1134.6 L462.5,1134.6 L462.5,1134.6 L462.5,1134.6 L462.5,1134.6 L462.5,1134.6 L462.5,1134.6 L462.5,1134.6 L462.5,1134.6 L462.5,1134.6 L462.5,1134.7 L462.5,1134.7 L462.5,1134.7 L462.5,1134.7 L462.5,1134.7 L462.5,1134.7 L462.5,1134.7 L462.5,1134.7 L462.5,1134.7 L462.5,1134.7 L462.5,1134.8 L462.5,1134.8 L462.5,1134.8 L462.5,1134.8 L462.5,1134.8 L462.5,1134.8 L462.5,1134.8 L462.6,1134.9 L462.6,1134.9 L462.6,1134.9 L462.6,1134.9 L462.6,1134.9 L462.6,1134.9 L462.6,1135.0 L462.6,1135.0 L462.6,1135.0 L462.6,1135.0 L462.6,1135.1 L462.6,1135.1 L462.6,1135.1 L462.6,1135.1 L462.7,1135.2 L462.7,1135.2 L462.7,1135.2 L462.7,1135.3 L462.7,1135.3 L462.7,1135.3 L462.7,1135.4 L462.8,1135.4 L462.8,1135.4 L462.8,1135.5 L462.8,1135.5 L462.9,1135.6 L462.9,1135.6 L462.9,1135.7 L463.0,1135.7 L463.0,1135.8 L463.0,1135.8 L463.1,1135.9 L463.1,1136.0 L463.2,1136.0 L463.2,1136.1 L463.3,1136.2 L463.3,1136.2 L463.4,1136.3 L463.5,1136.4 L463.6,1136.5 L463.7,1136.6 L463.7,1136.7 L463.8,1136.7 L464.0,1136.8 L464.1,1137.0 L464.2,1137.1 L464.3,1137.2 L464.5,1137.3 L464.6,1137.4 L464.8,1137.5 L465.0,1137.7 L465.2,1137.8 L465.4,1138.0 L465.6,1138.1 L465.9,1138.3 L466.2,1138.4 L466.5,1138.6 L466.8,1138.8 L467.1,1139.0 L467.5,1139.2 L467.9,1139.4 L468.4,1139.6 L468.8,1139.8 L469.3,1140.0 L469.9,1140.3 L470.5,1140.5 L471.1,1140.8 L471.8,1141.1 L472.6,1141.4 L473.4,1141.7 L474.2,1142.0 L475.2,1142.3 L476.2,1142.6 L477.3,1143.0 L478.5,1143.4 L479.8,1143.8 L481.2,1144.2 L482.7,1144.6 L484.3,1145.0 L486.1,1145.5 L488.0,1146.0 L490.0,1146.5 L492.2,1147.0 L494.6,1147.5 L497.2,1148.1 L500.0,1148.7 L503.0,1149.3 L506.3,1149.9 L509.8,1150.6 L513.6,1151.3 L517.7,1152.0 L522.1,1152.8 L527.0,1153.6" fill="none" stroke="#1010d0" stroke-width="2.9" stroke-linejoin="round"/>
<path d="M75.8,1241.8 L75.9,1225.7 L75.9,1225.6 L75.9,1225.6 L75.9,1225.5 L75.9,1225.4 L75.9,1225.3 L75.9,1225.2 L75.9,1225.2 L75.9,1225.1 L75.9,1225.0 L75.9,1224.9 L75.9,1224.8 L75.9,1224.7 L75.9,1224.7 L75.9,1224.6 L75.9,1224.5 L75.9,1224.4 L75.9,1224.3 L75.9,1224.2 L75.9,1224.2 L75.9,1224.1 L75.9,1224.0 L75.9,1223.9 L75.9,1223.8 L75.9,1223.7 L76.0,1223.6 L76.0,1223.5 L76.0,1223.4 L76.0,1223.4 L76.0,1223.3 L76.0,1223.2 L76.0,1223.1 L76.0,1223.0 L76.0,1222.9 L76.0,1222.8 L76.0,1222.7 L76.0,1222.6 L76.0,1222.5 L76.0,1222.4 L76.1,1222.3 L76.1,1222.2 L76.1,1222.1 L76.1,1222.0 L76.1,1221.9 L76.1,1221.8 L76.1,1221.7 L76.1,1221.6 L76.1,1221.5 L76.1,1221.4 L76.2,1221.3 L76.2,1221.2 L76.2,1221.1 L76.2,1221.0 L76.2,1220.9 L76.2,1220.8 L76.2,1220.7 L76.3,1220.6 L76.3,1220.5 L76.3,1220.4 L76.3,1220.3 L76.3,1220.2 L76.3,1220.0 L76.4,1219.9 L76.4,1219.8 L76.4,1219.7 L76.4,1219.6 L76.4,1219.5 L76.5,1219.4 L76.5,1219.2 L76.5,1219.1 L76.5,1219.0 L76.6,1218.9 L76.6,1218.8 L76.6,1218.6 L76.7,1218.5 L76.7,1218.4 L76.7,1218.3 L76.7,1218.1 L76.8,1218.0 L76.8,1217.9 L76.9,1217.8 L76.9,1217.6 L76.9,1217.5 L77.0,1217.4 L77.0,1217.2 L77.1,1217.1 L77.1,1217.0 L77.1,1216.8 L77.2,1216.7 L77.2,1216.5 L77.3,1216.4 L77.3,1216.3 L77.4,1216.1 L77.5,1216.0 L77.5,1215.8 L77.6,1215.7 L77.6,1215.5 L77.7,1215.4 L77.8,1215.2 L77.8,1215.1 L77.9,1214.9 L78.0,1214.7 L78.1,1214.6 L78.2,1214.4 L78.2,1214.2 L78.3,1214.1 L78.4,1213.9 L78.5,1213.7 L78.6,1213.6 L78.7,1213.4 L78.8,1213.2 L78.9,1213.0 L79.0,1212.9 L79.1,1212.7 L79.3,1212.5 L79.4,1212.3 L79.5,1212.1 L79.6,1211.9 L79.8,1211.7 L79.9,1211.5 L80.1,1211.3 L80.2,1211.1 L80.4,1210.9 L80.5,1210.7 L80.7,1210.5 L80.9,1210.3 L81.1,1210.1 L81.2,1209.8 L81.4,1209.6 L81.6,1209.4 L81.8,1209.2 L82.1,1208.9 L82.3,1208.7 L82.5,1208.4 L82.8,1208.2 L83.0,1207.9 L83.3,1207.7 L83.5,1207.4 L83.8,1207.2 L84.1,1206.9 L84.4,1206.6 L84.7,1206.4 L85.0,1206.1 L85.3,1205.8 L85.7,1205.5 L86.0,1205.2 L86.4,1204.9 L86.8,1204.6 L87.1,1204.3 L87.6,1204.0 L88.0,1203.7 L88.4,1203.4 L88.8,1203.0 L89.3,1202.7 L89.8,1202.4 L90.3,1202.0 L90.8,1201.7 L91.3,1201.3 L91.9,1201.0 L92.5,1200.6 L93.1,1200.2 L93.7,1199.8 L94.3,1199.5 L95.0,1199.1 L95.6,1198.7 L96.4,1198.3 L97.1,1197.9 L97.8,1197.4 L98.6,1197.0 L99.4,1196.6 L100.3,1196.2 L101.1,1195.7 L102.0,1195.3 L103.0,1194.8 L103.9,1194.4 L104.9,1193.9 L106.0,1193.4 L107.1,1193.0 L108.2,1192.5 L109.3,1192.0 L110.5,1191.5 L111.7,1191.0 L113.0,1190.5 L114.3,1190.0 L115.7,1189.5 L117.1,1189.0 L118.6,1188.5 L120.1,1188.0 L121.7,1187.4 L123.3,1186.9 L125.0,1186.4 L126.8,1185.9 L128.6,1185.3 L130.5,1184.8 L132.4,1184.3 L134.4,1183.7 L136.5,1183.2 L138.7,1182.7 L140.9,1182.1 L143.2,1181.6 L145.6,1181.0 L148.1,1180.5 L150.7,1180.0 L153.3,1179.5 L156.1,1178.9 L158.9,1178.4 L161.9,1177.9 L164.9,1177.4 L168.1,1176.9 L171.4,1176.4 L174.8,1175.9 L178.3,1175.4 L182.0,1174.9 L185.7,1174.5 L189.6,1174.0 L193.7,1173.5 L197.9,1173.1 L202.2,1172.6 L206.7,1172.2 L211.4,1171.8 L216.2,1171.4 L221.2,1171.0 L226.4,1170.6 L231.7,1170.2 L237.3,1169.8 L243.0,1169.4 L248.9,1169.1 L255.1,1168.7 L261.5,1168.4 L268.1,1168.0 L274.9,1167.7 L282.0,1167.4 L289.3,1167.1 L296.9,1166.8 L304.8,1166.5 L312.9,1166.2 L321.3,1165.9 L330.1,1165.6 L339.1,1165.3 L348.5,1165.0 L358.2,1164.8 L368.2,1164.5 L378.6,1164.2 L389.4,1164.0 L400.5,1163.7 L412.1,1163.4 L424.0,1163.2 L436.4,1162.9 L449.2,1162.6 L462.5,1162.4 L464.4,1181.5 L464.4,1181.5 L464.4,1181.5 L464.4,1181.5 L464.4,1181.6 L464.4,1181.6 L464.4,1181.6 L464.4,1181.6 L464.4,1181.6 L464.4,1181.6 L464.4,1181.6 L464.4,1181.6 L464.4,1181.6 L464.4,1181.6 L464.5,1181.6 L464.5,1181.6 L464.5,1181.6 L464.5,1181.6 L464.5,1181.6 L464.5,1181.6 L464.5,1181.6 L464.5,1181.6 L464.5,1181.6 L464.5,1181.7 L464.5,1181.7 L464.5,1181.7 L464.5,1181.7 L464.5,1181.7 L464.5,1181.7 L464.5,1181.7 L464.5,1181.7 L464.5,1181.7 L464.5,1181.7 L464.5,1181.8 L464.5,1181.8 L464.5,1181.8 L464.5,1181.8 L464.5,1181.8 L464.5,1181.8 L464.6,1181.8 L464.6,1181.9 L464.6,1181.9 L464.6,1181.9 L464.6,1181.9 L464.6,1181.9 L464.6,1182.0 L464.6,1182.0 L464.7,1182.0 L464.7,1182.0 L464.7,1182.0 L464.7,1182.1 L464.7,1182.1 L464.8,1182.1 L464.8,1182.2 L464.8,1182.2 L464.9,1182.2 L464.9,1182.3 L464.9,1182.3 L465.0,1182.3 L465.0,1182.4 L465.1,1182.4 L465.1,1182.5 L465.2,1182.5 L465.2,1182.6 L465.3,1182.6 L465.3,1182.7 L465.4,1182.7 L465.5,1182.8 L465.6,1182.9 L465.7,1182.9 L465.8,1183.0 L465.9,1183.1 L466.0,1183.1 L466.1,1183.2 L466.3,1183.3 L466.4,1183.4 L466.6,1183.5 L466.7,1183.6 L466.9,1183.7 L467.1,1183.8 L467.3,1183.9 L467.6,1184.0 L467.8,1184.1 L468.1,1184.2 L468.4,1184.4 L468.7,1184.5 L469.1,1184.7 L469.4,1184.8 L469.8,1185.0 L470.3,1185.1 L470.8,1185.3 L471.3,1185.5 L471.8,1185.7 L472.4,1185.9 L473.0,1186.1 L473.7,1186.3 L474.5,1186.5 L475.3,1186.8 L476.2,1187.0 L477.1,1187.3 L478.1,1187.6 L479.2,1187.8 L480.4,1188.2 L481.7,1188.5 L483.1,1188.8 L484.6,1189.1 L486.2,1189.5 L488.0,1189.9 L489.9,1190.3 L491.9,1190.7 L494.2,1191.2 L496.5,1191.6 L499.1,1192.1 L501.9,1192.6 L504.9,1193.1 L508.2,1193.7 L511.7,1194.3 L515.5,1194.9 L519.6,1195.5" fill="none" stroke="#000000" stroke-width="2.9" stroke-linejoin="round" stroke-dasharray="14 6 3 6"/>
</g>
<defs><clipPath id="ca"><rect x="77" y="10" width="458.6" height="337"/></clipPath><clipPath id="cb"><rect x="89.6" y="469" width="446.8" height="327.6"/></clipPath><clipPath id="cc"><rect x="75.8" y="909" width="451.1" height="332.8"/></clipPath></defs>
<rect x="77.0" y="10.0" width="458.6" height="337.0" fill="none" stroke="#262626" stroke-width="1.5"/>
<text transform="translate(65.30,353.00) scale(0.970,1.070)" font-size="19.20" text-anchor="end">0.0</text>
<text transform="translate(65.30,259.40) scale(0.970,1.070)" font-size="19.20" text-anchor="end">0.5</text>
<text transform="translate(65.30,165.80) scale(0.970,1.070)" font-size="19.20" text-anchor="end">1.0</text>
<text transform="translate(65.30,72.20) scale(0.970,1.070)" font-size="19.20" text-anchor="end">1.5</text>
<text transform="translate(119.99,374.50) scale(0.970,1.070)" font-size="19.20" text-anchor="middle">40</text>
<text transform="translate(177.31,374.50) scale(0.970,1.070)" font-size="19.20" text-anchor="middle">60</text>
<text transform="translate(234.63,374.50) scale(0.970,1.070)" font-size="19.20" text-anchor="middle">80</text>
<text transform="translate(291.95,374.50) scale(0.970,1.070)" font-size="19.20" text-anchor="middle">100</text>
<text transform="translate(349.27,374.50) scale(0.970,1.070)" font-size="19.20" text-anchor="middle">120</text>
<text transform="translate(406.59,374.50) scale(0.970,1.070)" font-size="19.20" text-anchor="middle">140</text>
<text transform="translate(463.91,374.50) scale(0.970,1.070)" font-size="19.20" text-anchor="middle">160</text>
<text transform="translate(521.23,374.50) scale(0.970,1.070)" font-size="19.20" text-anchor="middle">180</text>
<path d="M77,347.0 h-7 M77,253.4 h-7 M77,159.8 h-7 M77,66.2 h-7 M77,300.2 h-4 M77,206.6 h-4 M77,113.0 h-4 M77,19.4 h-4 M120.0,347 v7 M177.3,347 v7 M234.6,347 v7 M292.0,347 v7 M349.3,347 v7 M406.6,347 v7 M463.9,347 v7 M521.2,347 v7 M91.3,347 v4 M148.7,347 v4 M206.0,347 v4 M263.3,347 v4 M320.6,347 v4 M377.9,347 v4 M435.2,347 v4 M492.6,347 v4" stroke="#262626" stroke-width="1.4" fill="none"/>
<text transform="translate(306.75,407.70) scale(1.000,1.000)" font-size="19.30" text-anchor="middle">Temperature (°C)</text>
<text transform="translate(24.6,192.2) rotate(-90)" font-size="19.4" text-anchor="middle">Tan Delta</text>
<path d="M429.2,28.5 H471.7" stroke="#000000" stroke-width="2.9"/>
<text x="476.3" y="35.0" font-size="18.0">V1AL</text>
<path d="M429.2,50.9 H471.7" stroke="#1de6ea" stroke-width="2.9"/>
<text x="476.3" y="57.3" font-size="18.0">V1AR</text>
<path d="M429.2,73.2 H471.7" stroke="#ee1212" stroke-width="2.9"/>
<text x="476.3" y="79.7" font-size="18.0">V2S</text>
<path d="M429.2,95.6 H471.7" stroke="#f28018" stroke-width="2.9"/>
<text x="476.3" y="102.1" font-size="18.0">V2L</text>
<path d="M429.2,117.9 H471.7" stroke="#1010d0" stroke-width="2.9"/>
<text x="476.3" y="124.4" font-size="18.0">VMBA</text>
<path d="M429.2,140.3 H471.7" stroke="#000" stroke-width="2.9" stroke-dasharray="14 6 3 6 14"/>
<text x="476.3" y="146.8" font-size="18.0">E</text>
<text x="272.20" y="441.00" font-size="23" text-anchor="middle" font-family="Liberation Serif, serif">(<tspan font-weight="bold">a</tspan>)</text>
<rect x="89.6" y="469.0" width="446.9" height="327.6" fill="none" stroke="#262626" stroke-width="1.5"/>
<text transform="translate(77.30,802.30) scale(0.970,1.070)" font-size="19.20" text-anchor="end">1</text>
<text transform="translate(77.30,720.40) scale(0.970,1.070)" font-size="19.20" text-anchor="end">10</text>
<text transform="translate(77.30,638.50) scale(0.970,1.070)" font-size="19.20" text-anchor="end">100</text>
<text transform="translate(77.30,556.60) scale(0.970,1.070)" font-size="19.20" text-anchor="end">1000</text>
<text transform="translate(80.40,474.70) scale(0.970,1.070)" font-size="19.20" text-anchor="end">10,000</text>
<text transform="translate(134.28,822.40) scale(0.970,1.070)" font-size="19.20" text-anchor="middle">40</text>
<text transform="translate(193.87,822.40) scale(0.970,1.070)" font-size="19.20" text-anchor="middle">60</text>
<text transform="translate(253.44,822.40) scale(0.970,1.070)" font-size="19.20" text-anchor="middle">80</text>
<text transform="translate(313.02,822.40) scale(0.970,1.070)" font-size="19.20" text-anchor="middle">100</text>
<text transform="translate(372.61,822.40) scale(0.970,1.070)" font-size="19.20" text-anchor="middle">120</text>
<text transform="translate(432.19,822.40) scale(0.970,1.070)" font-size="19.20" text-anchor="middle">140</text>
<text transform="translate(491.76,822.40) scale(0.970,1.070)" font-size="19.20" text-anchor="middle">160</text>
<path d="M89.6,796.6 h-7 M89.6,771.9 h-3.5 M89.6,757.5 h-3.5 M89.6,747.3 h-3.5 M89.6,739.4 h-3.5 M89.6,732.9 h-3.5 M89.6,727.4 h-3.5 M89.6,722.6 h-3.5 M89.6,718.4 h-3.5 M89.6,714.7 h-7 M89.6,690.0 h-3.5 M89.6,675.6 h-3.5 M89.6,665.4 h-3.5 M89.6,657.5 h-3.5 M89.6,651.0 h-3.5 M89.6,645.5 h-3.5 M89.6,640.7 h-3.5 M89.6,636.5 h-3.5 M89.6,632.8 h-7 M89.6,608.1 h-3.5 M89.6,593.7 h-3.5 M89.6,583.5 h-3.5 M89.6,575.6 h-3.5 M89.6,569.1 h-3.5 M89.6,563.6 h-3.5 M89.6,558.8 h-3.5 M89.6,554.6 h-3.5 M89.6,550.9 h-7 M89.6,526.2 h-3.5 M89.6,511.8 h-3.5 M89.6,501.6 h-3.5 M89.6,493.7 h-3.5 M89.6,487.2 h-3.5 M89.6,481.7 h-3.5 M89.6,476.9 h-3.5 M89.6,472.7 h-3.5 M89.6,469.0 h-7 M134.3,796.6 v7 M193.9,796.6 v7 M253.4,796.6 v7 M313.0,796.6 v7 M372.6,796.6 v7 M432.2,796.6 v7 M491.8,796.6 v7 M104.5,796.6 v4 M164.1,796.6 v4 M223.7,796.6 v4 M283.2,796.6 v4 M342.8,796.6 v4 M402.4,796.6 v4 M462.0,796.6 v4 M521.6,796.6 v4" stroke="#262626" stroke-width="1.4" fill="none"/>
<text transform="translate(313.85,855.30) scale(1.000,1.000)" font-size="19.10" text-anchor="middle">Temperature (°C)</text>
<text transform="translate(28.6,631.1) rotate(-90)" font-size="19.1" text-anchor="middle">Storage Modulus (MPa)</text>
<path d="M435.9,482.0 H478.0" stroke="#000000" stroke-width="2.9"/>
<text x="481.4" y="488.5" font-size="18.0">V1AL</text>
<path d="M435.9,503.8 H478.0" stroke="#1de6ea" stroke-width="2.9"/>
<text x="481.4" y="510.3" font-size="18.0">V1AR</text>
<path d="M435.9,525.6 H478.0" stroke="#ee1212" stroke-width="2.9"/>
<text x="481.4" y="532.1" font-size="18.0">V2S</text>
<path d="M435.9,547.4 H478.0" stroke="#f28018" stroke-width="2.9"/>
<text x="481.4" y="553.9" font-size="18.0">V2L</text>
<path d="M435.9,569.2 H478.0" stroke="#1010d0" stroke-width="2.9"/>
<text x="481.4" y="575.7" font-size="18.0">VMBA</text>
<path d="M435.9,591.0 H478.0" stroke="#000" stroke-width="2.9" stroke-dasharray="14 6 3 6 14"/>
<text x="481.4" y="597.5" font-size="18.0">E</text>
<text x="272.75" y="886.50" font-size="23" text-anchor="middle" font-family="Liberation Serif, serif">(<tspan font-weight="bold">b</tspan>)</text>
<rect x="75.8" y="909.0" width="451.2" height="332.8" fill="none" stroke="#262626" stroke-width="1.5"/>
<text transform="translate(64.70,1247.60) scale(0.970,1.070)" font-size="19.20" text-anchor="end">0.0</text>
<text transform="translate(64.70,1164.40) scale(0.970,1.070)" font-size="19.20" text-anchor="end">0.2</text>
<text transform="translate(64.70,1081.20) scale(0.970,1.070)" font-size="19.20" text-anchor="end">0.4</text>
<text transform="translate(64.70,998.00) scale(0.970,1.070)" font-size="19.20" text-anchor="end">0.6</text>
<text transform="translate(64.70,914.80) scale(0.970,1.070)" font-size="19.20" text-anchor="end">0.8</text>
<text transform="translate(75.80,1267.70) scale(0.970,1.070)" font-size="19.20" text-anchor="middle">0</text>
<text transform="translate(140.25,1267.70) scale(0.970,1.070)" font-size="19.20" text-anchor="middle">10</text>
<text transform="translate(204.70,1267.70) scale(0.970,1.070)" font-size="19.20" text-anchor="middle">20</text>
<text transform="translate(269.15,1267.70) scale(0.970,1.070)" font-size="19.20" text-anchor="middle">30</text>
<text transform="translate(333.60,1267.70) scale(0.970,1.070)" font-size="19.20" text-anchor="middle">40</text>
<text transform="translate(398.05,1267.70) scale(0.970,1.070)" font-size="19.20" text-anchor="middle">50</text>
<text transform="translate(462.50,1267.70) scale(0.970,1.070)" font-size="19.20" text-anchor="middle">60</text>
<text transform="translate(526.95,1267.70) scale(0.970,1.070)" font-size="19.20" text-anchor="middle">70</text>
<path d="M75.8,1241.8 h-7 M75.8,1158.6 h-7 M75.8,1075.4 h-7 M75.8,992.2 h-7 M75.8,909.0 h-7 M75.8,1200.2 h-4 M75.8,1117.0 h-4 M75.8,1033.8 h-4 M75.8,950.6 h-4 M75.8,1241.8 v7 M140.2,1241.8 v7 M204.7,1241.8 v7 M269.2,1241.8 v7 M333.6,1241.8 v7 M398.1,1241.8 v7 M462.5,1241.8 v7 M527.0,1241.8 v7 M108.0,1241.8 v4 M172.5,1241.8 v4 M236.9,1241.8 v4 M301.4,1241.8 v4 M365.8,1241.8 v4 M430.3,1241.8 v4 M494.7,1241.8 v4" stroke="#262626" stroke-width="1.4" fill="none"/>
<text transform="translate(302.75,1300.70) scale(1.000,1.000)" font-size="19.10" text-anchor="middle">Time (min)</text>
<text transform="translate(24.5,1088.4) rotate(-90)" font-size="19.1" text-anchor="middle">Strain (%)</text>
<path d="M88.4,929.1 H129.0" stroke="#000000" stroke-width="2.9"/>
<text x="133.5" y="935.6" font-size="18.0">V1AL</text>
<path d="M88.4,951.1 H129.0" stroke="#1de6ea" stroke-width="2.9"/>
<text x="133.5" y="957.6" font-size="18.0">V1AR</text>
<path d="M88.4,973.2 H129.0" stroke="#ee1212" stroke-width="2.9"/>
<text x="133.5" y="979.7" font-size="18.0">V2S</text>
<path d="M88.4,995.2 H129.0" stroke="#f28018" stroke-width="2.9"/>
<text x="133.5" y="1001.7" font-size="18.0">V2L</text>
<path d="M88.4,1017.3 H129.0" stroke="#1010d0" stroke-width="2.9"/>
<text x="133.5" y="1023.7" font-size="18.0">VMBA</text>
<path d="M88.4,1039.3 H129.0" stroke="#000" stroke-width="2.9" stroke-dasharray="14 6 3 6 14"/>
<text x="133.5" y="1045.8" font-size="18.0">E</text>
<text x="272.70" y="1334.00" font-size="23" text-anchor="middle" font-family="Liberation Serif, serif">(<tspan font-weight="bold">c</tspan>)</text>
</svg>
</body></html>
